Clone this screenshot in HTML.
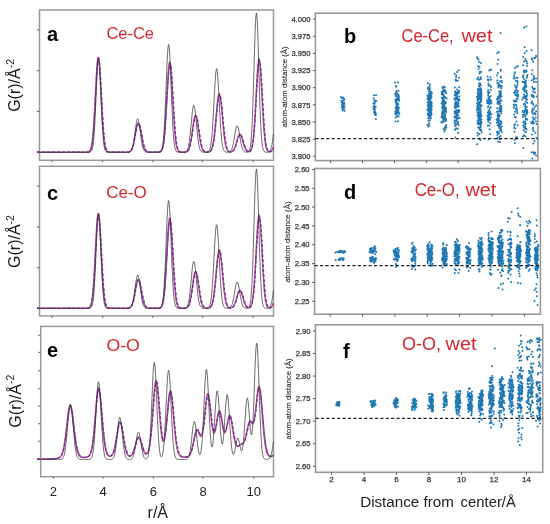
<!DOCTYPE html>
<html><head><meta charset="utf-8"><style>
html,body{margin:0;padding:0;background:#fff;width:550px;height:524px;overflow:hidden}
svg{display:block;filter:blur(0.35px)}
</style></head><body>
<svg width="550" height="524" viewBox="0 0 550 524">
<rect width="550" height="524" fill="#fff"/>
<defs>
<clipPath id="ca"><rect x="37" y="8" width="237" height="152"/></clipPath>
<clipPath id="cc"><rect x="37" y="165" width="237" height="151"/></clipPath>
<clipPath id="ce"><rect x="37" y="324" width="237" height="152"/></clipPath>
</defs>
<rect x="39.5" y="10" width="234.0" height="150.3" fill="none" stroke="#999999" stroke-width="1.5"/>
<line x1="37.0" y1="29.8" x2="39.5" y2="29.8" stroke="#777" stroke-width="1.2"/>
<line x1="37.0" y1="70.6" x2="39.5" y2="70.6" stroke="#777" stroke-width="1.2"/>
<line x1="37.0" y1="111.4" x2="39.5" y2="111.4" stroke="#777" stroke-width="1.2"/>
<line x1="37.0" y1="152.2" x2="39.5" y2="152.2" stroke="#777" stroke-width="1.2"/>
<line x1="52" y1="160.3" x2="52" y2="162.3" stroke="#777" stroke-width="1.2"/>
<line x1="102.6" y1="160.3" x2="102.6" y2="162.3" stroke="#777" stroke-width="1.2"/>
<line x1="152.8" y1="160.3" x2="152.8" y2="162.3" stroke="#777" stroke-width="1.2"/>
<line x1="202.5" y1="160.3" x2="202.5" y2="162.3" stroke="#777" stroke-width="1.2"/>
<line x1="253.2" y1="160.3" x2="253.2" y2="162.3" stroke="#777" stroke-width="1.2"/>
<g clip-path="url(#ca)">
<path d="M37.00,152.20 L37.50,152.20 L38.00,152.20 L38.50,152.20 L39.00,152.20 L39.50,152.20 L40.00,152.20 L40.50,152.20 L41.00,152.20 L41.50,152.20 L42.00,152.20 L42.50,152.20 L43.00,152.20 L43.50,152.20 L44.00,152.20 L44.50,152.20 L45.00,152.20 L45.50,152.20 L46.00,152.20 L46.50,152.20 L47.00,152.20 L47.50,152.20 L48.00,152.20 L48.50,152.20 L49.00,152.20 L49.50,152.20 L50.00,152.20 L50.50,152.20 L51.00,152.20 L51.50,152.20 L52.00,152.20 L52.50,152.20 L53.00,152.20 L53.50,152.20 L54.00,152.20 L54.50,152.20 L55.00,152.20 L55.50,152.20 L56.00,152.20 L56.50,152.20 L57.00,152.20 L57.50,152.20 L58.00,152.20 L58.50,152.20 L59.00,152.20 L59.50,152.20 L60.00,152.20 L60.50,152.20 L61.00,152.20 L61.50,152.20 L62.00,152.20 L62.50,152.20 L63.00,152.20 L63.50,152.20 L64.00,152.20 L64.50,152.20 L65.00,152.20 L65.50,152.20 L66.00,152.20 L66.50,152.20 L67.00,152.20 L67.50,152.20 L68.00,152.20 L68.50,152.20 L69.00,152.20 L69.50,152.20 L70.00,152.20 L70.50,152.20 L71.00,152.20 L71.50,152.20 L72.00,152.20 L72.50,152.20 L73.00,152.20 L73.50,152.20 L74.00,152.20 L74.50,152.20 L75.00,152.20 L75.50,152.20 L76.00,152.20 L76.50,152.20 L77.00,152.20 L77.50,152.20 L78.00,152.20 L78.50,152.20 L79.00,152.20 L79.50,152.20 L80.00,152.20 L80.50,152.20 L81.00,152.20 L81.50,152.20 L82.00,152.20 L82.50,152.20 L83.00,152.20 L83.50,152.20 L84.00,152.20 L84.50,152.20 L85.00,152.20 L85.50,152.20 L86.00,152.19 L86.50,152.18 L87.00,152.16 L87.50,152.13 L88.00,152.06 L88.50,151.94 L89.00,151.73 L89.50,151.37 L90.00,150.80 L90.50,149.90 L91.00,148.54 L91.50,146.56 L92.00,143.76 L92.50,139.96 L93.00,135.00 L93.50,128.76 L94.00,121.23 L94.50,112.53 L95.00,102.93 L95.50,92.88 L96.00,82.95 L96.50,73.82 L97.00,66.20 L97.50,60.70 L98.00,57.83 L98.50,57.83 L99.00,60.70 L99.50,66.20 L100.00,73.82 L100.50,82.95 L101.00,92.88 L101.50,102.93 L102.00,112.53 L102.50,121.23 L103.00,128.76 L103.50,135.00 L104.00,139.96 L104.50,143.76 L105.00,146.56 L105.50,148.54 L106.00,149.90 L106.50,150.80 L107.00,151.37 L107.50,151.73 L108.00,151.94 L108.50,152.06 L109.00,152.13 L109.50,152.16 L110.00,152.18 L110.50,152.19 L111.00,152.20 L111.50,152.20 L112.00,152.20 L112.50,152.20 L113.00,152.20 L113.50,152.20 L114.00,152.20 L114.50,152.20 L115.00,152.20 L115.50,152.20 L116.00,152.20 L116.50,152.20 L117.00,152.20 L117.50,152.20 L118.00,152.20 L118.50,152.20 L119.00,152.20 L119.50,152.20 L120.00,152.20 L120.50,152.20 L121.00,152.20 L121.50,152.20 L122.00,152.20 L122.50,152.20 L123.00,152.20 L123.50,152.20 L124.00,152.20 L124.50,152.20 L125.00,152.20 L125.50,152.20 L126.00,152.19 L126.50,152.18 L127.00,152.17 L127.50,152.14 L128.00,152.10 L128.50,152.03 L129.00,151.92 L129.50,151.74 L130.00,151.47 L130.50,151.08 L131.00,150.52 L131.50,149.74 L132.00,148.71 L132.50,147.37 L133.00,145.69 L133.50,143.66 L134.00,141.30 L134.50,138.67 L135.00,135.84 L135.50,132.96 L136.00,130.17 L136.50,127.64 L137.00,125.57 L137.50,124.08 L138.00,123.31 L138.50,123.31 L139.00,124.08 L139.50,125.57 L140.00,127.64 L140.50,130.17 L141.00,132.96 L141.50,135.84 L142.00,138.67 L142.50,141.30 L143.00,143.66 L143.50,145.69 L144.00,147.37 L144.50,148.71 L145.00,149.74 L145.50,150.52 L146.00,151.08 L146.50,151.47 L147.00,151.74 L147.50,151.92 L148.00,152.03 L148.50,152.10 L149.00,152.14 L149.50,152.17 L150.00,152.18 L150.50,152.19 L151.00,152.20 L151.50,152.20 L152.00,152.20 L152.50,152.20 L153.00,152.20 L153.50,152.20 L154.00,152.20 L154.50,152.20 L155.00,152.20 L155.50,152.20 L156.00,152.20 L156.50,152.20 L157.00,152.19 L157.50,152.18 L158.00,152.17 L158.50,152.14 L159.00,152.09 L159.50,151.99 L160.00,151.83 L160.50,151.56 L161.00,151.12 L161.50,150.44 L162.00,149.41 L162.50,147.89 L163.00,145.74 L163.50,142.78 L164.00,138.88 L164.50,133.89 L165.00,127.75 L165.50,120.48 L166.00,112.22 L166.50,103.24 L167.00,93.96 L167.50,84.90 L168.00,76.65 L168.50,69.80 L169.00,64.89 L169.50,62.33 L170.00,62.33 L170.50,64.89 L171.00,69.80 L171.50,76.65 L172.00,84.90 L172.50,93.96 L173.00,103.24 L173.50,112.22 L174.00,120.48 L174.50,127.75 L175.00,133.89 L175.50,138.88 L176.00,142.78 L176.50,145.74 L177.00,147.89 L177.50,149.41 L178.00,150.44 L178.50,151.12 L179.00,151.56 L179.50,151.83 L180.00,151.99 L180.50,152.09 L181.00,152.14 L181.50,152.17 L182.00,152.18 L182.50,152.19 L183.00,152.19 L183.50,152.18 L184.00,152.17 L184.50,152.15 L185.00,152.11 L185.50,152.05 L186.00,151.94 L186.50,151.77 L187.00,151.50 L187.50,151.10 L188.00,150.52 L188.50,149.71 L189.00,148.60 L189.50,147.14 L190.00,145.27 L190.50,142.97 L191.00,140.22 L191.50,137.08 L192.00,133.63 L192.50,129.99 L193.00,126.35 L193.50,122.92 L194.00,119.92 L194.50,117.57 L195.00,116.03 L195.50,115.44 L196.00,115.84 L196.50,117.19 L197.00,119.39 L197.50,122.28 L198.00,125.64 L198.50,129.26 L199.00,132.91 L199.50,136.41 L200.00,139.62 L200.50,142.45 L201.00,144.84 L201.50,146.80 L202.00,148.34 L202.50,149.51 L203.00,150.38 L203.50,151.00 L204.00,151.43 L204.50,151.72 L205.00,151.91 L205.50,152.02 L206.00,152.09 L206.50,152.13 L207.00,152.14 L207.50,152.13 L208.00,152.10 L208.50,152.03 L209.00,151.92 L209.50,151.73 L210.00,151.45 L210.50,151.01 L211.00,150.37 L211.50,149.45 L212.00,148.17 L212.50,146.44 L213.00,144.19 L213.50,141.33 L214.00,137.82 L214.50,133.66 L215.00,128.90 L215.50,123.64 L216.00,118.08 L216.50,112.46 L217.00,107.07 L217.50,102.24 L218.00,98.28 L218.50,95.47 L219.00,94.01 L219.50,94.01 L220.00,95.47 L220.50,98.28 L221.00,102.24 L221.50,107.07 L222.00,112.46 L222.50,118.08 L223.00,123.64 L223.50,128.90 L224.00,133.66 L224.50,137.82 L225.00,141.33 L225.50,144.19 L226.00,146.44 L226.50,148.17 L227.00,149.44 L227.50,150.36 L228.00,151.00 L228.50,151.43 L229.00,151.70 L229.50,151.87 L230.00,151.94 L230.50,151.95 L231.00,151.89 L231.50,151.76 L232.00,151.55 L232.50,151.23 L233.00,150.78 L233.50,150.17 L234.00,149.38 L234.50,148.39 L235.00,147.17 L235.50,145.75 L236.00,144.15 L236.50,142.41 L237.00,140.62 L237.50,138.87 L238.00,137.26 L238.50,135.91 L239.00,134.91 L239.50,134.34 L240.00,134.24 L240.50,134.63 L241.00,135.46 L241.50,136.69 L242.00,138.20 L242.50,139.91 L243.00,141.70 L243.50,143.46 L244.00,145.13 L244.50,146.63 L245.00,147.93 L245.50,149.01 L246.00,149.88 L246.50,150.55 L247.00,151.05 L247.50,151.40 L248.00,151.63 L248.50,151.74 L249.00,151.74 L249.50,151.61 L250.00,151.32 L250.50,150.80 L251.00,149.99 L251.50,148.74 L252.00,146.94 L252.50,144.41 L253.00,140.99 L253.50,136.52 L254.00,130.90 L254.50,124.08 L255.00,116.14 L255.50,107.28 L256.00,97.83 L256.50,88.27 L257.00,79.17 L257.50,71.16 L258.00,64.83 L258.50,60.69 L259.00,59.09 L259.50,60.16 L260.00,63.81 L260.50,69.74 L261.00,77.46 L261.50,86.40 L262.00,95.91 L262.50,105.42 L263.00,114.44 L263.50,122.58 L264.00,129.63 L264.50,135.49 L265.00,140.19 L265.50,143.81 L266.00,146.50 L266.50,148.44 L267.00,149.78 L267.50,150.68 L268.00,151.26 L268.50,151.61 L269.00,151.79 L269.50,151.84 L270.00,151.78 L270.50,151.62 L271.00,151.33 L271.50,150.88 L272.00,150.24 L272.50,149.35 L273.00,148.17 L273.50,146.66" fill="none" stroke="#c84a8a" stroke-width="1.5"/>
<path d="M37.00,152.20 L37.50,152.20 L38.00,152.20 L38.50,152.20 L39.00,152.20 L39.50,152.20 L40.00,152.20 L40.50,152.20 L41.00,152.20 L41.50,152.20 L42.00,152.20 L42.50,152.20 L43.00,152.20 L43.50,152.20 L44.00,152.20 L44.50,152.20 L45.00,152.20 L45.50,152.20 L46.00,152.20 L46.50,152.20 L47.00,152.20 L47.50,152.20 L48.00,152.20 L48.50,152.20 L49.00,152.20 L49.50,152.20 L50.00,152.20 L50.50,152.20 L51.00,152.20 L51.50,152.20 L52.00,152.20 L52.50,152.20 L53.00,152.20 L53.50,152.20 L54.00,152.20 L54.50,152.20 L55.00,152.20 L55.50,152.20 L56.00,152.20 L56.50,152.20 L57.00,152.20 L57.50,152.20 L58.00,152.20 L58.50,152.20 L59.00,152.20 L59.50,152.20 L60.00,152.20 L60.50,152.20 L61.00,152.20 L61.50,152.20 L62.00,152.20 L62.50,152.20 L63.00,152.20 L63.50,152.20 L64.00,152.20 L64.50,152.20 L65.00,152.20 L65.50,152.20 L66.00,152.20 L66.50,152.20 L67.00,152.20 L67.50,152.20 L68.00,152.20 L68.50,152.20 L69.00,152.20 L69.50,152.20 L70.00,152.20 L70.50,152.20 L71.00,152.20 L71.50,152.20 L72.00,152.20 L72.50,152.20 L73.00,152.20 L73.50,152.20 L74.00,152.20 L74.50,152.20 L75.00,152.20 L75.50,152.20 L76.00,152.20 L76.50,152.20 L77.00,152.20 L77.50,152.20 L78.00,152.20 L78.50,152.20 L79.00,152.20 L79.50,152.20 L80.00,152.20 L80.50,152.20 L81.00,152.20 L81.50,152.20 L82.00,152.20 L82.50,152.20 L83.00,152.20 L83.50,152.20 L84.00,152.20 L84.50,152.20 L85.00,152.20 L85.50,152.20 L86.00,152.19 L86.50,152.18 L87.00,152.16 L87.50,152.13 L88.00,152.07 L88.50,151.95 L89.00,151.76 L89.50,151.44 L90.00,150.92 L90.50,150.11 L91.00,148.89 L91.50,147.11 L92.00,144.59 L92.50,141.17 L93.00,136.67 L93.50,130.98 L94.00,124.06 L94.50,115.97 L95.00,106.92 L95.50,97.27 L96.00,87.51 L96.50,78.25 L97.00,70.14 L97.50,63.81 L98.00,59.78 L98.50,58.40 L99.00,59.78 L99.50,63.81 L100.00,70.14 L100.50,78.25 L101.00,87.51 L101.50,97.27 L102.00,106.92 L102.50,115.97 L103.00,124.06 L103.50,130.98 L104.00,136.67 L104.50,141.17 L105.00,144.59 L105.50,147.11 L106.00,148.89 L106.50,150.11 L107.00,150.92 L107.50,151.44 L108.00,151.76 L108.50,151.95 L109.00,152.07 L109.50,152.13 L110.00,152.16 L110.50,152.18 L111.00,152.19 L111.50,152.20 L112.00,152.20 L112.50,152.20 L113.00,152.20 L113.50,152.20 L114.00,152.20 L114.50,152.20 L115.00,152.20 L115.50,152.20 L116.00,152.20 L116.50,152.20 L117.00,152.20 L117.50,152.20 L118.00,152.20 L118.50,152.20 L119.00,152.20 L119.50,152.20 L120.00,152.20 L120.50,152.20 L121.00,152.20 L121.50,152.20 L122.00,152.20 L122.50,152.20 L123.00,152.20 L123.50,152.20 L124.00,152.20 L124.50,152.20 L125.00,152.20 L125.50,152.20 L126.00,152.19 L126.50,152.18 L127.00,152.17 L127.50,152.15 L128.00,152.11 L128.50,152.04 L129.00,151.94 L129.50,151.78 L130.00,151.53 L130.50,151.17 L131.00,150.66 L131.50,149.96 L132.00,149.01 L132.50,147.79 L133.00,146.25 L133.50,144.38 L134.00,142.19 L134.50,139.72 L135.00,137.03 L135.50,134.23 L136.00,131.47 L136.50,128.89 L137.00,126.67 L137.50,124.96 L138.00,123.87 L138.50,123.50 L139.00,123.87 L139.50,124.96 L140.00,126.67 L140.50,128.89 L141.00,131.47 L141.50,134.23 L142.00,137.03 L142.50,139.72 L143.00,142.19 L143.50,144.38 L144.00,146.25 L144.50,147.79 L145.00,149.01 L145.50,149.96 L146.00,150.66 L146.50,151.17 L147.00,151.53 L147.50,151.78 L148.00,151.94 L148.50,152.04 L149.00,152.11 L149.50,152.15 L150.00,152.17 L150.50,152.18 L151.00,152.19 L151.50,152.20 L152.00,152.20 L152.50,152.20 L153.00,152.20 L153.50,152.20 L154.00,152.20 L154.50,152.20 L155.00,152.20 L155.50,152.20 L156.00,152.20 L156.50,152.20 L157.00,152.19 L157.50,152.18 L158.00,152.17 L158.50,152.14 L159.00,152.09 L159.50,152.00 L160.00,151.85 L160.50,151.61 L161.00,151.21 L161.50,150.59 L162.00,149.65 L162.50,148.28 L163.00,146.33 L163.50,143.66 L164.00,140.11 L164.50,135.57 L165.00,129.93 L165.50,123.21 L166.00,115.49 L166.50,106.98 L167.00,98.04 L167.50,89.10 L168.00,80.69 L168.50,73.39 L169.00,67.73 L169.50,64.13 L170.00,62.90 L170.50,64.13 L171.00,67.73 L171.50,73.39 L172.00,80.69 L172.50,89.10 L173.00,98.04 L173.50,106.98 L174.00,115.49 L174.50,123.21 L175.00,129.93 L175.50,135.57 L176.00,140.11 L176.50,143.66 L177.00,146.33 L177.50,148.28 L178.00,149.65 L178.50,150.59 L179.00,151.21 L179.50,151.61 L180.00,151.85 L180.50,152.00 L181.00,152.09 L181.50,152.14 L182.00,152.17 L182.50,152.18 L183.00,152.19 L183.50,152.18 L184.00,152.17 L184.50,152.15 L185.00,152.12 L185.50,152.05 L186.00,151.95 L186.50,151.80 L187.00,151.55 L187.50,151.19 L188.00,150.66 L188.50,149.93 L189.00,148.92 L189.50,147.58 L190.00,145.88 L190.50,143.76 L191.00,141.22 L191.50,138.29 L192.00,135.03 L192.50,131.54 L193.00,127.99 L193.50,124.56 L194.00,121.45 L194.50,118.86 L195.00,116.99 L195.50,115.97 L196.00,115.88 L196.50,116.72 L197.00,118.43 L197.50,120.88 L198.00,123.90 L198.50,127.29 L199.00,130.83 L199.50,134.34 L200.00,137.66 L200.50,140.67 L201.00,143.29 L201.50,145.49 L202.00,147.27 L202.50,148.68 L203.00,149.75 L203.50,150.53 L204.00,151.10 L204.50,151.49 L205.00,151.75 L205.50,151.92 L206.00,152.03 L206.50,152.09 L207.00,152.12 L207.50,152.12 L208.00,152.09 L208.50,152.03 L209.00,151.93 L209.50,151.76 L210.00,151.49 L210.50,151.09 L211.00,150.50 L211.50,149.66 L212.00,148.49 L212.50,146.92 L213.00,144.86 L213.50,142.23 L214.00,139.00 L214.50,135.15 L215.00,130.70 L215.50,125.74 L216.00,120.42 L216.50,114.95 L217.00,109.60 L217.50,104.66 L218.00,100.41 L218.50,97.15 L219.00,95.10 L219.50,94.40 L220.00,95.10 L220.50,97.15 L221.00,100.41 L221.50,104.66 L222.00,109.60 L222.50,114.95 L223.00,120.42 L223.50,125.74 L224.00,130.70 L224.50,135.15 L225.00,139.00 L225.50,142.23 L226.00,144.85 L226.50,146.92 L227.00,148.49 L227.50,149.66 L228.00,150.49 L228.50,151.08 L229.00,151.47 L229.50,151.71 L230.00,151.85 L230.50,151.90 L231.00,151.87 L231.50,151.77 L232.00,151.59 L232.50,151.30 L233.00,150.90 L233.50,150.35 L234.00,149.63 L234.50,148.72 L235.00,147.60 L235.50,146.28 L236.00,144.78 L236.50,143.13 L237.00,141.40 L237.50,139.68 L238.00,138.05 L238.50,136.62 L239.00,135.49 L239.50,134.73 L240.00,134.41 L240.50,134.55 L241.00,135.13 L241.50,136.13 L242.00,137.45 L242.50,139.01 L243.00,140.71 L243.50,142.45 L244.00,144.13 L244.50,145.70 L245.00,147.10 L245.50,148.29 L246.00,149.29 L246.50,150.08 L247.00,150.68 L247.50,151.13 L248.00,151.43 L248.50,151.61 L249.00,151.66 L249.50,151.58 L250.00,151.34 L250.50,150.89 L251.00,150.16 L251.50,149.04 L252.00,147.41 L252.50,145.13 L253.00,142.03 L253.50,137.97 L254.00,132.84 L254.50,126.56 L255.00,119.19 L255.50,110.86 L256.00,101.85 L256.50,92.56 L257.00,83.48 L257.50,75.19 L258.00,68.26 L258.50,63.22 L259.00,60.46 L259.50,60.20 L260.00,62.48 L260.50,67.09 L261.00,73.68 L261.50,81.74 L262.00,90.70 L262.50,100.00 L263.00,109.11 L263.50,117.60 L264.00,125.18 L264.50,131.67 L265.00,137.03 L265.50,141.30 L266.00,144.58 L266.50,147.02 L267.00,148.77 L267.50,149.98 L268.00,150.79 L268.50,151.30 L269.00,151.60 L269.50,151.74 L270.00,151.74 L270.50,151.63 L271.00,151.38 L271.50,150.99 L272.00,150.41 L272.50,149.61 L273.00,148.54 L273.50,147.17" fill="none" stroke="#7a35a0" stroke-width="1.3" stroke-dasharray="3,2"/>
<path d="M37.00,151.83 L37.50,151.81 L38.00,152.42 L38.50,152.54 L39.00,152.62 L39.50,152.32 L40.00,152.38 L40.50,152.33 L41.00,152.39 L41.50,152.51 L42.00,152.35 L42.50,152.12 L43.00,151.62 L43.50,151.76 L44.00,151.97 L44.50,152.35 L45.00,152.62 L45.50,152.38 L46.00,152.48 L46.50,152.42 L47.00,152.62 L47.50,152.18 L48.00,151.95 L48.50,152.08 L49.00,152.45 L49.50,152.39 L50.00,152.24 L50.50,152.25 L51.00,152.39 L51.50,152.24 L52.00,151.78 L52.50,151.95 L53.00,152.18 L53.50,152.65 L54.00,152.84 L54.50,152.89 L55.00,152.93 L55.50,152.34 L56.00,152.21 L56.50,152.31 L57.00,152.38 L57.50,152.42 L58.00,152.44 L58.50,152.65 L59.00,152.69 L59.50,152.54 L60.00,152.44 L60.50,152.72 L61.00,152.61 L61.50,152.45 L62.00,151.93 L62.50,151.70 L63.00,151.69 L63.50,151.58 L64.00,151.95 L64.50,152.00 L65.00,152.56 L65.50,152.47 L66.00,152.93 L66.50,152.44 L67.00,152.12 L67.50,151.84 L68.00,151.71 L68.50,152.05 L69.00,151.99 L69.50,152.26 L70.00,152.33 L70.50,152.28 L71.00,151.98 L71.50,151.97 L72.00,151.90 L72.50,152.25 L73.00,151.78 L73.50,151.85 L74.00,151.71 L74.50,151.90 L75.00,151.94 L75.50,152.28 L76.00,152.16 L76.50,152.43 L77.00,152.16 L77.50,152.29 L78.00,152.20 L78.50,152.21 L79.00,152.12 L79.50,151.99 L80.00,152.16 L80.50,152.84 L81.00,153.00 L81.50,152.95 L82.00,152.55 L82.50,152.54 L83.00,152.38 L83.50,152.39 L84.00,152.25 L84.50,152.20 L85.00,152.25 L85.50,152.28 L86.00,152.02 L86.50,151.73 L87.00,151.88 L87.50,152.22 L88.00,152.22 L88.50,151.70 L89.00,151.49 L89.50,151.40 L90.00,151.27 L90.50,150.49 L91.00,149.29 L91.50,147.71 L92.00,145.65 L92.50,142.77 L93.00,138.60 L93.50,133.61 L94.00,127.22 L94.50,119.81 L95.00,111.21 L95.50,102.28 L96.00,92.70 L96.50,83.59 L97.00,74.85 L97.50,68.05 L98.00,63.02 L98.50,60.19 L99.00,59.76 L99.50,61.83 L100.00,66.59 L100.50,73.55 L101.00,81.96 L101.50,91.24 L102.00,100.31 L102.50,109.30 L103.00,117.94 L103.50,125.78 L104.00,132.47 L104.50,137.76 L105.00,141.89 L105.50,145.08 L106.00,147.62 L106.50,149.58 L107.00,150.62 L107.50,151.09 L108.00,151.22 L108.50,151.66 L109.00,151.75 L109.50,151.99 L110.00,151.96 L110.50,151.98 L111.00,151.98 L111.50,152.11 L112.00,152.08 L112.50,152.37 L113.00,152.21 L113.50,152.39 L114.00,152.12 L114.50,152.25 L115.00,152.26 L115.50,152.35 L116.00,152.06 L116.50,152.19 L117.00,152.15 L117.50,152.36 L118.00,152.45 L118.50,152.01 L119.00,151.98 L119.50,152.01 L120.00,152.22 L120.50,152.39 L121.00,152.08 L121.50,152.17 L122.00,152.10 L122.50,152.24 L123.00,152.47 L123.50,152.38 L124.00,152.58 L124.50,152.70 L125.00,152.70 L125.50,152.25 L126.00,151.94 L126.50,151.62 L127.00,151.66 L127.50,151.83 L128.00,152.11 L128.50,152.50 L129.00,152.49 L129.50,152.49 L130.00,151.89 L130.50,151.31 L131.00,150.78 L131.50,150.31 L132.00,149.84 L132.50,148.67 L133.00,147.15 L133.50,145.13 L134.00,143.24 L134.50,140.65 L135.00,138.00 L135.50,135.20 L136.00,132.91 L136.50,130.55 L137.00,128.15 L137.50,126.12 L138.00,124.58 L138.50,123.71 L139.00,123.41 L139.50,123.93 L140.00,125.36 L140.50,127.37 L141.00,129.91 L141.50,132.56 L142.00,135.02 L142.50,137.73 L143.00,139.87 L143.50,142.59 L144.00,144.53 L144.50,146.44 L145.00,147.82 L145.50,148.94 L146.00,150.04 L146.50,150.79 L147.00,151.36 L147.50,151.77 L148.00,151.65 L148.50,151.81 L149.00,151.51 L149.50,152.30 L150.00,152.30 L150.50,152.52 L151.00,152.14 L151.50,151.96 L152.00,151.96 L152.50,151.95 L153.00,152.07 L153.50,151.70 L154.00,151.62 L154.50,151.64 L155.00,152.18 L155.50,152.20 L156.00,152.46 L156.50,152.42 L157.00,152.03 L157.50,151.63 L158.00,151.48 L158.50,151.68 L159.00,151.50 L159.50,151.43 L160.00,151.14 L160.50,151.05 L161.00,150.78 L161.50,150.29 L162.00,150.05 L162.50,148.97 L163.00,147.51 L163.50,144.92 L164.00,141.72 L164.50,137.82 L165.00,132.71 L165.50,126.13 L166.00,118.81 L166.50,110.76 L167.00,102.46 L167.50,93.86 L168.00,85.22 L168.50,77.67 L169.00,70.94 L169.50,66.67 L170.00,64.05 L170.50,64.07 L171.00,66.12 L171.50,70.33 L172.00,76.60 L172.50,83.63 L173.00,92.09 L173.50,100.56 L174.00,109.42 L174.50,117.45 L175.00,125.17 L175.50,131.48 L176.00,137.01 L176.50,140.89 L177.00,144.22 L177.50,146.51 L178.00,148.52 L178.50,149.49 L179.00,150.09 L179.50,150.58 L180.00,151.27 L180.50,151.85 L181.00,151.75 L181.50,151.52 L182.00,151.81 L182.50,152.15 L183.00,152.66 L183.50,152.64 L184.00,152.81 L184.50,152.55 L185.00,152.53 L185.50,151.95 L186.00,151.77 L186.50,151.61 L187.00,151.82 L187.50,151.75 L188.00,150.89 L188.50,150.20 L189.00,149.46 L189.50,148.52 L190.00,146.79 L190.50,144.75 L191.00,142.16 L191.50,139.49 L192.00,136.27 L192.50,133.38 L193.00,129.99 L193.50,126.68 L194.00,123.71 L194.50,120.85 L195.00,118.91 L195.50,117.06 L196.00,116.73 L196.50,116.37 L197.00,117.45 L197.50,118.99 L198.00,121.77 L198.50,125.11 L199.00,128.98 L199.50,132.64 L200.00,135.64 L200.50,138.40 L201.00,141.06 L201.50,143.51 L202.00,145.84 L202.50,147.60 L203.00,148.74 L203.50,149.59 L204.00,150.72 L204.50,151.61 L205.00,151.97 L205.50,151.81 L206.00,152.08 L206.50,152.09 L207.00,152.58 L207.50,152.31 L208.00,152.05 L208.50,151.42 L209.00,151.72 L209.50,151.78 L210.00,152.26 L210.50,151.61 L211.00,151.15 L211.50,150.07 L212.00,149.03 L212.50,147.59 L213.00,145.43 L213.50,143.12 L214.00,140.18 L214.50,137.15 L215.00,133.27 L215.50,128.77 L216.00,123.37 L216.50,117.91 L217.00,112.30 L217.50,107.45 L218.00,102.98 L218.50,99.48 L219.00,96.71 L219.50,95.13 L220.00,95.14 L220.50,96.05 L221.00,98.63 L221.50,101.87 L222.00,106.48 L222.50,111.13 L223.00,116.80 L223.50,122.00 L224.00,127.41 L224.50,131.86 L225.00,135.95 L225.50,139.70 L226.00,142.99 L226.50,145.82 L227.00,147.52 L227.50,149.09 L228.00,150.01 L228.50,151.06 L229.00,151.48 L229.50,151.93 L230.00,151.88 L230.50,151.91 L231.00,151.95 L231.50,151.97 L232.00,151.76 L232.50,151.89 L233.00,151.61 L233.50,151.07 L234.00,149.80 L234.50,148.57 L235.00,147.46 L235.50,146.43 L236.00,145.54 L236.50,144.10 L237.00,142.33 L237.50,140.27 L238.00,138.79 L238.50,137.39 L239.00,136.19 L239.50,134.79 L240.00,134.23 L240.50,134.32 L241.00,135.05 L241.50,135.88 L242.00,136.98 L242.50,138.10 L243.00,139.43 L243.50,140.87 L244.00,142.49 L244.50,144.35 L245.00,145.90 L245.50,147.48 L246.00,148.52 L246.50,149.30 L247.00,149.98 L247.50,150.86 L248.00,151.51 L248.50,151.88 L249.00,151.95 L249.50,152.03 L250.00,151.58 L250.50,150.69 L251.00,150.02 L251.50,149.05 L252.00,147.72 L252.50,145.83 L253.00,143.28 L253.50,139.89 L254.00,135.08 L254.50,129.68 L255.00,123.01 L255.50,115.15 L256.00,106.18 L256.50,96.87 L257.00,88.12 L257.50,79.51 L258.00,72.22 L258.50,66.44 L259.00,62.65 L259.50,61.13 L260.00,61.54 L260.50,64.78 L261.00,69.72 L261.50,76.70 L262.00,84.89 L262.50,93.79 L263.00,102.81 L263.50,111.55 L264.00,119.55 L264.50,126.80 L265.00,132.92 L265.50,138.24 L266.00,142.39 L266.50,145.44 L267.00,147.32 L267.50,148.86 L268.00,149.90 L268.50,151.15 L269.00,151.58 L269.50,151.59 L270.00,151.35 L270.50,151.31 L271.00,151.39 L271.50,151.35 L272.00,150.89 L272.50,150.35 L273.00,149.42 L273.50,148.06" fill="none" stroke="#4040b0" stroke-width="1.0" stroke-dasharray="2,3" stroke-dashoffset="0.5" stroke-opacity="0.8"/>
<path d="M37.00,152.20 L37.50,152.20 L38.00,152.20 L38.50,152.20 L39.00,152.20 L39.50,152.20 L40.00,152.20 L40.50,152.20 L41.00,152.20 L41.50,152.20 L42.00,152.20 L42.50,152.20 L43.00,152.20 L43.50,152.20 L44.00,152.20 L44.50,152.20 L45.00,152.20 L45.50,152.20 L46.00,152.20 L46.50,152.20 L47.00,152.20 L47.50,152.20 L48.00,152.20 L48.50,152.20 L49.00,152.20 L49.50,152.20 L50.00,152.20 L50.50,152.20 L51.00,152.20 L51.50,152.20 L52.00,152.20 L52.50,152.20 L53.00,152.20 L53.50,152.20 L54.00,152.20 L54.50,152.20 L55.00,152.20 L55.50,152.20 L56.00,152.20 L56.50,152.20 L57.00,152.20 L57.50,152.20 L58.00,152.20 L58.50,152.20 L59.00,152.20 L59.50,152.20 L60.00,152.20 L60.50,152.20 L61.00,152.20 L61.50,152.20 L62.00,152.20 L62.50,152.20 L63.00,152.20 L63.50,152.20 L64.00,152.20 L64.50,152.20 L65.00,152.20 L65.50,152.20 L66.00,152.20 L66.50,152.20 L67.00,152.20 L67.50,152.20 L68.00,152.20 L68.50,152.20 L69.00,152.20 L69.50,152.20 L70.00,152.20 L70.50,152.20 L71.00,152.20 L71.50,152.20 L72.00,152.20 L72.50,152.20 L73.00,152.20 L73.50,152.20 L74.00,152.20 L74.50,152.20 L75.00,152.20 L75.50,152.20 L76.00,152.20 L76.50,152.20 L77.00,152.20 L77.50,152.20 L78.00,152.20 L78.50,152.20 L79.00,152.20 L79.50,152.20 L80.00,152.20 L80.50,152.20 L81.00,152.20 L81.50,152.20 L82.00,152.20 L82.50,152.20 L83.00,152.20 L83.50,152.20 L84.00,152.20 L84.50,152.20 L85.00,152.20 L85.50,152.20 L86.00,152.20 L86.50,152.20 L87.00,152.20 L87.50,152.20 L88.00,152.19 L88.50,152.18 L89.00,152.16 L89.50,152.12 L90.00,152.02 L90.50,151.83 L91.00,151.48 L91.50,150.85 L92.00,149.78 L92.50,148.04 L93.00,145.35 L93.50,141.39 L94.00,135.87 L94.50,128.59 L95.00,119.50 L95.50,108.84 L96.00,97.15 L96.50,85.28 L97.00,74.30 L97.50,65.37 L98.00,59.53 L98.50,57.50 L99.00,59.53 L99.50,65.37 L100.00,74.30 L100.50,85.28 L101.00,97.15 L101.50,108.84 L102.00,119.50 L102.50,128.59 L103.00,135.87 L103.50,141.39 L104.00,145.35 L104.50,148.04 L105.00,149.78 L105.50,150.85 L106.00,151.48 L106.50,151.83 L107.00,152.02 L107.50,152.12 L108.00,152.16 L108.50,152.18 L109.00,152.19 L109.50,152.20 L110.00,152.20 L110.50,152.20 L111.00,152.20 L111.50,152.20 L112.00,152.20 L112.50,152.20 L113.00,152.20 L113.50,152.20 L114.00,152.20 L114.50,152.20 L115.00,152.20 L115.50,152.20 L116.00,152.20 L116.50,152.20 L117.00,152.20 L117.50,152.20 L118.00,152.20 L118.50,152.20 L119.00,152.20 L119.50,152.20 L120.00,152.20 L120.50,152.20 L121.00,152.20 L121.50,152.20 L122.00,152.20 L122.50,152.20 L123.00,152.20 L123.50,152.20 L124.00,152.20 L124.50,152.20 L125.00,152.20 L125.50,152.20 L126.00,152.20 L126.50,152.20 L127.00,152.19 L127.50,152.18 L128.00,152.17 L128.50,152.14 L129.00,152.08 L129.50,151.97 L130.00,151.79 L130.50,151.48 L131.00,151.00 L131.50,150.26 L132.00,149.19 L132.50,147.69 L133.00,145.70 L133.50,143.17 L134.00,140.10 L134.50,136.59 L135.00,132.78 L135.50,128.92 L136.00,125.31 L136.50,122.26 L137.00,120.09 L137.50,119.00 L138.00,119.12 L138.50,120.44 L139.00,122.81 L139.50,126.00 L140.00,129.68 L140.50,133.55 L141.00,137.32 L141.50,140.76 L142.00,143.72 L142.50,146.14 L143.00,148.03 L143.50,149.43 L144.00,150.43 L144.50,151.11 L145.00,151.55 L145.50,151.83 L146.00,152.00 L146.50,152.09 L147.00,152.14 L147.50,152.17 L148.00,152.19 L148.50,152.19 L149.00,152.20 L149.50,152.20 L150.00,152.20 L150.50,152.20 L151.00,152.20 L151.50,152.20 L152.00,152.20 L152.50,152.20 L153.00,152.20 L153.50,152.20 L154.00,152.20 L154.50,152.20 L155.00,152.20 L155.50,152.20 L156.00,152.20 L156.50,152.20 L157.00,152.20 L157.50,152.19 L158.00,152.19 L158.50,152.17 L159.00,152.13 L159.50,152.06 L160.00,151.91 L160.50,151.63 L161.00,151.14 L161.50,150.29 L162.00,148.89 L162.50,146.70 L163.00,143.42 L163.50,138.73 L164.00,132.35 L164.50,124.08 L165.00,113.94 L165.50,102.18 L166.00,89.37 L166.50,76.38 L167.00,64.28 L167.50,54.26 L168.00,47.36 L168.50,44.39 L169.00,45.67 L169.50,51.07 L170.00,59.96 L170.50,71.37 L171.00,84.14 L171.50,97.14 L172.00,109.41 L172.50,120.24 L173.00,129.27 L173.50,136.39 L174.00,141.73 L174.50,145.54 L175.00,148.13 L175.50,149.81 L176.00,150.85 L176.50,151.47 L177.00,151.82 L177.50,152.01 L178.00,152.11 L178.50,152.16 L179.00,152.18 L179.50,152.19 L180.00,152.20 L180.50,152.20 L181.00,152.20 L181.50,152.20 L182.00,152.20 L182.50,152.20 L183.00,152.19 L183.50,152.18 L184.00,152.16 L184.50,152.12 L185.00,152.05 L185.50,151.91 L186.00,151.68 L186.50,151.29 L187.00,150.67 L187.50,149.71 L188.00,148.30 L188.50,146.33 L189.00,143.67 L189.50,140.25 L190.00,136.08 L190.50,131.24 L191.00,125.94 L191.50,120.49 L192.00,115.29 L192.50,110.81 L193.00,107.47 L193.50,105.61 L194.00,105.44 L194.50,106.97 L195.00,110.04 L195.50,114.33 L196.00,119.41 L196.50,124.85 L197.00,130.21 L197.50,135.16 L198.00,139.48 L198.50,143.05 L199.00,145.85 L199.50,147.96 L200.00,149.47 L200.50,150.50 L201.00,151.19 L201.50,151.62 L202.00,151.88 L202.50,152.03 L203.00,152.11 L203.50,152.16 L204.00,152.18 L204.50,152.19 L205.00,152.19 L205.50,152.19 L206.00,152.18 L206.50,152.16 L207.00,152.11 L207.50,152.02 L208.00,151.85 L208.50,151.55 L209.00,151.03 L209.50,150.19 L210.00,148.87 L210.50,146.87 L211.00,143.98 L211.50,139.99 L212.00,134.72 L212.50,128.09 L213.00,120.14 L213.50,111.13 L214.00,101.49 L214.50,91.87 L215.00,83.02 L215.50,75.76 L216.00,70.80 L216.50,68.66 L217.00,69.58 L217.50,73.46 L218.00,79.88 L218.50,88.19 L219.00,97.60 L219.50,107.32 L220.00,116.65 L220.50,125.06 L221.00,132.23 L221.50,138.04 L222.00,142.53 L222.50,145.83 L223.00,148.16 L223.50,149.73 L224.00,150.74 L224.50,151.37 L225.00,151.75 L225.50,151.96 L226.00,152.08 L226.50,152.14 L227.00,152.16 L227.50,152.16 L228.00,152.14 L228.50,152.10 L229.00,152.02 L229.50,151.87 L230.00,151.63 L230.50,151.25 L231.00,150.66 L231.50,149.81 L232.00,148.63 L232.50,147.05 L233.00,145.04 L233.50,142.61 L234.00,139.82 L234.50,136.80 L235.00,133.74 L235.50,130.88 L236.00,128.47 L236.50,126.74 L237.00,125.88 L237.50,125.98 L238.00,127.02 L238.50,128.90 L239.00,131.43 L239.50,134.35 L240.00,137.42 L240.50,140.40 L241.00,143.13 L241.50,145.48 L242.00,147.40 L242.50,148.89 L243.00,150.01 L243.50,150.80 L244.00,151.34 L244.50,151.69 L245.00,151.90 L245.50,152.03 L246.00,152.10 L246.50,152.13 L247.00,152.11 L247.50,152.05 L248.00,151.89 L248.50,151.58 L249.00,151.00 L249.50,149.97 L250.00,148.22 L250.50,145.41 L251.00,141.12 L251.50,134.87 L252.00,126.25 L252.50,115.00 L253.00,101.13 L253.50,85.07 L254.00,67.71 L254.50,50.37 L255.00,34.69 L255.50,22.36 L256.00,14.82 L256.50,13.02 L257.00,17.19 L257.50,26.79 L258.00,40.66 L258.50,57.21 L259.00,74.74 L259.50,91.71 L260.00,106.98 L260.50,119.82 L261.00,130.01 L261.50,137.63 L262.00,143.04 L262.50,146.69 L263.00,149.02 L263.50,150.45 L264.00,151.27 L264.50,151.73 L265.00,151.97 L265.50,152.09 L266.00,152.14 L266.50,152.16 L267.00,152.15 L267.50,152.11 L268.00,152.03 L268.50,151.89 L269.00,151.65 L269.50,151.27 L270.00,150.66 L270.50,149.76 L271.00,148.46 L271.50,146.69 L272.00,144.37 L272.50,141.48 L273.00,138.06 L273.50,134.21" fill="none" stroke="#333" stroke-opacity="0.72" stroke-width="1.0"/>
</g>
<g transform="translate(0,156.3)">
<rect x="39.5" y="10" width="234.0" height="149.6" fill="none" stroke="#999999" stroke-width="1.5"/>
<line x1="37.0" y1="29.8" x2="39.5" y2="29.8" stroke="#777" stroke-width="1.2"/>
<line x1="37.0" y1="70.6" x2="39.5" y2="70.6" stroke="#777" stroke-width="1.2"/>
<line x1="37.0" y1="111.4" x2="39.5" y2="111.4" stroke="#777" stroke-width="1.2"/>
<line x1="37.0" y1="152.2" x2="39.5" y2="152.2" stroke="#777" stroke-width="1.2"/>
<line x1="52" y1="159.6" x2="52" y2="161.6" stroke="#777" stroke-width="1.2"/>
<line x1="102.6" y1="159.6" x2="102.6" y2="161.6" stroke="#777" stroke-width="1.2"/>
<line x1="152.8" y1="159.6" x2="152.8" y2="161.6" stroke="#777" stroke-width="1.2"/>
<line x1="202.5" y1="159.6" x2="202.5" y2="161.6" stroke="#777" stroke-width="1.2"/>
<line x1="253.2" y1="159.6" x2="253.2" y2="161.6" stroke="#777" stroke-width="1.2"/>
<g clip-path="url(#ca)">
<path d="M37.00,152.00 L37.50,152.00 L38.00,152.00 L38.50,152.00 L39.00,152.00 L39.50,152.00 L40.00,152.00 L40.50,152.00 L41.00,152.00 L41.50,152.00 L42.00,152.00 L42.50,152.00 L43.00,152.00 L43.50,152.00 L44.00,152.00 L44.50,152.00 L45.00,152.00 L45.50,152.00 L46.00,152.00 L46.50,152.00 L47.00,152.00 L47.50,152.00 L48.00,152.00 L48.50,152.00 L49.00,152.00 L49.50,152.00 L50.00,152.00 L50.50,152.00 L51.00,152.00 L51.50,152.00 L52.00,152.00 L52.50,152.00 L53.00,152.00 L53.50,152.00 L54.00,152.00 L54.50,152.00 L55.00,152.00 L55.50,152.00 L56.00,152.00 L56.50,152.00 L57.00,152.00 L57.50,152.00 L58.00,152.00 L58.50,152.00 L59.00,152.00 L59.50,152.00 L60.00,152.00 L60.50,152.00 L61.00,152.00 L61.50,152.00 L62.00,152.00 L62.50,152.00 L63.00,152.00 L63.50,152.00 L64.00,152.00 L64.50,152.00 L65.00,152.00 L65.50,152.00 L66.00,152.00 L66.50,152.00 L67.00,152.00 L67.50,152.00 L68.00,152.00 L68.50,152.00 L69.00,152.00 L69.50,152.00 L70.00,152.00 L70.50,152.00 L71.00,152.00 L71.50,152.00 L72.00,152.00 L72.50,152.00 L73.00,152.00 L73.50,152.00 L74.00,152.00 L74.50,152.00 L75.00,152.00 L75.50,152.00 L76.00,152.00 L76.50,152.00 L77.00,152.00 L77.50,152.00 L78.00,152.00 L78.50,152.00 L79.00,152.00 L79.50,152.00 L80.00,152.00 L80.50,152.00 L81.00,152.00 L81.50,152.00 L82.00,152.00 L82.50,152.00 L83.00,152.00 L83.50,152.00 L84.00,152.00 L84.50,152.00 L85.00,152.00 L85.50,152.00 L86.00,151.99 L86.50,151.98 L87.00,151.96 L87.50,151.93 L88.00,151.86 L88.50,151.74 L89.00,151.53 L89.50,151.17 L90.00,150.60 L90.50,149.70 L91.00,148.34 L91.50,146.36 L92.00,143.56 L92.50,139.76 L93.00,134.80 L93.50,128.56 L94.00,121.03 L94.50,112.33 L95.00,102.73 L95.50,92.68 L96.00,82.75 L96.50,73.62 L97.00,66.00 L97.50,60.50 L98.00,57.63 L98.50,57.63 L99.00,60.50 L99.50,66.00 L100.00,73.62 L100.50,82.75 L101.00,92.68 L101.50,102.73 L102.00,112.33 L102.50,121.03 L103.00,128.56 L103.50,134.80 L104.00,139.76 L104.50,143.56 L105.00,146.36 L105.50,148.34 L106.00,149.70 L106.50,150.60 L107.00,151.17 L107.50,151.53 L108.00,151.74 L108.50,151.86 L109.00,151.93 L109.50,151.96 L110.00,151.98 L110.50,151.99 L111.00,152.00 L111.50,152.00 L112.00,152.00 L112.50,152.00 L113.00,152.00 L113.50,152.00 L114.00,152.00 L114.50,152.00 L115.00,152.00 L115.50,152.00 L116.00,152.00 L116.50,152.00 L117.00,152.00 L117.50,152.00 L118.00,152.00 L118.50,152.00 L119.00,152.00 L119.50,152.00 L120.00,152.00 L120.50,152.00 L121.00,152.00 L121.50,152.00 L122.00,152.00 L122.50,152.00 L123.00,152.00 L123.50,152.00 L124.00,152.00 L124.50,152.00 L125.00,152.00 L125.50,152.00 L126.00,151.99 L126.50,151.98 L127.00,151.97 L127.50,151.94 L128.00,151.90 L128.50,151.83 L129.00,151.72 L129.50,151.54 L130.00,151.27 L130.50,150.88 L131.00,150.32 L131.50,149.54 L132.00,148.51 L132.50,147.17 L133.00,145.49 L133.50,143.46 L134.00,141.10 L134.50,138.47 L135.00,135.64 L135.50,132.76 L136.00,129.97 L136.50,127.44 L137.00,125.37 L137.50,123.88 L138.00,123.11 L138.50,123.11 L139.00,123.88 L139.50,125.37 L140.00,127.44 L140.50,129.97 L141.00,132.76 L141.50,135.64 L142.00,138.47 L142.50,141.10 L143.00,143.46 L143.50,145.49 L144.00,147.17 L144.50,148.51 L145.00,149.54 L145.50,150.32 L146.00,150.88 L146.50,151.27 L147.00,151.54 L147.50,151.72 L148.00,151.83 L148.50,151.90 L149.00,151.94 L149.50,151.97 L150.00,151.98 L150.50,151.99 L151.00,152.00 L151.50,152.00 L152.00,152.00 L152.50,152.00 L153.00,152.00 L153.50,152.00 L154.00,152.00 L154.50,152.00 L155.00,152.00 L155.50,152.00 L156.00,152.00 L156.50,152.00 L157.00,151.99 L157.50,151.98 L158.00,151.97 L158.50,151.94 L159.00,151.89 L159.50,151.79 L160.00,151.63 L160.50,151.36 L161.00,150.92 L161.50,150.24 L162.00,149.21 L162.50,147.69 L163.00,145.54 L163.50,142.58 L164.00,138.68 L164.50,133.69 L165.00,127.55 L165.50,120.28 L166.00,112.02 L166.50,103.04 L167.00,93.76 L167.50,84.70 L168.00,76.45 L168.50,69.60 L169.00,64.69 L169.50,62.13 L170.00,62.13 L170.50,64.69 L171.00,69.60 L171.50,76.45 L172.00,84.70 L172.50,93.76 L173.00,103.04 L173.50,112.02 L174.00,120.28 L174.50,127.55 L175.00,133.69 L175.50,138.68 L176.00,142.58 L176.50,145.54 L177.00,147.69 L177.50,149.21 L178.00,150.24 L178.50,150.92 L179.00,151.36 L179.50,151.63 L180.00,151.79 L180.50,151.89 L181.00,151.94 L181.50,151.97 L182.00,151.98 L182.50,151.99 L183.00,151.99 L183.50,151.98 L184.00,151.97 L184.50,151.95 L185.00,151.91 L185.50,151.85 L186.00,151.74 L186.50,151.57 L187.00,151.30 L187.50,150.90 L188.00,150.32 L188.50,149.51 L189.00,148.40 L189.50,146.94 L190.00,145.07 L190.50,142.77 L191.00,140.02 L191.50,136.88 L192.00,133.43 L192.50,129.79 L193.00,126.15 L193.50,122.72 L194.00,119.72 L194.50,117.37 L195.00,115.83 L195.50,115.24 L196.00,115.64 L196.50,116.99 L197.00,119.19 L197.50,122.08 L198.00,125.44 L198.50,129.06 L199.00,132.71 L199.50,136.21 L200.00,139.42 L200.50,142.25 L201.00,144.64 L201.50,146.60 L202.00,148.14 L202.50,149.31 L203.00,150.18 L203.50,150.80 L204.00,151.23 L204.50,151.52 L205.00,151.71 L205.50,151.82 L206.00,151.89 L206.50,151.93 L207.00,151.94 L207.50,151.93 L208.00,151.90 L208.50,151.83 L209.00,151.72 L209.50,151.53 L210.00,151.25 L210.50,150.81 L211.00,150.17 L211.50,149.25 L212.00,147.97 L212.50,146.24 L213.00,143.99 L213.50,141.13 L214.00,137.62 L214.50,133.46 L215.00,128.70 L215.50,123.44 L216.00,117.88 L216.50,112.26 L217.00,106.87 L217.50,102.04 L218.00,98.08 L218.50,95.27 L219.00,93.81 L219.50,93.81 L220.00,95.27 L220.50,98.08 L221.00,102.04 L221.50,106.87 L222.00,112.26 L222.50,117.88 L223.00,123.44 L223.50,128.70 L224.00,133.46 L224.50,137.62 L225.00,141.13 L225.50,143.99 L226.00,146.24 L226.50,147.97 L227.00,149.24 L227.50,150.16 L228.00,150.80 L228.50,151.23 L229.00,151.50 L229.50,151.67 L230.00,151.74 L230.50,151.75 L231.00,151.69 L231.50,151.56 L232.00,151.35 L232.50,151.03 L233.00,150.58 L233.50,149.97 L234.00,149.18 L234.50,148.19 L235.00,146.97 L235.50,145.55 L236.00,143.95 L236.50,142.21 L237.00,140.42 L237.50,138.67 L238.00,137.06 L238.50,135.71 L239.00,134.71 L239.50,134.14 L240.00,134.04 L240.50,134.43 L241.00,135.26 L241.50,136.49 L242.00,138.00 L242.50,139.71 L243.00,141.50 L243.50,143.26 L244.00,144.93 L244.50,146.43 L245.00,147.73 L245.50,148.81 L246.00,149.68 L246.50,150.35 L247.00,150.85 L247.50,151.20 L248.00,151.43 L248.50,151.54 L249.00,151.54 L249.50,151.41 L250.00,151.12 L250.50,150.60 L251.00,149.79 L251.50,148.54 L252.00,146.74 L252.50,144.21 L253.00,140.79 L253.50,136.32 L254.00,130.70 L254.50,123.88 L255.00,115.94 L255.50,107.08 L256.00,97.63 L256.50,88.07 L257.00,78.97 L257.50,70.96 L258.00,64.63 L258.50,60.49 L259.00,58.89 L259.50,59.96 L260.00,63.61 L260.50,69.54 L261.00,77.26 L261.50,86.20 L262.00,95.71 L262.50,105.22 L263.00,114.24 L263.50,122.38 L264.00,129.43 L264.50,135.29 L265.00,139.99 L265.50,143.61 L266.00,146.30 L266.50,148.24 L267.00,149.58 L267.50,150.48 L268.00,151.06 L268.50,151.41 L269.00,151.59 L269.50,151.64 L270.00,151.58 L270.50,151.42 L271.00,151.13 L271.50,150.68 L272.00,150.04 L272.50,149.15 L273.00,147.97 L273.50,146.46" fill="none" stroke="#c84a8a" stroke-width="1.5"/>
<path d="M37.00,152.00 L37.50,152.00 L38.00,152.00 L38.50,152.00 L39.00,152.00 L39.50,152.00 L40.00,152.00 L40.50,152.00 L41.00,152.00 L41.50,152.00 L42.00,152.00 L42.50,152.00 L43.00,152.00 L43.50,152.00 L44.00,152.00 L44.50,152.00 L45.00,152.00 L45.50,152.00 L46.00,152.00 L46.50,152.00 L47.00,152.00 L47.50,152.00 L48.00,152.00 L48.50,152.00 L49.00,152.00 L49.50,152.00 L50.00,152.00 L50.50,152.00 L51.00,152.00 L51.50,152.00 L52.00,152.00 L52.50,152.00 L53.00,152.00 L53.50,152.00 L54.00,152.00 L54.50,152.00 L55.00,152.00 L55.50,152.00 L56.00,152.00 L56.50,152.00 L57.00,152.00 L57.50,152.00 L58.00,152.00 L58.50,152.00 L59.00,152.00 L59.50,152.00 L60.00,152.00 L60.50,152.00 L61.00,152.00 L61.50,152.00 L62.00,152.00 L62.50,152.00 L63.00,152.00 L63.50,152.00 L64.00,152.00 L64.50,152.00 L65.00,152.00 L65.50,152.00 L66.00,152.00 L66.50,152.00 L67.00,152.00 L67.50,152.00 L68.00,152.00 L68.50,152.00 L69.00,152.00 L69.50,152.00 L70.00,152.00 L70.50,152.00 L71.00,152.00 L71.50,152.00 L72.00,152.00 L72.50,152.00 L73.00,152.00 L73.50,152.00 L74.00,152.00 L74.50,152.00 L75.00,152.00 L75.50,152.00 L76.00,152.00 L76.50,152.00 L77.00,152.00 L77.50,152.00 L78.00,152.00 L78.50,152.00 L79.00,152.00 L79.50,152.00 L80.00,152.00 L80.50,152.00 L81.00,152.00 L81.50,152.00 L82.00,152.00 L82.50,152.00 L83.00,152.00 L83.50,152.00 L84.00,152.00 L84.50,152.00 L85.00,152.00 L85.50,152.00 L86.00,151.99 L86.50,151.98 L87.00,151.96 L87.50,151.93 L88.00,151.87 L88.50,151.75 L89.00,151.56 L89.50,151.24 L90.00,150.72 L90.50,149.91 L91.00,148.69 L91.50,146.91 L92.00,144.39 L92.50,140.97 L93.00,136.47 L93.50,130.78 L94.00,123.86 L94.50,115.77 L95.00,106.72 L95.50,97.07 L96.00,87.31 L96.50,78.05 L97.00,69.94 L97.50,63.61 L98.00,59.58 L98.50,58.20 L99.00,59.58 L99.50,63.61 L100.00,69.94 L100.50,78.05 L101.00,87.31 L101.50,97.07 L102.00,106.72 L102.50,115.77 L103.00,123.86 L103.50,130.78 L104.00,136.47 L104.50,140.97 L105.00,144.39 L105.50,146.91 L106.00,148.69 L106.50,149.91 L107.00,150.72 L107.50,151.24 L108.00,151.56 L108.50,151.75 L109.00,151.87 L109.50,151.93 L110.00,151.96 L110.50,151.98 L111.00,151.99 L111.50,152.00 L112.00,152.00 L112.50,152.00 L113.00,152.00 L113.50,152.00 L114.00,152.00 L114.50,152.00 L115.00,152.00 L115.50,152.00 L116.00,152.00 L116.50,152.00 L117.00,152.00 L117.50,152.00 L118.00,152.00 L118.50,152.00 L119.00,152.00 L119.50,152.00 L120.00,152.00 L120.50,152.00 L121.00,152.00 L121.50,152.00 L122.00,152.00 L122.50,152.00 L123.00,152.00 L123.50,152.00 L124.00,152.00 L124.50,152.00 L125.00,152.00 L125.50,152.00 L126.00,151.99 L126.50,151.98 L127.00,151.97 L127.50,151.95 L128.00,151.91 L128.50,151.84 L129.00,151.74 L129.50,151.58 L130.00,151.33 L130.50,150.97 L131.00,150.46 L131.50,149.76 L132.00,148.81 L132.50,147.59 L133.00,146.05 L133.50,144.18 L134.00,141.99 L134.50,139.52 L135.00,136.83 L135.50,134.03 L136.00,131.27 L136.50,128.69 L137.00,126.47 L137.50,124.76 L138.00,123.67 L138.50,123.30 L139.00,123.67 L139.50,124.76 L140.00,126.47 L140.50,128.69 L141.00,131.27 L141.50,134.03 L142.00,136.83 L142.50,139.52 L143.00,141.99 L143.50,144.18 L144.00,146.05 L144.50,147.59 L145.00,148.81 L145.50,149.76 L146.00,150.46 L146.50,150.97 L147.00,151.33 L147.50,151.58 L148.00,151.74 L148.50,151.84 L149.00,151.91 L149.50,151.95 L150.00,151.97 L150.50,151.98 L151.00,151.99 L151.50,152.00 L152.00,152.00 L152.50,152.00 L153.00,152.00 L153.50,152.00 L154.00,152.00 L154.50,152.00 L155.00,152.00 L155.50,152.00 L156.00,152.00 L156.50,152.00 L157.00,151.99 L157.50,151.98 L158.00,151.97 L158.50,151.94 L159.00,151.89 L159.50,151.80 L160.00,151.65 L160.50,151.41 L161.00,151.01 L161.50,150.39 L162.00,149.45 L162.50,148.08 L163.00,146.13 L163.50,143.46 L164.00,139.91 L164.50,135.37 L165.00,129.73 L165.50,123.01 L166.00,115.29 L166.50,106.78 L167.00,97.84 L167.50,88.90 L168.00,80.49 L168.50,73.19 L169.00,67.53 L169.50,63.93 L170.00,62.70 L170.50,63.93 L171.00,67.53 L171.50,73.19 L172.00,80.49 L172.50,88.90 L173.00,97.84 L173.50,106.78 L174.00,115.29 L174.50,123.01 L175.00,129.73 L175.50,135.37 L176.00,139.91 L176.50,143.46 L177.00,146.13 L177.50,148.08 L178.00,149.45 L178.50,150.39 L179.00,151.01 L179.50,151.41 L180.00,151.65 L180.50,151.80 L181.00,151.89 L181.50,151.94 L182.00,151.97 L182.50,151.98 L183.00,151.99 L183.50,151.98 L184.00,151.97 L184.50,151.95 L185.00,151.92 L185.50,151.85 L186.00,151.75 L186.50,151.60 L187.00,151.35 L187.50,150.99 L188.00,150.46 L188.50,149.73 L189.00,148.72 L189.50,147.38 L190.00,145.68 L190.50,143.56 L191.00,141.02 L191.50,138.09 L192.00,134.83 L192.50,131.34 L193.00,127.79 L193.50,124.36 L194.00,121.25 L194.50,118.66 L195.00,116.79 L195.50,115.77 L196.00,115.68 L196.50,116.52 L197.00,118.23 L197.50,120.68 L198.00,123.70 L198.50,127.09 L199.00,130.63 L199.50,134.14 L200.00,137.46 L200.50,140.47 L201.00,143.09 L201.50,145.29 L202.00,147.07 L202.50,148.48 L203.00,149.55 L203.50,150.33 L204.00,150.90 L204.50,151.29 L205.00,151.55 L205.50,151.72 L206.00,151.83 L206.50,151.89 L207.00,151.92 L207.50,151.92 L208.00,151.89 L208.50,151.83 L209.00,151.73 L209.50,151.56 L210.00,151.29 L210.50,150.89 L211.00,150.30 L211.50,149.46 L212.00,148.29 L212.50,146.72 L213.00,144.66 L213.50,142.03 L214.00,138.80 L214.50,134.95 L215.00,130.50 L215.50,125.54 L216.00,120.22 L216.50,114.75 L217.00,109.40 L217.50,104.46 L218.00,100.21 L218.50,96.95 L219.00,94.90 L219.50,94.20 L220.00,94.90 L220.50,96.95 L221.00,100.21 L221.50,104.46 L222.00,109.40 L222.50,114.75 L223.00,120.22 L223.50,125.54 L224.00,130.50 L224.50,134.95 L225.00,138.80 L225.50,142.03 L226.00,144.65 L226.50,146.72 L227.00,148.29 L227.50,149.46 L228.00,150.29 L228.50,150.88 L229.00,151.27 L229.50,151.51 L230.00,151.65 L230.50,151.70 L231.00,151.67 L231.50,151.57 L232.00,151.39 L232.50,151.10 L233.00,150.70 L233.50,150.15 L234.00,149.43 L234.50,148.52 L235.00,147.40 L235.50,146.08 L236.00,144.58 L236.50,142.93 L237.00,141.20 L237.50,139.48 L238.00,137.85 L238.50,136.42 L239.00,135.29 L239.50,134.53 L240.00,134.21 L240.50,134.35 L241.00,134.93 L241.50,135.93 L242.00,137.25 L242.50,138.81 L243.00,140.51 L243.50,142.25 L244.00,143.93 L244.50,145.50 L245.00,146.90 L245.50,148.09 L246.00,149.09 L246.50,149.88 L247.00,150.48 L247.50,150.93 L248.00,151.23 L248.50,151.41 L249.00,151.46 L249.50,151.38 L250.00,151.14 L250.50,150.69 L251.00,149.96 L251.50,148.84 L252.00,147.21 L252.50,144.93 L253.00,141.83 L253.50,137.77 L254.00,132.64 L254.50,126.36 L255.00,118.99 L255.50,110.66 L256.00,101.65 L256.50,92.36 L257.00,83.28 L257.50,74.99 L258.00,68.06 L258.50,63.02 L259.00,60.26 L259.50,60.00 L260.00,62.28 L260.50,66.89 L261.00,73.48 L261.50,81.54 L262.00,90.50 L262.50,99.80 L263.00,108.91 L263.50,117.40 L264.00,124.98 L264.50,131.47 L265.00,136.83 L265.50,141.10 L266.00,144.38 L266.50,146.82 L267.00,148.57 L267.50,149.78 L268.00,150.59 L268.50,151.10 L269.00,151.40 L269.50,151.54 L270.00,151.54 L270.50,151.43 L271.00,151.18 L271.50,150.79 L272.00,150.21 L272.50,149.41 L273.00,148.34 L273.50,146.97" fill="none" stroke="#7a35a0" stroke-width="1.3" stroke-dasharray="3,2"/>
<path d="M37.00,151.63 L37.50,151.61 L38.00,152.22 L38.50,152.34 L39.00,152.42 L39.50,152.12 L40.00,152.18 L40.50,152.13 L41.00,152.19 L41.50,152.31 L42.00,152.15 L42.50,151.92 L43.00,151.42 L43.50,151.56 L44.00,151.77 L44.50,152.15 L45.00,152.42 L45.50,152.18 L46.00,152.28 L46.50,152.22 L47.00,152.42 L47.50,151.98 L48.00,151.75 L48.50,151.88 L49.00,152.25 L49.50,152.19 L50.00,152.04 L50.50,152.05 L51.00,152.19 L51.50,152.04 L52.00,151.58 L52.50,151.75 L53.00,151.98 L53.50,152.45 L54.00,152.64 L54.50,152.69 L55.00,152.73 L55.50,152.14 L56.00,152.01 L56.50,152.11 L57.00,152.18 L57.50,152.22 L58.00,152.24 L58.50,152.45 L59.00,152.49 L59.50,152.34 L60.00,152.24 L60.50,152.52 L61.00,152.41 L61.50,152.25 L62.00,151.73 L62.50,151.50 L63.00,151.49 L63.50,151.38 L64.00,151.75 L64.50,151.80 L65.00,152.36 L65.50,152.27 L66.00,152.73 L66.50,152.24 L67.00,151.92 L67.50,151.64 L68.00,151.51 L68.50,151.85 L69.00,151.79 L69.50,152.06 L70.00,152.13 L70.50,152.08 L71.00,151.78 L71.50,151.77 L72.00,151.70 L72.50,152.05 L73.00,151.58 L73.50,151.65 L74.00,151.51 L74.50,151.70 L75.00,151.74 L75.50,152.08 L76.00,151.96 L76.50,152.23 L77.00,151.96 L77.50,152.09 L78.00,152.00 L78.50,152.01 L79.00,151.92 L79.50,151.79 L80.00,151.96 L80.50,152.64 L81.00,152.80 L81.50,152.75 L82.00,152.35 L82.50,152.34 L83.00,152.18 L83.50,152.19 L84.00,152.05 L84.50,152.00 L85.00,152.05 L85.50,152.08 L86.00,151.82 L86.50,151.53 L87.00,151.68 L87.50,152.02 L88.00,152.02 L88.50,151.50 L89.00,151.29 L89.50,151.20 L90.00,151.07 L90.50,150.29 L91.00,149.09 L91.50,147.51 L92.00,145.45 L92.50,142.57 L93.00,138.40 L93.50,133.41 L94.00,127.02 L94.50,119.61 L95.00,111.01 L95.50,102.08 L96.00,92.50 L96.50,83.39 L97.00,74.65 L97.50,67.85 L98.00,62.82 L98.50,59.99 L99.00,59.56 L99.50,61.63 L100.00,66.39 L100.50,73.35 L101.00,81.76 L101.50,91.04 L102.00,100.11 L102.50,109.10 L103.00,117.74 L103.50,125.58 L104.00,132.27 L104.50,137.56 L105.00,141.69 L105.50,144.88 L106.00,147.42 L106.50,149.38 L107.00,150.42 L107.50,150.89 L108.00,151.02 L108.50,151.46 L109.00,151.55 L109.50,151.79 L110.00,151.76 L110.50,151.78 L111.00,151.78 L111.50,151.91 L112.00,151.88 L112.50,152.17 L113.00,152.01 L113.50,152.19 L114.00,151.92 L114.50,152.05 L115.00,152.06 L115.50,152.15 L116.00,151.86 L116.50,151.99 L117.00,151.95 L117.50,152.16 L118.00,152.25 L118.50,151.81 L119.00,151.78 L119.50,151.81 L120.00,152.02 L120.50,152.19 L121.00,151.88 L121.50,151.97 L122.00,151.90 L122.50,152.04 L123.00,152.27 L123.50,152.18 L124.00,152.38 L124.50,152.50 L125.00,152.50 L125.50,152.05 L126.00,151.74 L126.50,151.42 L127.00,151.46 L127.50,151.63 L128.00,151.91 L128.50,152.30 L129.00,152.29 L129.50,152.29 L130.00,151.69 L130.50,151.11 L131.00,150.58 L131.50,150.11 L132.00,149.64 L132.50,148.47 L133.00,146.95 L133.50,144.93 L134.00,143.04 L134.50,140.45 L135.00,137.80 L135.50,135.00 L136.00,132.71 L136.50,130.35 L137.00,127.95 L137.50,125.92 L138.00,124.38 L138.50,123.51 L139.00,123.21 L139.50,123.73 L140.00,125.16 L140.50,127.17 L141.00,129.71 L141.50,132.36 L142.00,134.82 L142.50,137.53 L143.00,139.67 L143.50,142.39 L144.00,144.33 L144.50,146.24 L145.00,147.62 L145.50,148.74 L146.00,149.84 L146.50,150.59 L147.00,151.16 L147.50,151.57 L148.00,151.45 L148.50,151.61 L149.00,151.31 L149.50,152.10 L150.00,152.10 L150.50,152.32 L151.00,151.94 L151.50,151.76 L152.00,151.76 L152.50,151.75 L153.00,151.87 L153.50,151.50 L154.00,151.42 L154.50,151.44 L155.00,151.98 L155.50,152.00 L156.00,152.26 L156.50,152.22 L157.00,151.83 L157.50,151.43 L158.00,151.28 L158.50,151.48 L159.00,151.30 L159.50,151.23 L160.00,150.94 L160.50,150.85 L161.00,150.58 L161.50,150.09 L162.00,149.85 L162.50,148.77 L163.00,147.31 L163.50,144.72 L164.00,141.52 L164.50,137.62 L165.00,132.51 L165.50,125.93 L166.00,118.61 L166.50,110.56 L167.00,102.26 L167.50,93.66 L168.00,85.02 L168.50,77.47 L169.00,70.74 L169.50,66.47 L170.00,63.85 L170.50,63.87 L171.00,65.92 L171.50,70.13 L172.00,76.40 L172.50,83.43 L173.00,91.89 L173.50,100.36 L174.00,109.22 L174.50,117.25 L175.00,124.97 L175.50,131.28 L176.00,136.81 L176.50,140.69 L177.00,144.02 L177.50,146.31 L178.00,148.32 L178.50,149.29 L179.00,149.89 L179.50,150.38 L180.00,151.07 L180.50,151.65 L181.00,151.55 L181.50,151.32 L182.00,151.61 L182.50,151.95 L183.00,152.46 L183.50,152.44 L184.00,152.61 L184.50,152.35 L185.00,152.33 L185.50,151.75 L186.00,151.57 L186.50,151.41 L187.00,151.62 L187.50,151.55 L188.00,150.69 L188.50,150.00 L189.00,149.26 L189.50,148.32 L190.00,146.59 L190.50,144.55 L191.00,141.96 L191.50,139.29 L192.00,136.07 L192.50,133.18 L193.00,129.79 L193.50,126.48 L194.00,123.51 L194.50,120.65 L195.00,118.71 L195.50,116.86 L196.00,116.53 L196.50,116.17 L197.00,117.25 L197.50,118.79 L198.00,121.57 L198.50,124.91 L199.00,128.78 L199.50,132.44 L200.00,135.44 L200.50,138.20 L201.00,140.86 L201.50,143.31 L202.00,145.64 L202.50,147.40 L203.00,148.54 L203.50,149.39 L204.00,150.52 L204.50,151.41 L205.00,151.77 L205.50,151.61 L206.00,151.88 L206.50,151.89 L207.00,152.38 L207.50,152.11 L208.00,151.85 L208.50,151.22 L209.00,151.52 L209.50,151.58 L210.00,152.06 L210.50,151.41 L211.00,150.95 L211.50,149.87 L212.00,148.83 L212.50,147.39 L213.00,145.23 L213.50,142.92 L214.00,139.98 L214.50,136.95 L215.00,133.07 L215.50,128.57 L216.00,123.17 L216.50,117.71 L217.00,112.10 L217.50,107.25 L218.00,102.78 L218.50,99.28 L219.00,96.51 L219.50,94.93 L220.00,94.94 L220.50,95.85 L221.00,98.43 L221.50,101.67 L222.00,106.28 L222.50,110.93 L223.00,116.60 L223.50,121.80 L224.00,127.21 L224.50,131.66 L225.00,135.75 L225.50,139.50 L226.00,142.79 L226.50,145.62 L227.00,147.32 L227.50,148.89 L228.00,149.81 L228.50,150.86 L229.00,151.28 L229.50,151.73 L230.00,151.68 L230.50,151.71 L231.00,151.75 L231.50,151.77 L232.00,151.56 L232.50,151.69 L233.00,151.41 L233.50,150.87 L234.00,149.60 L234.50,148.37 L235.00,147.26 L235.50,146.23 L236.00,145.34 L236.50,143.90 L237.00,142.13 L237.50,140.07 L238.00,138.59 L238.50,137.19 L239.00,135.99 L239.50,134.59 L240.00,134.03 L240.50,134.12 L241.00,134.85 L241.50,135.68 L242.00,136.78 L242.50,137.90 L243.00,139.23 L243.50,140.67 L244.00,142.29 L244.50,144.15 L245.00,145.70 L245.50,147.28 L246.00,148.32 L246.50,149.10 L247.00,149.78 L247.50,150.66 L248.00,151.31 L248.50,151.68 L249.00,151.75 L249.50,151.83 L250.00,151.38 L250.50,150.49 L251.00,149.82 L251.50,148.85 L252.00,147.52 L252.50,145.63 L253.00,143.08 L253.50,139.69 L254.00,134.88 L254.50,129.48 L255.00,122.81 L255.50,114.95 L256.00,105.98 L256.50,96.67 L257.00,87.92 L257.50,79.31 L258.00,72.02 L258.50,66.24 L259.00,62.45 L259.50,60.93 L260.00,61.34 L260.50,64.58 L261.00,69.52 L261.50,76.50 L262.00,84.69 L262.50,93.59 L263.00,102.61 L263.50,111.35 L264.00,119.35 L264.50,126.60 L265.00,132.72 L265.50,138.04 L266.00,142.19 L266.50,145.24 L267.00,147.12 L267.50,148.66 L268.00,149.70 L268.50,150.95 L269.00,151.38 L269.50,151.39 L270.00,151.15 L270.50,151.11 L271.00,151.19 L271.50,151.15 L272.00,150.69 L272.50,150.15 L273.00,149.22 L273.50,147.86" fill="none" stroke="#4040b0" stroke-width="1.0" stroke-dasharray="2,3" stroke-dashoffset="0.5" stroke-opacity="0.8"/>
<path d="M37.00,152.00 L37.50,152.00 L38.00,152.00 L38.50,152.00 L39.00,152.00 L39.50,152.00 L40.00,152.00 L40.50,152.00 L41.00,152.00 L41.50,152.00 L42.00,152.00 L42.50,152.00 L43.00,152.00 L43.50,152.00 L44.00,152.00 L44.50,152.00 L45.00,152.00 L45.50,152.00 L46.00,152.00 L46.50,152.00 L47.00,152.00 L47.50,152.00 L48.00,152.00 L48.50,152.00 L49.00,152.00 L49.50,152.00 L50.00,152.00 L50.50,152.00 L51.00,152.00 L51.50,152.00 L52.00,152.00 L52.50,152.00 L53.00,152.00 L53.50,152.00 L54.00,152.00 L54.50,152.00 L55.00,152.00 L55.50,152.00 L56.00,152.00 L56.50,152.00 L57.00,152.00 L57.50,152.00 L58.00,152.00 L58.50,152.00 L59.00,152.00 L59.50,152.00 L60.00,152.00 L60.50,152.00 L61.00,152.00 L61.50,152.00 L62.00,152.00 L62.50,152.00 L63.00,152.00 L63.50,152.00 L64.00,152.00 L64.50,152.00 L65.00,152.00 L65.50,152.00 L66.00,152.00 L66.50,152.00 L67.00,152.00 L67.50,152.00 L68.00,152.00 L68.50,152.00 L69.00,152.00 L69.50,152.00 L70.00,152.00 L70.50,152.00 L71.00,152.00 L71.50,152.00 L72.00,152.00 L72.50,152.00 L73.00,152.00 L73.50,152.00 L74.00,152.00 L74.50,152.00 L75.00,152.00 L75.50,152.00 L76.00,152.00 L76.50,152.00 L77.00,152.00 L77.50,152.00 L78.00,152.00 L78.50,152.00 L79.00,152.00 L79.50,152.00 L80.00,152.00 L80.50,152.00 L81.00,152.00 L81.50,152.00 L82.00,152.00 L82.50,152.00 L83.00,152.00 L83.50,152.00 L84.00,152.00 L84.50,152.00 L85.00,152.00 L85.50,152.00 L86.00,152.00 L86.50,152.00 L87.00,152.00 L87.50,152.00 L88.00,151.99 L88.50,151.98 L89.00,151.96 L89.50,151.92 L90.00,151.82 L90.50,151.63 L91.00,151.28 L91.50,150.65 L92.00,149.58 L92.50,147.84 L93.00,145.15 L93.50,141.19 L94.00,135.67 L94.50,128.39 L95.00,119.30 L95.50,108.64 L96.00,96.95 L96.50,85.08 L97.00,74.10 L97.50,65.17 L98.00,59.33 L98.50,57.30 L99.00,59.33 L99.50,65.17 L100.00,74.10 L100.50,85.08 L101.00,96.95 L101.50,108.64 L102.00,119.30 L102.50,128.39 L103.00,135.67 L103.50,141.19 L104.00,145.15 L104.50,147.84 L105.00,149.58 L105.50,150.65 L106.00,151.28 L106.50,151.63 L107.00,151.82 L107.50,151.92 L108.00,151.96 L108.50,151.98 L109.00,151.99 L109.50,152.00 L110.00,152.00 L110.50,152.00 L111.00,152.00 L111.50,152.00 L112.00,152.00 L112.50,152.00 L113.00,152.00 L113.50,152.00 L114.00,152.00 L114.50,152.00 L115.00,152.00 L115.50,152.00 L116.00,152.00 L116.50,152.00 L117.00,152.00 L117.50,152.00 L118.00,152.00 L118.50,152.00 L119.00,152.00 L119.50,152.00 L120.00,152.00 L120.50,152.00 L121.00,152.00 L121.50,152.00 L122.00,152.00 L122.50,152.00 L123.00,152.00 L123.50,152.00 L124.00,152.00 L124.50,152.00 L125.00,152.00 L125.50,152.00 L126.00,152.00 L126.50,152.00 L127.00,151.99 L127.50,151.98 L128.00,151.97 L128.50,151.94 L129.00,151.88 L129.50,151.77 L130.00,151.59 L130.50,151.28 L131.00,150.80 L131.50,150.06 L132.00,148.99 L132.50,147.49 L133.00,145.50 L133.50,142.97 L134.00,139.90 L134.50,136.39 L135.00,132.58 L135.50,128.72 L136.00,125.11 L136.50,122.06 L137.00,119.89 L137.50,118.80 L138.00,118.92 L138.50,120.24 L139.00,122.61 L139.50,125.80 L140.00,129.48 L140.50,133.35 L141.00,137.12 L141.50,140.56 L142.00,143.52 L142.50,145.94 L143.00,147.83 L143.50,149.23 L144.00,150.23 L144.50,150.91 L145.00,151.35 L145.50,151.63 L146.00,151.80 L146.50,151.89 L147.00,151.94 L147.50,151.97 L148.00,151.99 L148.50,151.99 L149.00,152.00 L149.50,152.00 L150.00,152.00 L150.50,152.00 L151.00,152.00 L151.50,152.00 L152.00,152.00 L152.50,152.00 L153.00,152.00 L153.50,152.00 L154.00,152.00 L154.50,152.00 L155.00,152.00 L155.50,152.00 L156.00,152.00 L156.50,152.00 L157.00,152.00 L157.50,151.99 L158.00,151.99 L158.50,151.97 L159.00,151.93 L159.50,151.86 L160.00,151.71 L160.50,151.43 L161.00,150.94 L161.50,150.09 L162.00,148.69 L162.50,146.50 L163.00,143.22 L163.50,138.53 L164.00,132.15 L164.50,123.88 L165.00,113.74 L165.50,101.98 L166.00,89.17 L166.50,76.18 L167.00,64.08 L167.50,54.06 L168.00,47.16 L168.50,44.19 L169.00,45.47 L169.50,50.87 L170.00,59.76 L170.50,71.17 L171.00,83.94 L171.50,96.94 L172.00,109.21 L172.50,120.04 L173.00,129.07 L173.50,136.19 L174.00,141.53 L174.50,145.34 L175.00,147.93 L175.50,149.61 L176.00,150.65 L176.50,151.27 L177.00,151.62 L177.50,151.81 L178.00,151.91 L178.50,151.96 L179.00,151.98 L179.50,151.99 L180.00,152.00 L180.50,152.00 L181.00,152.00 L181.50,152.00 L182.00,152.00 L182.50,152.00 L183.00,151.99 L183.50,151.98 L184.00,151.96 L184.50,151.92 L185.00,151.85 L185.50,151.71 L186.00,151.48 L186.50,151.09 L187.00,150.47 L187.50,149.51 L188.00,148.10 L188.50,146.13 L189.00,143.47 L189.50,140.05 L190.00,135.88 L190.50,131.04 L191.00,125.74 L191.50,120.29 L192.00,115.09 L192.50,110.61 L193.00,107.27 L193.50,105.41 L194.00,105.24 L194.50,106.77 L195.00,109.84 L195.50,114.13 L196.00,119.21 L196.50,124.65 L197.00,130.01 L197.50,134.96 L198.00,139.28 L198.50,142.85 L199.00,145.65 L199.50,147.76 L200.00,149.27 L200.50,150.30 L201.00,150.99 L201.50,151.42 L202.00,151.68 L202.50,151.83 L203.00,151.91 L203.50,151.96 L204.00,151.98 L204.50,151.99 L205.00,151.99 L205.50,151.99 L206.00,151.98 L206.50,151.96 L207.00,151.91 L207.50,151.82 L208.00,151.65 L208.50,151.35 L209.00,150.83 L209.50,149.99 L210.00,148.67 L210.50,146.67 L211.00,143.78 L211.50,139.79 L212.00,134.52 L212.50,127.89 L213.00,119.94 L213.50,110.93 L214.00,101.29 L214.50,91.67 L215.00,82.82 L215.50,75.56 L216.00,70.60 L216.50,68.46 L217.00,69.38 L217.50,73.26 L218.00,79.68 L218.50,87.99 L219.00,97.40 L219.50,107.12 L220.00,116.45 L220.50,124.86 L221.00,132.03 L221.50,137.84 L222.00,142.33 L222.50,145.63 L223.00,147.96 L223.50,149.53 L224.00,150.54 L224.50,151.17 L225.00,151.55 L225.50,151.76 L226.00,151.88 L226.50,151.94 L227.00,151.96 L227.50,151.96 L228.00,151.94 L228.50,151.90 L229.00,151.82 L229.50,151.67 L230.00,151.43 L230.50,151.05 L231.00,150.46 L231.50,149.61 L232.00,148.43 L232.50,146.85 L233.00,144.84 L233.50,142.41 L234.00,139.62 L234.50,136.60 L235.00,133.54 L235.50,130.68 L236.00,128.27 L236.50,126.54 L237.00,125.68 L237.50,125.78 L238.00,126.82 L238.50,128.70 L239.00,131.23 L239.50,134.15 L240.00,137.22 L240.50,140.20 L241.00,142.93 L241.50,145.28 L242.00,147.20 L242.50,148.69 L243.00,149.81 L243.50,150.60 L244.00,151.14 L244.50,151.49 L245.00,151.70 L245.50,151.83 L246.00,151.90 L246.50,151.93 L247.00,151.91 L247.50,151.85 L248.00,151.69 L248.50,151.38 L249.00,150.80 L249.50,149.77 L250.00,148.02 L250.50,145.21 L251.00,140.92 L251.50,134.67 L252.00,126.05 L252.50,114.80 L253.00,100.93 L253.50,84.87 L254.00,67.51 L254.50,50.17 L255.00,34.49 L255.50,22.16 L256.00,14.62 L256.50,12.82 L257.00,16.99 L257.50,26.59 L258.00,40.46 L258.50,57.01 L259.00,74.54 L259.50,91.51 L260.00,106.78 L260.50,119.62 L261.00,129.81 L261.50,137.43 L262.00,142.84 L262.50,146.49 L263.00,148.82 L263.50,150.25 L264.00,151.07 L264.50,151.53 L265.00,151.77 L265.50,151.89 L266.00,151.94 L266.50,151.96 L267.00,151.95 L267.50,151.91 L268.00,151.83 L268.50,151.69 L269.00,151.45 L269.50,151.07 L270.00,150.46 L270.50,149.56 L271.00,148.26 L271.50,146.49 L272.00,144.17 L272.50,141.28 L273.00,137.86 L273.50,134.01" fill="none" stroke="#333" stroke-opacity="0.72" stroke-width="1.0"/>
</g>
</g>
<rect x="40.7" y="326.4" width="232.8" height="150.3" fill="none" stroke="#999999" stroke-width="1.5"/>
<line x1="38.2" y1="335.3" x2="40.7" y2="335.3" stroke="#777" stroke-width="1.2"/>
<line x1="38.2" y1="352.4" x2="40.7" y2="352.4" stroke="#777" stroke-width="1.2"/>
<line x1="38.2" y1="370.7" x2="40.7" y2="370.7" stroke="#777" stroke-width="1.2"/>
<line x1="38.2" y1="388.7" x2="40.7" y2="388.7" stroke="#777" stroke-width="1.2"/>
<line x1="38.2" y1="406.1" x2="40.7" y2="406.1" stroke="#777" stroke-width="1.2"/>
<line x1="38.2" y1="423.7" x2="40.7" y2="423.7" stroke="#777" stroke-width="1.2"/>
<line x1="38.2" y1="441.2" x2="40.7" y2="441.2" stroke="#777" stroke-width="1.2"/>
<line x1="38.2" y1="458.8" x2="40.7" y2="458.8" stroke="#777" stroke-width="1.2"/>
<line x1="53.4" y1="476.7" x2="53.4" y2="478.7" stroke="#777" stroke-width="1.2"/>
<line x1="103" y1="476.7" x2="103" y2="478.7" stroke="#777" stroke-width="1.2"/>
<line x1="153.4" y1="476.7" x2="153.4" y2="478.7" stroke="#777" stroke-width="1.2"/>
<line x1="203" y1="476.7" x2="203" y2="478.7" stroke="#777" stroke-width="1.2"/>
<line x1="253.8" y1="476.7" x2="253.8" y2="478.7" stroke="#777" stroke-width="1.2"/>
<g clip-path="url(#ce)">
<path d="M37.00,459.20 L37.50,459.20 L38.00,459.19 L38.50,459.18 L39.00,459.18 L39.50,459.17 L40.00,459.16 L40.50,459.15 L41.00,459.14 L41.50,459.13 L42.00,459.13 L42.50,459.12 L43.00,459.10 L43.50,459.09 L44.00,459.08 L44.50,459.07 L45.00,459.06 L45.50,459.04 L46.00,459.03 L46.50,459.01 L47.00,459.00 L47.50,458.98 L48.00,458.96 L48.50,458.95 L49.00,458.93 L49.50,458.90 L50.00,458.88 L50.50,458.86 L51.00,458.83 L51.50,458.80 L52.00,458.77 L52.50,458.74 L53.00,458.71 L53.50,458.67 L54.00,458.63 L54.50,458.59 L55.00,458.54 L55.50,458.48 L56.00,458.42 L56.50,458.35 L57.00,458.26 L57.50,458.16 L58.00,458.04 L58.50,457.88 L59.00,457.68 L59.50,457.41 L60.00,457.06 L60.50,456.59 L61.00,455.97 L61.50,455.16 L62.00,454.12 L62.50,452.79 L63.00,451.12 L63.50,449.07 L64.00,446.60 L64.50,443.68 L65.00,440.34 L65.50,436.58 L66.00,432.48 L66.50,428.13 L67.00,423.67 L67.50,419.27 L68.00,415.12 L68.50,411.45 L69.00,408.50 L69.50,406.47 L70.00,405.52 L70.50,405.75 L71.00,407.12 L71.50,409.52 L72.00,412.77 L72.50,416.63 L73.00,420.88 L73.50,425.31 L74.00,429.72 L74.50,433.96 L75.00,437.91 L75.50,441.48 L76.00,444.63 L76.50,447.34 L77.00,449.61 L77.50,451.47 L78.00,452.97 L78.50,454.15 L79.00,455.06 L79.50,455.75 L80.00,456.26 L80.50,456.64 L81.00,456.92 L81.50,457.11 L82.00,457.25 L82.50,457.34 L83.00,457.39 L83.50,457.43 L84.00,457.44 L84.50,457.43 L85.00,457.41 L85.50,457.36 L86.00,457.30 L86.50,457.21 L87.00,457.08 L87.50,456.91 L88.00,456.67 L88.50,456.34 L89.00,455.88 L89.50,455.26 L90.00,454.40 L90.50,453.26 L91.00,451.74 L91.50,449.78 L92.00,447.29 L92.50,444.20 L93.00,440.47 L93.50,436.07 L94.00,431.03 L94.50,425.43 L95.00,419.39 L95.50,413.13 L96.00,406.90 L96.50,401.01 L97.00,395.81 L97.50,391.68 L98.00,388.96 L98.50,387.90 L99.00,388.60 L99.50,391.00 L100.00,394.85 L100.50,399.85 L101.00,405.62 L101.50,411.80 L102.00,418.07 L102.50,424.15 L103.00,429.84 L103.50,434.98 L104.00,439.50 L104.50,443.34 L105.00,446.54 L105.50,449.12 L106.00,451.16 L106.50,452.72 L107.00,453.91 L107.50,454.77 L108.00,455.39 L108.50,455.81 L109.00,456.07 L109.50,456.21 L110.00,456.22 L110.50,456.12 L111.00,455.90 L111.50,455.53 L112.00,454.98 L112.50,454.23 L113.00,453.23 L113.50,451.95 L114.00,450.35 L114.50,448.41 L115.00,446.12 L115.50,443.51 L116.00,440.62 L116.50,437.52 L117.00,434.33 L117.50,431.17 L118.00,428.23 L118.50,425.68 L119.00,423.71 L119.50,422.49 L120.00,422.14 L120.50,422.68 L121.00,424.07 L121.50,426.19 L122.00,428.84 L122.50,431.85 L123.00,435.04 L123.50,438.23 L124.00,441.31 L124.50,444.17 L125.00,446.73 L125.50,448.96 L126.00,450.85 L126.50,452.39 L127.00,453.63 L127.50,454.57 L128.00,455.27 L128.50,455.76 L129.00,456.06 L129.50,456.19 L130.00,456.17 L130.50,456.00 L131.00,455.67 L131.50,455.18 L132.00,454.51 L132.50,453.65 L133.00,452.58 L133.50,451.31 L134.00,449.85 L134.50,448.21 L135.00,446.44 L135.50,444.59 L136.00,442.75 L136.50,441.01 L137.00,439.47 L137.50,438.24 L138.00,437.42 L138.50,437.08 L139.00,437.26 L139.50,437.93 L140.00,439.03 L140.50,440.46 L141.00,442.11 L141.50,443.88 L142.00,445.66 L142.50,447.37 L143.00,448.96 L143.50,450.37 L144.00,451.57 L144.50,452.53 L145.00,453.26 L145.50,453.74 L146.00,453.95 L146.50,453.90 L147.00,453.55 L147.50,452.86 L148.00,451.79 L148.50,450.26 L149.00,448.21 L149.50,445.55 L150.00,442.23 L150.50,438.18 L151.00,433.40 L151.50,427.91 L152.00,421.80 L152.50,415.22 L153.00,408.39 L153.50,401.58 L154.00,395.14 L154.50,389.46 L155.00,384.93 L155.50,381.93 L156.00,380.73 L156.50,381.45 L157.00,384.00 L157.50,388.13 L158.00,393.49 L158.50,399.66 L159.00,406.25 L159.50,412.88 L160.00,419.25 L160.50,425.09 L161.00,430.21 L161.50,434.47 L162.00,437.76 L162.50,440.05 L163.00,441.29 L163.50,441.49 L164.00,440.67 L164.50,438.84 L165.00,436.05 L165.50,432.39 L166.00,427.94 L166.50,422.87 L167.00,417.36 L167.50,411.64 L168.00,406.02 L168.50,400.81 L169.00,396.38 L169.50,393.07 L170.00,391.18 L170.50,390.91 L171.00,392.30 L171.50,395.21 L172.00,399.38 L172.50,404.49 L173.00,410.18 L173.50,416.13 L174.00,422.06 L174.50,427.72 L175.00,432.94 L175.50,437.61 L176.00,441.66 L176.50,445.08 L177.00,447.90 L177.50,450.16 L178.00,451.94 L178.50,453.30 L179.00,454.34 L179.50,455.11 L180.00,455.67 L180.50,456.09 L181.00,456.39 L181.50,456.61 L182.00,456.77 L182.50,456.88 L183.00,456.97 L183.50,457.03 L184.00,457.06 L184.50,457.09 L185.00,457.09 L185.50,457.07 L186.00,457.02 L186.50,456.95 L187.00,456.83 L187.50,456.65 L188.00,456.40 L188.50,456.06 L189.00,455.59 L189.50,454.98 L190.00,454.18 L190.50,453.17 L191.00,451.92 L191.50,450.42 L192.00,448.66 L192.50,446.65 L193.00,444.43 L193.50,442.05 L194.00,439.59 L194.50,437.16 L195.00,434.87 L195.50,432.85 L196.00,431.25 L196.50,430.17 L197.00,429.68 L197.50,429.80 L198.00,430.46 L198.50,431.52 L199.00,432.81 L199.50,434.12 L200.00,435.27 L200.50,436.06 L201.00,436.31 L201.50,435.90 L202.00,434.70 L202.50,432.67 L203.00,429.79 L203.50,426.13 L204.00,421.80 L204.50,416.98 L205.00,411.92 L205.50,406.90 L206.00,402.25 L206.50,398.33 L207.00,395.47 L207.50,393.95 L208.00,393.93 L208.50,395.40 L209.00,398.21 L209.50,402.07 L210.00,406.66 L210.50,411.60 L211.00,416.55 L211.50,421.22 L212.00,425.33 L212.50,428.69 L213.00,431.15 L213.50,432.62 L214.00,433.07 L214.50,432.54 L215.00,431.12 L215.50,428.93 L216.00,426.17 L216.50,423.06 L217.00,419.83 L217.50,416.76 L218.00,414.13 L218.50,412.20 L219.00,411.16 L219.50,411.14 L220.00,412.13 L220.50,414.01 L221.00,416.57 L221.50,419.54 L222.00,422.67 L222.50,425.68 L223.00,428.34 L223.50,430.47 L224.00,431.91 L224.50,432.58 L225.00,432.45 L225.50,431.54 L226.00,429.94 L226.50,427.79 L227.00,425.27 L227.50,422.61 L228.00,420.04 L228.50,417.83 L229.00,416.23 L229.50,415.42 L230.00,415.54 L230.50,416.60 L231.00,418.51 L231.50,421.09 L232.00,424.15 L232.50,427.45 L233.00,430.82 L233.50,434.05 L234.00,437.02 L234.50,439.62 L235.00,441.79 L235.50,443.50 L236.00,444.75 L236.50,445.58 L237.00,446.03 L237.50,446.18 L238.00,446.09 L238.50,445.84 L239.00,445.50 L239.50,445.13 L240.00,444.78 L240.50,444.48 L241.00,444.24 L241.50,444.04 L242.00,443.85 L242.50,443.60 L243.00,443.23 L243.50,442.67 L244.00,441.86 L244.50,440.74 L245.00,439.30 L245.50,437.53 L246.00,435.46 L246.50,433.17 L247.00,430.73 L247.50,428.29 L248.00,425.98 L248.50,423.97 L249.00,422.41 L249.50,421.40 L250.00,420.99 L250.50,421.13 L251.00,421.69 L251.50,422.46 L252.00,423.18 L252.50,423.63 L253.00,423.56 L253.50,422.80 L254.00,421.21 L254.50,418.75 L255.00,415.44 L255.50,411.39 L256.00,406.80 L256.50,401.93 L257.00,397.14 L257.50,392.81 L258.00,389.35 L258.50,387.14 L259.00,386.45 L259.50,387.44 L260.00,390.05 L260.50,394.07 L261.00,399.19 L261.50,405.05 L262.00,411.31 L262.50,417.64 L263.00,423.78 L263.50,429.52 L264.00,434.71 L264.50,439.27 L265.00,443.16 L265.50,446.39 L266.00,449.01 L266.50,451.09 L267.00,452.70 L267.50,453.92 L268.00,454.82 L268.50,455.48 L269.00,455.94 L269.50,456.25 L270.00,456.43 L270.50,456.50 L271.00,456.47 L271.50,456.34 L272.00,456.08 L272.50,455.70 L273.00,455.17 L273.50,454.47" fill="none" stroke="#c84a8a" stroke-width="1.5"/>
<path d="M37.00,459.20 L37.50,459.19 L38.00,459.19 L38.50,459.18 L39.00,459.17 L39.50,459.16 L40.00,459.15 L40.50,459.15 L41.00,459.14 L41.50,459.13 L42.00,459.12 L42.50,459.11 L43.00,459.10 L43.50,459.09 L44.00,459.08 L44.50,459.06 L45.00,459.05 L45.50,459.04 L46.00,459.02 L46.50,459.01 L47.00,458.99 L47.50,458.98 L48.00,458.96 L48.50,458.94 L49.00,458.92 L49.50,458.90 L50.00,458.88 L50.50,458.85 L51.00,458.83 L51.50,458.80 L52.00,458.77 L52.50,458.74 L53.00,458.70 L53.50,458.67 L54.00,458.63 L54.50,458.58 L55.00,458.53 L55.50,458.48 L56.00,458.42 L56.50,458.35 L57.00,458.27 L57.50,458.17 L58.00,458.05 L58.50,457.89 L59.00,457.70 L59.50,457.44 L60.00,457.11 L60.50,456.66 L61.00,456.08 L61.50,455.33 L62.00,454.35 L62.50,453.11 L63.00,451.56 L63.50,449.65 L64.00,447.35 L64.50,444.64 L65.00,441.50 L65.50,437.97 L66.00,434.09 L66.50,429.94 L67.00,425.63 L67.50,421.32 L68.00,417.17 L68.50,413.40 L69.00,410.20 L69.50,407.80 L70.00,406.37 L70.50,406.02 L71.00,406.79 L71.50,408.60 L72.00,411.32 L72.50,414.75 L73.00,418.68 L73.50,422.89 L74.00,427.20 L74.50,431.44 L75.00,435.47 L75.50,439.19 L76.00,442.54 L76.50,445.48 L77.00,448.00 L77.50,450.11 L78.00,451.84 L78.50,453.23 L79.00,454.32 L79.50,455.17 L80.00,455.81 L80.50,456.29 L81.00,456.65 L81.50,456.90 L82.00,457.08 L82.50,457.21 L83.00,457.29 L83.50,457.34 L84.00,457.37 L84.50,457.37 L85.00,457.36 L85.50,457.32 L86.00,457.27 L86.50,457.18 L87.00,457.06 L87.50,456.90 L88.00,456.68 L88.50,456.37 L89.00,455.94 L89.50,455.36 L90.00,454.56 L90.50,453.50 L91.00,452.10 L91.50,450.29 L92.00,448.00 L92.50,445.15 L93.00,441.69 L93.50,437.61 L94.00,432.90 L94.50,427.62 L95.00,421.89 L95.50,415.87 L96.00,409.78 L96.50,403.90 L97.00,398.53 L97.50,394.03 L98.00,390.73 L98.50,388.91 L99.00,388.73 L99.50,390.22 L100.00,393.24 L100.50,397.51 L101.00,402.72 L101.50,408.51 L102.00,414.57 L102.50,420.61 L103.00,426.40 L103.50,431.76 L104.00,436.57 L104.50,440.77 L105.00,444.33 L105.50,447.27 L106.00,449.65 L106.50,451.52 L107.00,452.96 L107.50,454.05 L108.00,454.84 L108.50,455.40 L109.00,455.77 L109.50,455.98 L110.00,456.06 L110.50,456.02 L111.00,455.85 L111.50,455.53 L112.00,455.05 L112.50,454.37 L113.00,453.46 L113.50,452.28 L114.00,450.81 L114.50,449.02 L115.00,446.91 L115.50,444.47 L116.00,441.75 L116.50,438.81 L117.00,435.73 L117.50,432.65 L118.00,429.69 L118.50,427.04 L119.00,424.86 L119.50,423.32 L120.00,422.57 L120.50,422.66 L121.00,423.59 L121.50,425.28 L122.00,427.58 L122.50,430.32 L123.00,433.33 L123.50,436.43 L124.00,439.50 L124.50,442.42 L125.00,445.10 L125.50,447.49 L126.00,449.56 L126.50,451.29 L127.00,452.71 L127.50,453.83 L128.00,454.69 L128.50,455.30 L129.00,455.72 L129.50,455.95 L130.00,456.01 L130.50,455.91 L131.00,455.66 L131.50,455.24 L132.00,454.65 L132.50,453.87 L133.00,452.90 L133.50,451.73 L134.00,450.37 L134.50,448.84 L135.00,447.16 L135.50,445.40 L136.00,443.61 L136.50,441.87 L137.00,440.29 L137.50,438.95 L138.00,437.96 L138.50,437.41 L139.00,437.33 L139.50,437.73 L140.00,438.58 L140.50,439.80 L141.00,441.28 L141.50,442.93 L142.00,444.65 L142.50,446.35 L143.00,447.96 L143.50,449.43 L144.00,450.72 L144.50,451.79 L145.00,452.63 L145.50,453.23 L146.00,453.57 L146.50,453.63 L147.00,453.40 L147.50,452.85 L148.00,451.91 L148.50,450.55 L149.00,448.69 L149.50,446.27 L150.00,443.22 L150.50,439.49 L151.00,435.05 L151.50,429.94 L152.00,424.19 L152.50,417.95 L153.00,411.38 L153.50,404.74 L154.00,398.31 L154.50,392.44 L155.00,387.52 L155.50,383.89 L156.00,381.86 L156.50,381.62 L157.00,383.19 L157.50,386.40 L158.00,390.97 L158.50,396.54 L159.00,402.71 L159.50,409.12 L160.00,415.46 L160.50,421.42 L161.00,426.81 L161.50,431.43 L162.00,435.17 L162.50,437.94 L163.00,439.70 L163.50,440.43 L164.00,440.14 L164.50,438.83 L165.00,436.56 L165.50,433.39 L166.00,429.41 L166.50,424.75 L167.00,419.59 L167.50,414.13 L168.00,408.64 L168.50,403.41 L169.00,398.77 L169.50,395.04 L170.00,392.55 L170.50,391.52 L171.00,392.06 L171.50,394.13 L172.00,397.55 L172.50,402.03 L173.00,407.26 L173.50,412.91 L174.00,418.70 L174.50,424.38 L175.00,429.74 L175.50,434.65 L176.00,439.00 L176.50,442.76 L177.00,445.93 L177.50,448.52 L178.00,450.61 L178.50,452.25 L179.00,453.51 L179.50,454.47 L180.00,455.18 L180.50,455.71 L181.00,456.10 L181.50,456.38 L182.00,456.59 L182.50,456.74 L183.00,456.85 L183.50,456.92 L184.00,456.98 L184.50,457.01 L185.00,457.02 L185.50,457.01 L186.00,456.97 L186.50,456.90 L187.00,456.80 L187.50,456.64 L188.00,456.41 L188.50,456.09 L189.00,455.67 L189.50,455.10 L190.00,454.37 L190.50,453.45 L191.00,452.30 L191.50,450.92 L192.00,449.29 L192.50,447.42 L193.00,445.33 L193.50,443.08 L194.00,440.72 L194.50,438.35 L195.00,436.06 L195.50,433.98 L196.00,432.23 L196.50,430.92 L197.00,430.15 L197.50,429.95 L198.00,430.28 L198.50,431.05 L199.00,432.11 L199.50,433.28 L200.00,434.38 L200.50,435.21 L201.00,435.61 L201.50,435.43 L202.00,434.55 L202.50,432.90 L203.00,430.45 L203.50,427.23 L204.00,423.32 L204.50,418.88 L205.00,414.10 L205.50,409.24 L206.00,404.59 L206.50,400.48 L207.00,397.24 L207.50,395.14 L208.00,394.40 L208.50,395.09 L209.00,397.14 L209.50,400.33 L210.00,404.37 L210.50,408.94 L211.00,413.69 L211.50,418.32 L212.00,422.57 L212.50,426.19 L213.00,429.03 L213.50,430.96 L214.00,431.93 L214.50,431.94 L215.00,431.05 L215.50,429.37 L216.00,427.04 L216.50,424.26 L217.00,421.26 L217.50,418.28 L218.00,415.58 L218.50,413.42 L219.00,412.00 L219.50,411.50 L220.00,411.96 L220.50,413.31 L221.00,415.41 L221.50,418.03 L222.00,420.92 L222.50,423.83 L223.00,426.53 L223.50,428.80 L224.00,430.51 L224.50,431.52 L225.00,431.79 L225.50,431.31 L226.00,430.13 L226.50,428.37 L227.00,426.18 L227.50,423.74 L228.00,421.27 L228.50,419.03 L229.00,417.23 L229.50,416.11 L230.00,415.80 L230.50,416.38 L231.00,417.81 L231.50,419.96 L232.00,422.68 L232.50,425.74 L233.00,428.97 L233.50,432.17 L234.00,435.20 L234.50,437.94 L235.00,440.30 L235.50,442.25 L236.00,443.76 L236.50,444.85 L237.00,445.56 L237.50,445.93 L238.00,446.04 L238.50,445.94 L239.00,445.71 L239.50,445.40 L240.00,445.08 L240.50,444.77 L241.00,444.50 L241.50,444.26 L242.00,444.03 L242.50,443.76 L243.00,443.40 L243.50,442.88 L244.00,442.14 L244.50,441.14 L245.00,439.84 L245.50,438.24 L246.00,436.35 L246.50,434.22 L247.00,431.93 L247.50,429.57 L248.00,427.29 L248.50,425.22 L249.00,423.49 L249.50,422.23 L250.00,421.50 L250.50,421.30 L251.00,421.55 L251.50,422.06 L252.00,422.64 L252.50,423.06 L253.00,423.08 L253.50,422.53 L254.00,421.27 L254.50,419.21 L255.00,416.34 L255.50,412.74 L256.00,408.55 L256.50,404.00 L257.00,399.37 L257.50,395.02 L258.00,391.32 L258.50,388.64 L259.00,387.28 L259.50,387.46 L260.00,389.22 L260.50,392.42 L261.00,396.84 L261.50,402.16 L262.00,408.04 L262.50,414.17 L263.00,420.26 L263.50,426.10 L264.00,431.50 L264.50,436.35 L265.00,440.58 L265.50,444.18 L266.00,447.16 L266.50,449.58 L267.00,451.49 L267.50,452.97 L268.00,454.09 L268.50,454.92 L269.00,455.52 L269.50,455.94 L270.00,456.20 L270.50,456.34 L271.00,456.36 L271.50,456.27 L272.00,456.07 L272.50,455.73 L273.00,455.26 L273.50,454.63" fill="none" stroke="#7a35a0" stroke-width="1.3" stroke-dasharray="3,2"/>
<path d="M37.00,458.82 L37.50,458.80 L38.00,459.40 L38.50,459.51 L39.00,459.58 L39.50,459.28 L40.00,459.33 L40.50,459.27 L41.00,459.32 L41.50,459.43 L42.00,459.27 L42.50,459.03 L43.00,458.51 L43.50,458.64 L44.00,458.85 L44.50,459.21 L45.00,459.46 L45.50,459.22 L46.00,459.30 L46.50,459.22 L47.00,459.40 L47.50,458.96 L48.00,458.70 L48.50,458.82 L49.00,459.17 L49.50,459.08 L50.00,458.91 L50.50,458.90 L51.00,459.02 L51.50,458.84 L52.00,458.35 L52.50,458.49 L53.00,458.69 L53.50,459.11 L54.00,459.27 L54.50,459.28 L55.00,459.26 L55.50,458.62 L56.00,458.43 L56.50,458.46 L57.00,458.46 L57.50,458.41 L58.00,458.31 L58.50,458.37 L59.00,458.23 L59.50,457.84 L60.00,457.43 L60.50,457.30 L61.00,456.66 L61.50,455.81 L62.00,454.40 L62.50,453.04 L63.00,451.61 L63.50,449.77 L64.00,448.03 L64.50,445.58 L65.00,443.25 L65.50,439.88 L66.00,436.70 L66.50,432.29 L67.00,427.84 L67.50,423.35 L68.00,419.10 L68.50,415.57 L69.00,412.09 L69.50,409.59 L70.00,407.71 L70.50,406.70 L71.00,406.50 L71.50,407.64 L72.00,409.65 L72.50,412.90 L73.00,415.94 L73.50,419.92 L74.00,423.91 L74.50,428.27 L75.00,432.38 L75.50,436.58 L76.00,440.00 L76.50,443.45 L77.00,445.96 L77.50,448.47 L78.00,450.38 L78.50,452.04 L79.00,453.27 L79.50,454.17 L80.00,455.16 L80.50,456.45 L81.00,457.07 L81.50,457.37 L82.00,457.21 L82.50,457.39 L83.00,457.35 L83.50,457.43 L84.00,457.34 L84.50,457.31 L85.00,457.35 L85.50,457.36 L86.00,457.07 L86.50,456.71 L87.00,456.77 L87.50,456.99 L88.00,456.84 L88.50,456.14 L89.00,455.71 L89.50,455.36 L90.00,454.98 L90.50,453.94 L91.00,452.54 L91.50,450.87 L92.00,448.94 L92.50,446.48 L93.00,443.13 L93.50,439.48 L94.00,434.99 L94.50,430.07 L95.00,424.49 L95.50,418.97 L96.00,412.98 L96.50,407.33 L97.00,401.62 L97.50,397.12 L98.00,393.42 L98.50,390.84 L99.00,389.55 L99.50,389.74 L100.00,391.76 L100.50,395.31 L101.00,399.90 L101.50,405.24 L102.00,410.55 L102.50,416.19 L103.00,422.06 L103.50,427.82 L104.00,433.12 L104.50,437.66 L105.00,441.57 L105.50,444.94 L106.00,447.91 L106.50,450.45 L107.00,452.11 L107.50,453.17 L108.00,453.84 L108.50,454.72 L109.00,455.13 L109.50,455.60 L110.00,455.68 L110.50,455.70 L111.00,455.59 L111.50,455.46 L112.00,455.02 L112.50,454.71 L113.00,453.76 L113.50,452.89 L114.00,451.30 L114.50,449.81 L115.00,447.89 L115.50,445.74 L116.00,442.93 L116.50,440.29 L117.00,437.32 L117.50,434.53 L118.00,431.67 L118.50,428.49 L119.00,426.08 L119.50,424.26 L120.00,423.30 L120.50,423.06 L121.00,423.17 L121.50,424.45 L122.00,426.24 L122.50,428.76 L123.00,431.75 L123.50,434.62 L124.00,437.83 L124.50,440.90 L125.00,443.68 L125.50,445.78 L126.00,447.72 L126.50,449.35 L127.00,451.03 L127.50,452.55 L128.00,453.90 L128.50,455.14 L129.00,455.78 L129.50,456.28 L130.00,456.08 L130.50,455.81 L131.00,455.57 L131.50,455.39 L132.00,455.26 L132.50,454.51 L133.00,453.51 L133.50,452.12 L134.00,450.99 L134.50,449.29 L135.00,447.60 L135.50,445.81 L136.00,444.50 L136.50,443.04 L137.00,441.38 L137.50,439.86 L138.00,438.57 L138.50,437.68 L139.00,437.10 L139.50,437.10 L140.00,437.81 L140.50,438.92 L141.00,440.45 L141.50,442.02 L142.00,443.39 L142.50,445.06 L143.00,446.25 L143.50,448.15 L144.00,449.40 L144.50,450.74 L145.00,451.64 L145.50,452.35 L146.00,453.05 L146.50,453.35 L147.00,453.37 L147.50,453.04 L148.00,451.94 L148.50,450.78 L149.00,448.76 L149.50,447.34 L150.00,444.57 L150.50,441.39 L151.00,436.96 L151.50,432.07 L152.00,426.73 L152.50,420.87 L153.00,414.72 L153.50,407.92 L154.00,401.45 L154.50,395.47 L155.00,390.70 L155.50,386.47 L156.00,383.85 L156.50,382.55 L157.00,382.63 L157.50,384.37 L158.00,387.84 L158.50,392.85 L159.00,398.32 L159.50,404.40 L160.00,410.43 L160.50,416.59 L161.00,422.27 L161.50,427.31 L162.00,432.09 L162.50,435.52 L163.00,438.12 L163.50,439.22 L164.00,439.48 L164.50,438.95 L165.00,437.25 L165.50,434.19 L166.00,430.56 L166.50,426.30 L167.00,421.80 L167.50,416.81 L168.00,411.35 L168.50,406.30 L169.00,401.17 L169.50,397.44 L170.00,394.27 L170.50,392.69 L171.00,392.27 L171.50,393.34 L172.00,396.02 L172.50,399.26 L173.00,403.98 L173.50,408.95 L174.00,414.75 L174.50,420.30 L175.00,426.17 L175.50,431.28 L176.00,436.18 L176.50,439.94 L177.00,443.51 L177.50,446.28 L178.00,448.92 L178.50,450.58 L179.00,451.85 L179.50,452.94 L180.00,454.16 L180.50,455.19 L181.00,455.45 L181.50,455.50 L182.00,456.03 L182.50,456.54 L183.00,457.18 L183.50,457.26 L184.00,457.51 L184.50,457.32 L185.00,457.35 L185.50,456.83 L186.00,456.71 L186.50,456.63 L187.00,456.97 L187.50,457.08 L188.00,456.48 L188.50,456.17 L189.00,455.93 L189.50,455.67 L190.00,454.81 L190.50,453.84 L191.00,452.53 L191.50,451.30 L192.00,449.63 L192.50,448.33 L193.00,446.45 L193.50,444.44 L194.00,442.43 L194.50,440.08 L195.00,438.08 L195.50,435.58 L196.00,433.98 L196.50,431.83 L197.00,430.70 L197.50,429.76 L198.00,429.92 L198.50,430.63 L199.00,431.94 L199.50,433.14 L200.00,433.78 L200.50,434.25 L201.00,434.59 L201.50,434.65 L202.00,434.36 L202.50,433.20 L203.00,431.04 L203.50,428.15 L204.00,425.11 L204.50,421.46 L205.00,417.01 L205.50,411.96 L206.00,407.48 L206.50,403.14 L207.00,399.97 L207.50,397.01 L208.00,395.27 L208.50,394.53 L209.00,396.10 L209.50,398.70 L210.00,402.79 L210.50,406.56 L211.00,411.07 L211.50,415.26 L212.00,419.56 L212.50,423.38 L213.00,426.27 L213.50,428.72 L214.00,430.23 L214.50,431.33 L215.00,431.26 L215.50,430.27 L216.00,428.08 L216.50,425.54 L217.00,422.50 L217.50,419.87 L218.00,417.20 L218.50,415.06 L219.00,413.19 L219.50,412.07 L220.00,412.09 L220.50,412.59 L221.00,414.28 L221.50,416.18 L222.00,419.00 L222.50,421.44 L223.00,424.54 L223.50,426.84 L224.00,429.11 L224.50,430.19 L225.00,430.77 L225.50,430.87 L226.00,430.43 L226.50,429.47 L227.00,427.43 L227.50,425.37 L228.00,422.88 L228.50,420.91 L229.00,418.85 L229.50,417.50 L230.00,416.49 L230.50,416.47 L231.00,417.38 L231.50,419.11 L232.00,421.34 L232.50,424.44 L233.00,427.53 L233.50,430.58 L234.00,432.99 L234.50,435.43 L235.00,437.88 L235.50,440.24 L236.00,442.53 L236.50,444.01 L237.00,444.88 L237.50,445.15 L238.00,445.65 L238.50,445.83 L239.00,445.82 L239.50,445.16 L240.00,444.89 L240.50,444.83 L241.00,444.97 L241.50,444.81 L242.00,444.57 L242.50,444.03 L243.00,443.44 L243.50,442.73 L244.00,442.01 L244.50,441.38 L245.00,440.29 L245.50,439.13 L246.00,437.35 L246.50,435.26 L247.00,433.07 L247.50,431.15 L248.00,429.15 L248.50,427.15 L249.00,425.22 L249.50,423.81 L250.00,422.49 L250.50,421.41 L251.00,421.26 L251.50,421.48 L252.00,421.96 L252.50,422.42 L253.00,422.69 L253.50,422.55 L254.00,421.38 L254.50,419.99 L255.00,417.64 L255.50,414.38 L256.00,410.16 L256.50,405.62 L257.00,401.45 L257.50,397.04 L258.00,393.34 L258.50,390.38 L259.00,388.54 L259.50,388.04 L260.00,388.54 L260.50,390.95 L261.00,394.27 L261.50,398.93 L262.00,404.33 L262.50,410.17 L263.00,416.13 L263.50,422.01 L264.00,427.53 L264.50,432.77 L265.00,437.39 L265.50,441.68 L266.00,445.25 L266.50,448.04 L267.00,449.92 L267.50,451.63 L268.00,452.93 L268.50,454.49 L269.00,455.22 L269.50,455.53 L270.00,455.58 L270.50,455.81 L271.00,456.16 L271.50,456.43 L272.00,456.31 L272.50,456.20 L273.00,455.81 L273.50,455.13" fill="none" stroke="#4040b0" stroke-width="1.0" stroke-dasharray="2,3" stroke-dashoffset="0.5" stroke-opacity="0.8"/>
<path d="M37.00,459.50 L37.50,459.50 L38.00,459.50 L38.50,459.50 L39.00,459.50 L39.50,459.50 L40.00,459.50 L40.50,459.50 L41.00,459.50 L41.50,459.50 L42.00,459.50 L42.50,459.50 L43.00,459.50 L43.50,459.50 L44.00,459.50 L44.50,459.50 L45.00,459.50 L45.50,459.50 L46.00,459.50 L46.50,459.50 L47.00,459.50 L47.50,459.50 L48.00,459.50 L48.50,459.50 L49.00,459.50 L49.50,459.50 L50.00,459.50 L50.50,459.50 L51.00,459.50 L51.50,459.50 L52.00,459.50 L52.50,459.50 L53.00,459.50 L53.50,459.50 L54.00,459.50 L54.50,459.50 L55.00,459.50 L55.50,459.50 L56.00,459.50 L56.50,459.50 L57.00,459.50 L57.50,459.50 L58.00,459.50 L58.50,459.49 L59.00,459.49 L59.50,459.47 L60.00,459.44 L60.50,459.39 L61.00,459.30 L61.50,459.15 L62.00,458.89 L62.50,458.47 L63.00,457.82 L63.50,456.85 L64.00,455.44 L64.50,453.49 L65.00,450.89 L65.50,447.54 L66.00,443.41 L66.50,438.54 L67.00,433.04 L67.50,427.16 L68.00,421.20 L68.50,415.57 L69.00,410.70 L69.50,406.98 L70.00,404.76 L70.50,404.24 L71.00,405.46 L71.50,408.31 L72.00,412.53 L72.50,417.76 L73.00,423.57 L73.50,429.54 L74.00,435.30 L74.50,440.57 L75.00,445.16 L75.50,448.97 L76.00,452.02 L76.50,454.35 L77.00,456.06 L77.50,457.28 L78.00,458.11 L78.50,458.66 L79.00,459.01 L79.50,459.22 L80.00,459.35 L80.50,459.42 L81.00,459.46 L81.50,459.48 L82.00,459.49 L82.50,459.50 L83.00,459.50 L83.50,459.50 L84.00,459.50 L84.50,459.50 L85.00,459.50 L85.50,459.50 L86.00,459.50 L86.50,459.50 L87.00,459.50 L87.50,459.50 L88.00,459.49 L88.50,459.47 L89.00,459.44 L89.50,459.38 L90.00,459.26 L90.50,459.04 L91.00,458.64 L91.50,457.96 L92.00,456.85 L92.50,455.14 L93.00,452.59 L93.50,448.98 L94.00,444.12 L94.50,437.90 L95.00,430.34 L95.50,421.68 L96.00,412.37 L96.50,403.08 L97.00,394.60 L97.50,387.77 L98.00,383.34 L98.50,381.80 L99.00,383.34 L99.50,387.77 L100.00,394.60 L100.50,403.08 L101.00,412.37 L101.50,421.68 L102.00,430.34 L102.50,437.90 L103.00,444.12 L103.50,448.98 L104.00,452.59 L104.50,455.14 L105.00,456.85 L105.50,457.96 L106.00,458.64 L106.50,459.04 L107.00,459.26 L107.50,459.38 L108.00,459.44 L108.50,459.47 L109.00,459.48 L109.50,459.49 L110.00,459.48 L110.50,459.46 L111.00,459.41 L111.50,459.33 L112.00,459.17 L112.50,458.90 L113.00,458.45 L113.50,457.73 L114.00,456.63 L114.50,455.03 L115.00,452.80 L115.50,449.86 L116.00,446.18 L116.50,441.80 L117.00,436.91 L117.50,431.80 L118.00,426.86 L118.50,422.55 L119.00,419.31 L119.50,417.50 L120.00,417.34 L120.50,418.83 L121.00,421.80 L121.50,425.93 L122.00,430.78 L122.50,435.89 L123.00,440.85 L123.50,445.35 L124.00,449.19 L124.50,452.27 L125.00,454.64 L125.50,456.36 L126.00,457.55 L126.50,458.33 L127.00,458.83 L127.50,459.13 L128.00,459.30 L128.50,459.39 L129.00,459.43 L129.50,459.43 L130.00,459.39 L130.50,459.31 L131.00,459.15 L131.50,458.89 L132.00,458.46 L132.50,457.80 L133.00,456.83 L133.50,455.47 L134.00,453.66 L134.50,451.36 L135.00,448.59 L135.50,445.47 L136.00,442.15 L136.50,438.90 L137.00,435.99 L137.50,433.73 L138.00,432.35 L138.50,432.02 L139.00,432.78 L139.50,434.54 L140.00,437.09 L140.50,440.18 L141.00,443.49 L141.50,446.75 L142.00,449.75 L142.50,452.33 L143.00,454.44 L143.50,456.06 L144.00,457.25 L144.50,458.08 L145.00,458.60 L145.50,458.90 L146.00,458.98 L146.50,458.86 L147.00,458.47 L147.50,457.70 L148.00,456.37 L148.50,454.23 L149.00,450.98 L149.50,446.30 L150.00,439.91 L150.50,431.66 L151.00,421.62 L151.50,410.13 L152.00,397.90 L152.50,385.90 L153.00,375.30 L153.50,367.27 L154.00,362.76 L154.50,362.34 L155.00,366.06 L155.50,373.46 L156.00,383.63 L156.50,395.45 L157.00,407.72 L157.50,419.41 L158.00,429.78 L158.50,438.39 L159.00,445.11 L159.50,450.06 L160.00,453.45 L160.50,455.56 L161.00,456.64 L161.50,456.83 L162.00,456.19 L162.50,454.65 L163.00,452.08 L163.50,448.26 L164.00,443.00 L164.50,436.17 L165.00,427.76 L165.50,418.01 L166.00,407.39 L166.50,396.61 L167.00,386.57 L167.50,378.26 L168.00,372.54 L168.50,370.07 L169.00,371.14 L169.50,375.62 L170.00,382.99 L170.50,392.45 L171.00,403.05 L171.50,413.83 L172.00,424.00 L172.50,432.99 L173.00,440.48 L173.50,446.39 L174.00,450.82 L174.50,453.97 L175.00,456.12 L175.50,457.52 L176.00,458.38 L176.50,458.89 L177.00,459.18 L177.50,459.34 L178.00,459.42 L178.50,459.46 L179.00,459.48 L179.50,459.49 L180.00,459.50 L180.50,459.50 L181.00,459.50 L181.50,459.50 L182.00,459.50 L182.50,459.50 L183.00,459.50 L183.50,459.50 L184.00,459.50 L184.50,459.49 L185.00,459.48 L185.50,459.45 L186.00,459.40 L186.50,459.31 L187.00,459.13 L187.50,458.81 L188.00,458.29 L188.50,457.45 L189.00,456.18 L189.50,454.36 L190.00,451.87 L190.50,448.65 L191.00,444.73 L191.50,440.26 L192.00,435.49 L192.50,430.82 L193.00,426.69 L193.50,423.55 L194.00,421.80 L194.50,421.63 L195.00,423.08 L195.50,425.96 L196.00,429.92 L196.50,434.52 L197.00,439.28 L197.50,443.78 L198.00,447.72 L198.50,450.88 L199.00,453.14 L199.50,454.42 L200.00,454.66 L200.50,453.75 L201.00,451.54 L201.50,447.84 L202.00,442.46 L202.50,435.28 L203.00,426.34 L203.50,415.96 L204.00,404.72 L204.50,393.49 L205.00,383.33 L205.50,375.33 L206.00,370.45 L206.50,369.28 L207.00,371.97 L207.50,378.19 L208.00,387.15 L208.50,397.83 L209.00,409.08 L209.50,419.89 L210.00,429.42 L210.50,437.11 L211.00,442.66 L211.50,445.95 L212.00,446.98 L212.50,445.80 L213.00,442.54 L213.50,437.37 L214.00,430.58 L214.50,422.61 L215.00,414.10 L215.50,405.83 L216.00,398.68 L216.50,393.47 L217.00,390.84 L217.50,391.13 L218.00,394.29 L218.50,399.92 L219.00,407.31 L219.50,415.60 L220.00,423.90 L220.50,431.41 L221.00,437.52 L221.50,441.78 L222.00,443.95 L222.50,443.92 L223.00,441.71 L223.50,437.47 L224.00,431.50 L224.50,424.26 L225.00,416.39 L225.50,408.68 L226.00,401.98 L226.50,397.08 L227.00,394.62 L227.50,394.91 L228.00,397.93 L228.50,403.29 L229.00,410.36 L229.50,418.36 L230.00,426.50 L230.50,434.12 L231.00,440.74 L231.50,446.07 L232.00,450.03 L232.50,452.64 L233.00,454.00 L233.50,454.24 L234.00,453.49 L234.50,451.89 L235.00,449.62 L235.50,446.90 L236.00,444.06 L236.50,441.43 L237.00,439.38 L237.50,438.21 L238.00,438.08 L238.50,439.01 L239.00,440.84 L239.50,443.26 L240.00,445.87 L240.50,448.28 L241.00,450.09 L241.50,450.97 L242.00,450.66 L242.50,448.99 L243.00,445.84 L243.50,441.21 L244.00,435.22 L244.50,428.18 L245.00,420.58 L245.50,413.07 L246.00,406.41 L246.50,401.35 L247.00,398.50 L247.50,398.19 L248.00,400.45 L248.50,404.94 L249.00,411.01 L249.50,417.84 L250.00,424.50 L250.50,430.10 L251.00,433.83 L251.50,435.06 L252.00,433.34 L252.50,428.41 L253.00,420.32 L253.50,409.39 L254.00,396.34 L254.50,382.24 L255.00,368.44 L255.50,356.45 L256.00,347.70 L256.50,343.29 L257.00,343.82 L257.50,349.22 L258.00,358.83 L258.50,371.51 L259.00,385.85 L259.50,400.48 L260.00,414.21 L260.50,426.22 L261.00,436.08 L261.50,443.72 L262.00,449.32 L262.50,453.21 L263.00,455.78 L263.50,457.39 L264.00,458.36 L264.50,458.91 L265.00,459.20 L265.50,459.36 L266.00,459.43 L266.50,459.45 L267.00,459.44 L267.50,459.40 L268.00,459.32 L268.50,459.17 L269.00,458.90 L269.50,458.48 L270.00,457.82 L270.50,456.83 L271.00,455.44 L271.50,453.56 L272.00,451.16 L272.50,448.24 L273.00,444.90 L273.50,441.30" fill="none" stroke="#333" stroke-opacity="0.72" stroke-width="1.0"/>
</g>
<text x="53.4" y="495.5" text-anchor="middle" font-family='"Liberation Sans", sans-serif' font-size="13" fill="#222">2</text>
<text x="103" y="495.5" text-anchor="middle" font-family='"Liberation Sans", sans-serif' font-size="13" fill="#222">4</text>
<text x="153.4" y="495.5" text-anchor="middle" font-family='"Liberation Sans", sans-serif' font-size="13" fill="#222">6</text>
<text x="203" y="495.5" text-anchor="middle" font-family='"Liberation Sans", sans-serif' font-size="13" fill="#222">8</text>
<text x="253.8" y="495.5" text-anchor="middle" font-family='"Liberation Sans", sans-serif' font-size="13" fill="#222">10</text>
<text x="157.8" y="518.2" text-anchor="middle" font-family='"Liberation Sans", sans-serif' font-size="16" fill="#222">r/Å</text>
<text transform="translate(20,85.4) rotate(-90)" text-anchor="middle" font-family='"Liberation Sans", sans-serif' font-size="16" fill="#1a1a1a">G(r)/Å<tspan font-size="10.5" dy="-6.5">-2</tspan></text>
<text transform="translate(20,241.5) rotate(-90)" text-anchor="middle" font-family='"Liberation Sans", sans-serif' font-size="16" fill="#1a1a1a">G(r)/Å<tspan font-size="10.5" dy="-6.5">-2</tspan></text>
<text transform="translate(20.5,401.2) rotate(-90)" text-anchor="middle" font-family='"Liberation Sans", sans-serif' font-size="16" fill="#1a1a1a">G(r)/Å<tspan font-size="10.5" dy="-6.5">-2</tspan></text>
<text x="47" y="41.2" font-family='"Liberation Sans", sans-serif' font-weight="bold" font-size="20" fill="#000">a</text>
<text x="106.4" y="38.5" font-family='"Liberation Sans", sans-serif' font-size="16" fill="#d8262e" textLength="47.5" lengthAdjust="spacingAndGlyphs">Ce-Ce</text>
<text x="47" y="199.5" font-family='"Liberation Sans", sans-serif' font-weight="bold" font-size="20" fill="#000">c</text>
<text x="106.2" y="198.4" font-family='"Liberation Sans", sans-serif' font-size="16" fill="#d8262e" textLength="40.6" lengthAdjust="spacingAndGlyphs">Ce-O</text>
<text x="47" y="357.3" font-family='"Liberation Sans", sans-serif' font-weight="bold" font-size="20" fill="#000">e</text>
<text x="106.4" y="351.2" font-family='"Liberation Sans", sans-serif' font-size="16.5" fill="#d8262e" textLength="33.4" lengthAdjust="spacingAndGlyphs">O-O</text>
<rect x="315.4" y="13.2" width="222.5" height="147.4" fill="none" stroke="#999999" stroke-width="1.6"/>
<line x1="312.9" y1="19.10" x2="315.4" y2="19.10" stroke="#555" stroke-width="1"/>
<text x="310.4" y="21.80" text-anchor="end" font-family='"Liberation Sans", sans-serif' font-size="7.6" fill="#333" stroke="#333" stroke-width="0.25">4.000</text>
<line x1="312.9" y1="36.25" x2="315.4" y2="36.25" stroke="#555" stroke-width="1"/>
<text x="310.4" y="38.95" text-anchor="end" font-family='"Liberation Sans", sans-serif' font-size="7.6" fill="#333" stroke="#333" stroke-width="0.25">3.975</text>
<line x1="312.9" y1="53.40" x2="315.4" y2="53.40" stroke="#555" stroke-width="1"/>
<text x="310.4" y="56.10" text-anchor="end" font-family='"Liberation Sans", sans-serif' font-size="7.6" fill="#333" stroke="#333" stroke-width="0.25">3.950</text>
<line x1="312.9" y1="70.55" x2="315.4" y2="70.55" stroke="#555" stroke-width="1"/>
<text x="310.4" y="73.25" text-anchor="end" font-family='"Liberation Sans", sans-serif' font-size="7.6" fill="#333" stroke="#333" stroke-width="0.25">3.925</text>
<line x1="312.9" y1="87.70" x2="315.4" y2="87.70" stroke="#555" stroke-width="1"/>
<text x="310.4" y="90.40" text-anchor="end" font-family='"Liberation Sans", sans-serif' font-size="7.6" fill="#333" stroke="#333" stroke-width="0.25">3.900</text>
<line x1="312.9" y1="104.85" x2="315.4" y2="104.85" stroke="#555" stroke-width="1"/>
<text x="310.4" y="107.55" text-anchor="end" font-family='"Liberation Sans", sans-serif' font-size="7.6" fill="#333" stroke="#333" stroke-width="0.25">3.875</text>
<line x1="312.9" y1="122.00" x2="315.4" y2="122.00" stroke="#555" stroke-width="1"/>
<text x="310.4" y="124.70" text-anchor="end" font-family='"Liberation Sans", sans-serif' font-size="7.6" fill="#333" stroke="#333" stroke-width="0.25">3.850</text>
<line x1="312.9" y1="139.15" x2="315.4" y2="139.15" stroke="#555" stroke-width="1"/>
<text x="310.4" y="141.85" text-anchor="end" font-family='"Liberation Sans", sans-serif' font-size="7.6" fill="#333" stroke="#333" stroke-width="0.25">3.825</text>
<line x1="312.9" y1="156.30" x2="315.4" y2="156.30" stroke="#555" stroke-width="1"/>
<text x="310.4" y="159.00" text-anchor="end" font-family='"Liberation Sans", sans-serif' font-size="7.6" fill="#333" stroke="#333" stroke-width="0.25">3.800</text>
<line x1="330.70" y1="160.6" x2="330.70" y2="163.1" stroke="#555" stroke-width="1"/>
<line x1="362.57" y1="160.6" x2="362.57" y2="163.1" stroke="#555" stroke-width="1"/>
<line x1="394.44" y1="160.6" x2="394.44" y2="163.1" stroke="#555" stroke-width="1"/>
<line x1="426.31" y1="160.6" x2="426.31" y2="163.1" stroke="#555" stroke-width="1"/>
<line x1="458.18" y1="160.6" x2="458.18" y2="163.1" stroke="#555" stroke-width="1"/>
<line x1="490.05" y1="160.6" x2="490.05" y2="163.1" stroke="#555" stroke-width="1"/>
<line x1="521.92" y1="160.6" x2="521.92" y2="163.1" stroke="#555" stroke-width="1"/>
<text transform="translate(286.5,86.9) rotate(-90)" text-anchor="middle" font-family='"Liberation Sans", sans-serif' font-size="7.8" fill="#333" stroke="#333" stroke-width="0.15">atom-atom distance (Å)</text>
<rect x="314.6" y="168.5" width="225.79999999999995" height="145.7" fill="none" stroke="#999999" stroke-width="1.6"/>
<line x1="312.1" y1="169.40" x2="314.6" y2="169.40" stroke="#555" stroke-width="1"/>
<text x="309.6" y="172.10" text-anchor="end" font-family='"Liberation Sans", sans-serif' font-size="7.6" fill="#333" stroke="#333" stroke-width="0.25">2.60</text>
<line x1="312.1" y1="188.24" x2="314.6" y2="188.24" stroke="#555" stroke-width="1"/>
<text x="309.6" y="190.94" text-anchor="end" font-family='"Liberation Sans", sans-serif' font-size="7.6" fill="#333" stroke="#333" stroke-width="0.25">2.55</text>
<line x1="312.1" y1="207.08" x2="314.6" y2="207.08" stroke="#555" stroke-width="1"/>
<text x="309.6" y="209.78" text-anchor="end" font-family='"Liberation Sans", sans-serif' font-size="7.6" fill="#333" stroke="#333" stroke-width="0.25">2.50</text>
<line x1="312.1" y1="225.92" x2="314.6" y2="225.92" stroke="#555" stroke-width="1"/>
<text x="309.6" y="228.62" text-anchor="end" font-family='"Liberation Sans", sans-serif' font-size="7.6" fill="#333" stroke="#333" stroke-width="0.25">2.45</text>
<line x1="312.1" y1="244.76" x2="314.6" y2="244.76" stroke="#555" stroke-width="1"/>
<text x="309.6" y="247.46" text-anchor="end" font-family='"Liberation Sans", sans-serif' font-size="7.6" fill="#333" stroke="#333" stroke-width="0.25">2.40</text>
<line x1="312.1" y1="263.60" x2="314.6" y2="263.60" stroke="#555" stroke-width="1"/>
<text x="309.6" y="266.30" text-anchor="end" font-family='"Liberation Sans", sans-serif' font-size="7.6" fill="#333" stroke="#333" stroke-width="0.25">2.35</text>
<line x1="312.1" y1="282.44" x2="314.6" y2="282.44" stroke="#555" stroke-width="1"/>
<text x="309.6" y="285.14" text-anchor="end" font-family='"Liberation Sans", sans-serif' font-size="7.6" fill="#333" stroke="#333" stroke-width="0.25">2.30</text>
<line x1="312.1" y1="301.28" x2="314.6" y2="301.28" stroke="#555" stroke-width="1"/>
<text x="309.6" y="303.98" text-anchor="end" font-family='"Liberation Sans", sans-serif' font-size="7.6" fill="#333" stroke="#333" stroke-width="0.25">2.25</text>
<line x1="330.10" y1="314.2" x2="330.10" y2="316.7" stroke="#555" stroke-width="1"/>
<line x1="362.47" y1="314.2" x2="362.47" y2="316.7" stroke="#555" stroke-width="1"/>
<line x1="394.84" y1="314.2" x2="394.84" y2="316.7" stroke="#555" stroke-width="1"/>
<line x1="427.21" y1="314.2" x2="427.21" y2="316.7" stroke="#555" stroke-width="1"/>
<line x1="459.58" y1="314.2" x2="459.58" y2="316.7" stroke="#555" stroke-width="1"/>
<line x1="491.95" y1="314.2" x2="491.95" y2="316.7" stroke="#555" stroke-width="1"/>
<line x1="524.32" y1="314.2" x2="524.32" y2="316.7" stroke="#555" stroke-width="1"/>
<text transform="translate(289.5,242.0) rotate(-90)" text-anchor="middle" font-family='"Liberation Sans", sans-serif' font-size="7.8" fill="#333" stroke="#333" stroke-width="0.15">atom-atom distance (Å)</text>
<rect x="315.5" y="324.8" width="227.20000000000005" height="147.5" fill="none" stroke="#999999" stroke-width="1.6"/>
<line x1="313.0" y1="331.00" x2="315.5" y2="331.00" stroke="#555" stroke-width="1"/>
<text x="310.5" y="333.70" text-anchor="end" font-family='"Liberation Sans", sans-serif' font-size="7.6" fill="#333" stroke="#333" stroke-width="0.25">2.90</text>
<line x1="313.0" y1="353.53" x2="315.5" y2="353.53" stroke="#555" stroke-width="1"/>
<text x="310.5" y="356.23" text-anchor="end" font-family='"Liberation Sans", sans-serif' font-size="7.6" fill="#333" stroke="#333" stroke-width="0.25">2.85</text>
<line x1="313.0" y1="376.06" x2="315.5" y2="376.06" stroke="#555" stroke-width="1"/>
<text x="310.5" y="378.76" text-anchor="end" font-family='"Liberation Sans", sans-serif' font-size="7.6" fill="#333" stroke="#333" stroke-width="0.25">2.80</text>
<line x1="313.0" y1="398.59" x2="315.5" y2="398.59" stroke="#555" stroke-width="1"/>
<text x="310.5" y="401.29" text-anchor="end" font-family='"Liberation Sans", sans-serif' font-size="7.6" fill="#333" stroke="#333" stroke-width="0.25">2.75</text>
<line x1="313.0" y1="421.12" x2="315.5" y2="421.12" stroke="#555" stroke-width="1"/>
<text x="310.5" y="423.82" text-anchor="end" font-family='"Liberation Sans", sans-serif' font-size="7.6" fill="#333" stroke="#333" stroke-width="0.25">2.70</text>
<line x1="313.0" y1="443.65" x2="315.5" y2="443.65" stroke="#555" stroke-width="1"/>
<text x="310.5" y="446.35" text-anchor="end" font-family='"Liberation Sans", sans-serif' font-size="7.6" fill="#333" stroke="#333" stroke-width="0.25">2.65</text>
<line x1="313.0" y1="466.18" x2="315.5" y2="466.18" stroke="#555" stroke-width="1"/>
<text x="310.5" y="468.88" text-anchor="end" font-family='"Liberation Sans", sans-serif' font-size="7.6" fill="#333" stroke="#333" stroke-width="0.25">2.60</text>
<line x1="331.50" y1="472.3" x2="331.50" y2="474.8" stroke="#555" stroke-width="1"/>
<line x1="364.00" y1="472.3" x2="364.00" y2="474.8" stroke="#555" stroke-width="1"/>
<line x1="396.50" y1="472.3" x2="396.50" y2="474.8" stroke="#555" stroke-width="1"/>
<line x1="429.00" y1="472.3" x2="429.00" y2="474.8" stroke="#555" stroke-width="1"/>
<line x1="461.50" y1="472.3" x2="461.50" y2="474.8" stroke="#555" stroke-width="1"/>
<line x1="494.00" y1="472.3" x2="494.00" y2="474.8" stroke="#555" stroke-width="1"/>
<line x1="526.50" y1="472.3" x2="526.50" y2="474.8" stroke="#555" stroke-width="1"/>
<text transform="translate(291.0,398.9) rotate(-90)" text-anchor="middle" font-family='"Liberation Sans", sans-serif' font-size="7.8" fill="#333" stroke="#333" stroke-width="0.15">atom-atom distance (Å)</text>
<text x="331.50" y="481.9" text-anchor="middle" font-family='"Liberation Sans", sans-serif' font-size="8" fill="#333" stroke="#333" stroke-width="0.25">2</text>
<text x="364.00" y="481.9" text-anchor="middle" font-family='"Liberation Sans", sans-serif' font-size="8" fill="#333" stroke="#333" stroke-width="0.25">4</text>
<text x="396.50" y="481.9" text-anchor="middle" font-family='"Liberation Sans", sans-serif' font-size="8" fill="#333" stroke="#333" stroke-width="0.25">6</text>
<text x="429.00" y="481.9" text-anchor="middle" font-family='"Liberation Sans", sans-serif' font-size="8" fill="#333" stroke="#333" stroke-width="0.25">8</text>
<text x="461.50" y="481.9" text-anchor="middle" font-family='"Liberation Sans", sans-serif' font-size="8" fill="#333" stroke="#333" stroke-width="0.25">10</text>
<text x="494.00" y="481.9" text-anchor="middle" font-family='"Liberation Sans", sans-serif' font-size="8" fill="#333" stroke="#333" stroke-width="0.25">12</text>
<text x="526.50" y="481.9" text-anchor="middle" font-family='"Liberation Sans", sans-serif' font-size="8" fill="#333" stroke="#333" stroke-width="0.25">14</text>
<text x="360.2" y="507.2" font-family='"Liberation Sans", sans-serif' font-size="15.2" fill="#222">Distance from</text>
<text x="460.6" y="507.2" font-family='"Liberation Sans", sans-serif' font-size="15.2" fill="#222" textLength="55.3" lengthAdjust="spacingAndGlyphs">center/Å</text>
<text x="344" y="42.7" font-family='"Liberation Sans", sans-serif' font-weight="bold" font-size="20" fill="#000">b</text>
<text x="401.6" y="41.8" font-family='"Liberation Sans", sans-serif' font-size="18" fill="#d8262e" textLength="52" lengthAdjust="spacingAndGlyphs">Ce-Ce,</text>
<text x="461.4" y="41.8" font-family='"Liberation Sans", sans-serif' font-size="18" fill="#d8262e" textLength="31.2" lengthAdjust="spacingAndGlyphs">wet</text>
<text x="344" y="199.3" font-family='"Liberation Sans", sans-serif' font-weight="bold" font-size="20" fill="#000">d</text>
<text x="414.7" y="195.7" font-family='"Liberation Sans", sans-serif' font-size="18" fill="#d8262e" textLength="45" lengthAdjust="spacingAndGlyphs">Ce-O,</text>
<text x="465.5" y="195.7" font-family='"Liberation Sans", sans-serif' font-size="18" fill="#d8262e" textLength="30.8" lengthAdjust="spacingAndGlyphs">wet</text>
<text x="343" y="357.5" font-family='"Liberation Sans", sans-serif' font-weight="bold" font-size="20" fill="#000">f</text>
<text x="401.9" y="350" font-family='"Liberation Sans", sans-serif' font-size="18" fill="#d8262e" textLength="39" lengthAdjust="spacingAndGlyphs">O-O,</text>
<text x="445.6" y="350" font-family='"Liberation Sans", sans-serif' font-size="18" fill="#d8262e" textLength="30.8" lengthAdjust="spacingAndGlyphs">wet</text>
<defs><clipPath id="cb"><rect x="316" y="14" width="221" height="146"/></clipPath>
<clipPath id="cd"><rect x="315.5" y="169.5" width="224" height="144"/></clipPath>
<clipPath id="cf"><rect x="316.3" y="325.6" width="225.6" height="146"/></clipPath></defs>
<path d="M344.2 98.9h.01M342.6 110.4h.01M344.0 104.8h.01M344.2 102.8h.01M341.5 102.2h.01M341.9 107.0h.01M343.2 106.0h.01M342.9 97.5h.01M342.6 103.6h.01M342.0 104.8h.01M343.0 105.4h.01M343.2 102.7h.01M341.6 102.3h.01M344.2 99.9h.01M342.4 109.4h.01M341.8 107.4h.01M342.9 104.7h.01M342.0 98.2h.01M343.2 98.5h.01M344.3 104.0h.01M344.6 110.7h.01M343.1 98.4h.01M343.6 107.0h.01M342.6 101.0h.01M344.0 106.9h.01M340.9 96.9h.01M344.5 106.7h.01M341.5 101.1h.01M344.0 99.4h.01M343.8 108.8h.01M375.9 113.3h.01M375.2 113.2h.01M375.5 113.8h.01M373.6 109.0h.01M374.0 95.2h.01M374.9 101.4h.01M375.7 101.2h.01M375.9 119.1h.01M373.7 105.9h.01M374.6 113.4h.01M375.0 106.4h.01M374.5 109.6h.01M374.7 100.6h.01M374.7 103.7h.01M374.0 112.4h.01M374.6 111.0h.01M374.4 111.6h.01M375.4 114.9h.01M374.4 100.3h.01M373.5 103.6h.01M373.5 108.0h.01M374.6 110.7h.01M375.1 112.1h.01M374.4 107.5h.01M375.9 114.9h.01M376.0 95.0h.01M373.8 109.1h.01M375.7 106.7h.01M374.8 107.7h.01M375.0 113.5h.01M375.3 115.0h.01M374.2 102.5h.01M376.4 101.0h.01M374.8 109.8h.01M373.7 98.2h.01M399.1 97.3h.01M398.0 96.3h.01M398.9 107.7h.01M395.5 114.2h.01M397.3 103.5h.01M398.6 95.1h.01M395.8 94.7h.01M397.0 116.6h.01M396.5 91.1h.01M398.0 121.2h.01M395.7 95.9h.01M398.1 110.1h.01M396.8 112.0h.01M398.0 99.0h.01M395.3 112.8h.01M396.5 100.6h.01M396.0 99.2h.01M396.5 107.4h.01M397.9 103.6h.01M398.6 112.4h.01M399.1 99.8h.01M398.2 104.4h.01M396.4 105.3h.01M396.5 114.5h.01M396.8 106.0h.01M398.5 109.0h.01M396.4 113.5h.01M396.5 103.9h.01M396.3 100.4h.01M397.4 93.7h.01M397.2 113.5h.01M395.4 99.6h.01M398.3 110.7h.01M397.1 98.5h.01M395.6 117.4h.01M396.5 102.5h.01M397.6 96.7h.01M396.0 108.7h.01M397.2 109.6h.01M397.2 103.9h.01M398.8 112.6h.01M396.3 103.1h.01M398.1 107.0h.01M396.2 92.6h.01M398.5 90.7h.01M398.6 116.2h.01M396.0 102.4h.01M397.9 99.7h.01M395.6 121.5h.01M395.1 94.0h.01M398.8 99.0h.01M395.3 111.4h.01M396.3 96.1h.01M396.0 111.1h.01M396.9 92.9h.01M397.6 96.3h.01M395.4 102.0h.01M396.0 100.6h.01M397.8 111.8h.01M396.3 111.2h.01M398.8 99.5h.01M397.4 108.7h.01M398.7 100.7h.01M395.8 100.5h.01M395.6 107.6h.01M396.2 86.8h.01M397.3 109.2h.01M399.4 114.0h.01M395.8 108.2h.01M397.8 109.6h.01M395.9 86.0h.01M397.9 82.3h.01M395.0 82.6h.01M429.2 113.1h.01M429.7 107.8h.01M431.1 109.0h.01M428.0 98.0h.01M428.3 111.1h.01M430.0 88.6h.01M428.6 109.4h.01M428.7 107.0h.01M430.2 96.6h.01M430.7 99.1h.01M430.7 109.8h.01M428.8 116.5h.01M429.4 100.4h.01M429.1 108.8h.01M427.3 95.5h.01M431.3 110.6h.01M428.5 96.1h.01M430.2 110.2h.01M429.5 98.4h.01M428.2 98.6h.01M430.8 111.0h.01M431.6 114.6h.01M429.0 99.8h.01M428.2 97.7h.01M429.9 105.9h.01M431.1 111.9h.01M431.6 105.7h.01M428.7 102.6h.01M429.7 100.5h.01M429.1 109.1h.01M430.1 103.7h.01M431.8 106.6h.01M430.9 105.1h.01M430.2 94.8h.01M428.7 114.9h.01M431.1 95.4h.01M430.8 93.0h.01M429.4 90.2h.01M428.3 95.9h.01M431.0 106.6h.01M429.0 102.8h.01M429.8 96.4h.01M431.1 118.4h.01M429.8 102.0h.01M429.3 112.9h.01M429.6 101.3h.01M430.0 109.5h.01M429.6 113.6h.01M428.7 95.8h.01M431.5 103.7h.01M430.0 102.9h.01M430.2 111.1h.01M429.1 93.7h.01M428.5 109.1h.01M428.2 108.1h.01M431.5 106.4h.01M430.3 103.0h.01M431.2 95.9h.01M428.7 103.0h.01M431.7 102.4h.01M430.6 108.0h.01M429.6 97.0h.01M430.7 101.7h.01M428.9 101.4h.01M428.1 104.8h.01M428.8 95.6h.01M428.6 98.1h.01M429.3 107.9h.01M429.0 102.3h.01M428.1 108.7h.01M428.3 98.6h.01M431.5 97.1h.01M430.8 97.6h.01M428.7 101.6h.01M429.9 100.6h.01M429.3 86.6h.01M430.6 116.8h.01M428.9 91.8h.01M427.5 109.8h.01M431.6 102.4h.01M431.3 105.3h.01M429.6 93.9h.01M427.9 114.2h.01M430.3 101.6h.01M431.0 114.9h.01M430.9 94.9h.01M430.7 95.2h.01M428.1 113.2h.01M427.7 104.9h.01M428.8 97.7h.01M427.6 98.3h.01M428.7 105.2h.01M428.9 109.1h.01M427.9 114.8h.01M429.9 115.2h.01M431.2 108.1h.01M429.3 98.3h.01M431.6 109.9h.01M431.5 108.7h.01M429.4 97.2h.01M432.0 93.2h.01M429.9 91.6h.01M427.8 89.0h.01M430.8 91.5h.01M430.8 102.5h.01M430.7 101.9h.01M427.5 102.6h.01M428.2 106.6h.01M427.9 96.1h.01M429.6 104.9h.01M429.2 102.1h.01M429.0 95.5h.01M430.3 109.6h.01M429.6 107.9h.01M427.9 87.9h.01M429.9 114.5h.01M429.6 109.5h.01M431.2 95.3h.01M431.3 113.3h.01M429.0 118.3h.01M430.4 96.1h.01M430.8 112.6h.01M429.6 112.3h.01M430.9 103.8h.01M430.0 99.6h.01M430.8 112.3h.01M430.3 115.7h.01M430.7 115.4h.01M431.4 109.8h.01M430.7 110.8h.01M428.5 110.2h.01M429.8 95.2h.01M430.1 112.7h.01M429.6 109.2h.01M430.2 106.1h.01M428.9 104.4h.01M428.2 118.2h.01M429.6 99.8h.01M428.8 115.6h.01M427.7 99.2h.01M428.2 114.4h.01M429.4 103.9h.01M429.2 109.9h.01M431.4 102.0h.01M431.3 104.5h.01M428.7 114.3h.01M428.4 120.5h.01M427.3 109.8h.01M431.0 92.9h.01M429.2 89.7h.01M428.5 125.8h.01M428.1 126.5h.01M427.6 124.8h.01M427.8 83.3h.01M429.9 84.3h.01M429.0 123.1h.01M428.4 120.6h.01M429.4 125.2h.01M429.7 86.5h.01M429.8 120.6h.01M443.1 97.4h.01M443.5 99.4h.01M445.4 91.8h.01M445.5 107.9h.01M443.1 117.8h.01M442.3 101.1h.01M441.3 122.2h.01M443.2 116.3h.01M443.6 119.6h.01M445.9 119.6h.01M445.0 115.2h.01M441.9 114.1h.01M441.5 116.6h.01M443.2 98.9h.01M444.8 96.9h.01M444.6 105.2h.01M445.2 101.7h.01M445.9 118.7h.01M442.9 99.3h.01M442.7 118.1h.01M446.2 111.9h.01M446.0 120.8h.01M443.6 94.3h.01M441.6 103.3h.01M443.8 89.4h.01M445.5 119.0h.01M441.9 117.4h.01M443.4 122.1h.01M442.6 104.7h.01M443.7 116.7h.01M444.3 111.5h.01M443.2 101.6h.01M445.5 110.4h.01M442.0 113.0h.01M442.2 94.0h.01M444.0 119.2h.01M444.0 108.3h.01M441.9 94.3h.01M442.7 110.2h.01M445.6 91.4h.01M442.4 111.0h.01M445.4 103.3h.01M442.7 111.2h.01M445.3 121.0h.01M443.1 118.3h.01M443.0 116.5h.01M442.3 115.0h.01M442.8 103.3h.01M442.8 115.7h.01M443.8 96.6h.01M443.3 117.2h.01M442.9 112.9h.01M446.6 98.4h.01M443.1 107.0h.01M444.0 108.1h.01M445.5 102.3h.01M443.0 119.1h.01M444.9 115.2h.01M443.7 113.1h.01M443.1 99.3h.01M444.1 107.8h.01M443.7 103.5h.01M443.0 106.3h.01M444.1 119.4h.01M444.9 116.8h.01M441.6 122.6h.01M445.8 110.5h.01M444.7 108.5h.01M441.8 97.7h.01M443.1 91.3h.01M443.1 108.4h.01M446.1 108.9h.01M443.7 101.7h.01M443.7 113.1h.01M444.3 91.5h.01M445.0 116.4h.01M444.9 110.1h.01M443.8 98.8h.01M443.0 95.1h.01M445.8 97.8h.01M441.9 103.4h.01M445.3 90.6h.01M444.3 100.8h.01M441.9 92.1h.01M441.9 107.6h.01M443.1 90.4h.01M442.3 103.3h.01M444.6 117.3h.01M444.3 117.4h.01M446.2 93.2h.01M441.7 93.1h.01M445.2 114.0h.01M445.2 111.5h.01M443.3 110.3h.01M443.1 120.9h.01M443.8 113.5h.01M442.4 92.9h.01M444.9 118.6h.01M444.1 104.5h.01M444.0 103.8h.01M442.4 101.1h.01M445.0 119.3h.01M443.6 111.3h.01M444.4 106.9h.01M445.9 102.9h.01M442.7 102.7h.01M444.5 96.5h.01M445.1 117.0h.01M443.8 111.4h.01M445.7 107.6h.01M442.3 87.5h.01M443.6 128.9h.01M445.7 126.6h.01M444.2 131.4h.01M446.2 127.8h.01M445.2 129.7h.01M444.7 127.5h.01M446.1 125.1h.01M444.8 87.6h.01M442.4 87.9h.01M444.3 86.5h.01M443.1 87.0h.01M455.8 105.1h.01M457.5 91.7h.01M457.5 114.8h.01M454.6 120.2h.01M455.8 117.1h.01M456.1 98.4h.01M458.9 92.5h.01M454.7 123.0h.01M455.5 108.3h.01M455.4 117.6h.01M454.8 95.3h.01M456.8 110.9h.01M455.7 95.4h.01M454.4 116.8h.01M456.9 94.0h.01M458.6 100.9h.01M457.3 117.9h.01M458.1 115.7h.01M458.6 118.6h.01M456.1 113.6h.01M459.3 110.2h.01M454.9 99.7h.01M458.2 93.8h.01M456.9 124.1h.01M457.1 98.4h.01M458.2 99.8h.01M457.1 106.7h.01M455.3 116.6h.01M455.1 91.3h.01M457.1 94.1h.01M456.9 118.8h.01M454.9 103.9h.01M459.2 96.4h.01M459.2 110.7h.01M456.4 111.2h.01M454.6 106.5h.01M456.8 102.2h.01M457.2 112.7h.01M456.4 97.4h.01M456.2 118.3h.01M455.6 99.5h.01M455.5 113.5h.01M457.3 105.7h.01M458.0 98.9h.01M458.7 125.2h.01M456.1 97.2h.01M455.1 116.2h.01M455.2 126.1h.01M457.5 111.2h.01M455.5 102.9h.01M458.9 91.8h.01M458.3 104.0h.01M456.5 114.0h.01M455.0 123.4h.01M456.8 115.9h.01M457.2 114.8h.01M459.0 90.8h.01M457.1 89.5h.01M457.0 95.9h.01M455.1 95.0h.01M458.5 110.0h.01M456.8 120.1h.01M457.1 113.1h.01M454.9 113.8h.01M458.9 111.9h.01M454.4 98.4h.01M458.8 99.3h.01M459.3 99.9h.01M455.4 93.5h.01M456.8 92.4h.01M454.8 112.0h.01M455.0 111.8h.01M456.4 95.9h.01M455.4 112.0h.01M457.6 91.9h.01M455.9 108.0h.01M456.5 110.3h.01M458.6 92.7h.01M458.5 102.9h.01M454.8 120.9h.01M457.7 128.8h.01M455.8 107.4h.01M459.1 87.3h.01M457.4 98.1h.01M455.8 102.0h.01M456.1 124.8h.01M455.9 107.3h.01M455.3 125.5h.01M455.3 99.0h.01M456.4 121.5h.01M459.5 118.1h.01M454.7 117.2h.01M454.9 87.4h.01M454.8 111.2h.01M457.6 104.8h.01M457.8 113.9h.01M456.2 94.9h.01M456.5 103.2h.01M458.1 103.3h.01M458.2 122.1h.01M455.4 125.6h.01M455.1 107.5h.01M457.5 99.8h.01M455.2 92.5h.01M457.9 104.9h.01M458.9 106.6h.01M457.9 123.2h.01M457.9 106.6h.01M456.0 117.7h.01M456.0 93.8h.01M457.7 80.7h.01M459.0 77.8h.01M458.5 70.3h.01M455.5 80.1h.01M457.0 72.0h.01M458.1 132.9h.01M456.3 75.5h.01M454.6 73.7h.01M455.8 79.6h.01M455.7 128.8h.01M454.9 129.7h.01M456.1 77.0h.01M456.2 128.3h.01M455.3 137.5h.01M456.1 80.7h.01M480.9 97.7h.01M477.2 103.6h.01M479.6 105.6h.01M480.7 88.3h.01M479.6 104.9h.01M480.8 115.4h.01M479.9 118.9h.01M478.2 127.4h.01M478.1 102.6h.01M480.2 91.1h.01M481.1 90.6h.01M477.5 109.8h.01M480.6 99.3h.01M481.1 115.6h.01M481.2 92.0h.01M481.3 100.9h.01M480.1 91.3h.01M476.8 110.3h.01M478.7 110.1h.01M479.7 101.9h.01M479.5 108.5h.01M479.2 93.8h.01M481.0 96.0h.01M481.4 105.7h.01M478.2 115.3h.01M478.6 90.7h.01M478.3 121.9h.01M479.7 93.0h.01M477.6 92.6h.01M477.5 123.2h.01M481.0 123.6h.01M477.4 115.2h.01M477.1 108.3h.01M481.5 98.5h.01M480.2 105.2h.01M477.6 122.9h.01M480.1 89.7h.01M480.0 112.7h.01M480.5 97.1h.01M478.6 117.6h.01M479.7 113.0h.01M478.1 93.3h.01M480.9 100.8h.01M481.6 105.4h.01M480.1 119.6h.01M480.6 127.1h.01M481.4 93.5h.01M479.9 123.9h.01M477.7 106.8h.01M478.9 86.2h.01M480.4 93.4h.01M477.6 120.5h.01M479.7 114.3h.01M478.0 95.2h.01M479.4 124.1h.01M477.9 97.3h.01M479.6 124.4h.01M480.6 121.0h.01M478.6 93.7h.01M479.3 103.4h.01M480.9 114.0h.01M480.5 94.9h.01M479.3 128.1h.01M479.6 129.7h.01M480.8 99.5h.01M480.4 107.4h.01M479.1 98.1h.01M478.8 123.8h.01M478.4 97.9h.01M478.3 97.6h.01M479.5 104.0h.01M478.1 98.6h.01M477.8 98.7h.01M478.8 89.4h.01M480.1 84.0h.01M481.0 123.9h.01M480.2 120.1h.01M480.4 115.3h.01M479.1 83.5h.01M477.4 108.6h.01M477.5 99.8h.01M479.9 120.0h.01M480.0 113.6h.01M480.2 115.3h.01M480.7 100.6h.01M478.4 117.9h.01M481.4 115.9h.01M481.0 130.5h.01M477.3 97.1h.01M478.6 95.8h.01M478.0 89.0h.01M479.7 104.3h.01M480.0 83.3h.01M480.2 108.6h.01M480.8 117.8h.01M480.6 95.6h.01M480.4 89.9h.01M477.5 108.9h.01M479.9 90.6h.01M478.2 109.5h.01M478.0 96.6h.01M480.0 127.2h.01M479.2 104.6h.01M478.6 114.1h.01M480.8 123.4h.01M481.5 94.7h.01M479.5 97.1h.01M479.1 115.9h.01M478.8 109.6h.01M480.1 118.3h.01M477.3 106.1h.01M481.3 98.2h.01M478.4 120.0h.01M481.1 122.9h.01M480.5 91.8h.01M478.9 99.3h.01M480.3 105.7h.01M479.7 112.8h.01M481.1 101.2h.01M480.6 101.9h.01M479.1 96.6h.01M480.0 88.1h.01M480.7 110.1h.01M479.6 116.2h.01M481.4 96.2h.01M479.9 105.6h.01M477.6 120.6h.01M478.8 117.1h.01M476.9 97.0h.01M480.1 115.2h.01M480.6 119.0h.01M477.5 112.5h.01M477.5 106.3h.01M478.8 120.2h.01M477.9 123.3h.01M480.0 117.5h.01M481.2 121.7h.01M479.3 108.4h.01M478.5 94.6h.01M480.7 116.2h.01M480.2 122.2h.01M477.9 124.0h.01M480.9 85.5h.01M480.3 106.2h.01M480.8 92.4h.01M478.3 107.7h.01M479.2 116.7h.01M478.4 103.9h.01M477.9 106.6h.01M479.3 117.7h.01M479.7 94.6h.01M481.2 99.0h.01M478.2 107.6h.01M477.7 101.1h.01M477.9 89.5h.01M481.1 96.5h.01M478.8 104.1h.01M480.8 125.5h.01M478.4 116.2h.01M481.6 122.7h.01M479.2 85.5h.01M478.2 127.3h.01M480.5 127.3h.01M479.4 112.9h.01M478.8 122.8h.01M478.3 111.9h.01M480.0 102.6h.01M481.4 89.8h.01M480.8 117.6h.01M479.1 116.7h.01M481.1 129.5h.01M479.6 111.9h.01M481.7 132.2h.01M481.5 119.4h.01M478.3 116.6h.01M478.9 104.8h.01M480.5 89.4h.01M478.0 104.9h.01M481.5 105.4h.01M480.6 111.7h.01M480.1 94.3h.01M478.1 94.3h.01M479.6 115.8h.01M478.1 90.3h.01M479.6 96.1h.01M479.5 109.0h.01M477.8 107.8h.01M480.5 113.3h.01M478.2 89.9h.01M478.3 117.9h.01M479.4 138.5h.01M477.1 57.3h.01M480.6 78.8h.01M479.6 72.0h.01M478.5 59.6h.01M477.8 58.6h.01M478.2 77.5h.01M478.1 66.2h.01M479.5 66.7h.01M477.5 132.9h.01M477.1 144.3h.01M481.2 71.7h.01M478.6 69.0h.01M479.3 138.9h.01M480.4 139.9h.01M479.3 79.7h.01M477.4 78.9h.01M480.6 77.3h.01M477.8 135.4h.01M480.9 63.0h.01M479.0 61.9h.01M479.5 134.0h.01M481.1 78.8h.01M479.7 73.4h.01M479.9 72.5h.01M489.2 110.4h.01M488.2 101.6h.01M490.1 103.3h.01M489.1 98.1h.01M488.3 90.2h.01M487.9 118.3h.01M487.7 119.6h.01M490.0 100.9h.01M488.7 101.4h.01M489.2 115.4h.01M488.7 120.0h.01M488.2 106.2h.01M489.6 113.3h.01M489.0 110.3h.01M488.3 121.4h.01M490.6 96.2h.01M488.5 112.8h.01M489.4 100.3h.01M488.3 106.3h.01M489.3 102.7h.01M489.3 115.1h.01M488.2 98.4h.01M488.6 98.5h.01M490.0 100.4h.01M488.1 101.8h.01M487.4 115.9h.01M489.3 113.8h.01M490.5 114.0h.01M488.9 114.7h.01M488.2 115.0h.01M490.4 114.5h.01M488.7 97.5h.01M488.6 99.4h.01M488.4 118.0h.01M489.6 92.2h.01M489.4 97.1h.01M488.6 102.7h.01M490.9 117.3h.01M490.2 122.9h.01M490.0 117.9h.01M487.5 102.7h.01M488.9 117.8h.01M489.8 99.6h.01M488.7 118.3h.01M489.5 114.9h.01M486.9 100.4h.01M491.1 100.8h.01M488.5 97.5h.01M490.3 119.7h.01M490.6 107.0h.01M488.2 95.2h.01M489.8 104.1h.01M490.6 102.2h.01M490.2 112.1h.01M489.3 98.8h.01M489.9 108.6h.01M488.5 110.8h.01M489.0 115.9h.01M489.8 119.4h.01M488.0 107.1h.01M488.5 103.4h.01M487.8 91.9h.01M489.0 116.3h.01M491.5 103.2h.01M489.3 112.9h.01M488.4 93.4h.01M491.4 114.3h.01M488.5 100.6h.01M487.8 112.5h.01M487.2 103.1h.01M488.7 139.3h.01M488.5 85.8h.01M490.2 85.6h.01M490.1 134.2h.01M488.3 80.5h.01M489.4 125.4h.01M489.6 129.3h.01M491.2 69.5h.01M488.8 79.6h.01M489.3 70.4h.01M490.9 89.7h.01M491.0 79.8h.01M487.8 125.6h.01M487.5 76.4h.01M491.1 87.1h.01M490.4 77.3h.01M490.1 70.0h.01M488.6 85.5h.01M487.7 79.8h.01M488.4 83.6h.01M497.1 131.7h.01M500.7 70.7h.01M499.9 101.2h.01M501.4 100.6h.01M497.7 116.2h.01M497.8 72.9h.01M497.0 75.6h.01M498.6 115.4h.01M500.2 110.4h.01M500.4 94.3h.01M500.4 106.1h.01M497.2 108.3h.01M496.8 99.2h.01M499.9 139.2h.01M499.6 96.9h.01M499.5 108.4h.01M500.1 98.5h.01M501.5 96.4h.01M499.0 118.8h.01M500.2 101.2h.01M497.8 118.5h.01M501.4 111.4h.01M500.4 95.9h.01M497.4 83.0h.01M501.9 131.9h.01M498.9 123.9h.01M500.8 128.1h.01M501.1 111.1h.01M500.9 77.8h.01M500.9 87.8h.01M499.5 137.0h.01M497.5 137.8h.01M500.7 91.8h.01M498.2 116.3h.01M498.4 85.8h.01M498.1 96.8h.01M498.2 114.0h.01M499.8 95.4h.01M500.4 91.3h.01M497.2 80.4h.01M498.0 103.1h.01M498.8 126.3h.01M499.7 85.0h.01M497.4 120.5h.01M499.2 95.3h.01M499.6 104.0h.01M497.0 111.8h.01M500.3 129.8h.01M498.7 119.4h.01M497.6 125.3h.01M500.7 95.0h.01M499.4 127.0h.01M497.8 98.3h.01M500.5 135.9h.01M497.8 122.3h.01M501.9 82.2h.01M498.4 100.1h.01M497.5 103.7h.01M498.2 116.9h.01M500.6 85.7h.01M498.0 111.4h.01M499.2 91.5h.01M497.3 112.1h.01M498.4 83.1h.01M499.2 97.3h.01M500.3 103.6h.01M500.7 96.0h.01M497.7 115.4h.01M501.7 126.4h.01M499.6 93.0h.01M499.3 96.6h.01M497.5 138.7h.01M497.2 132.6h.01M501.1 129.6h.01M499.2 131.5h.01M501.4 88.3h.01M500.7 121.2h.01M501.5 81.1h.01M497.9 114.0h.01M501.0 91.5h.01M501.3 109.1h.01M500.1 107.0h.01M501.1 122.6h.01M498.0 101.7h.01M500.1 123.9h.01M498.3 115.8h.01M499.5 109.7h.01M499.1 128.1h.01M497.5 102.3h.01M500.9 130.3h.01M499.5 111.6h.01M501.6 122.4h.01M500.7 69.8h.01M499.5 120.7h.01M499.6 125.5h.01M500.9 76.7h.01M501.3 107.5h.01M501.8 85.9h.01M498.4 83.8h.01M500.1 106.6h.01M496.9 122.8h.01M497.5 133.1h.01M497.4 135.1h.01M498.2 103.8h.01M501.2 113.2h.01M501.3 110.7h.01M499.4 101.8h.01M498.6 122.2h.01M499.1 86.0h.01M496.5 119.5h.01M498.4 87.4h.01M498.9 133.6h.01M501.0 94.0h.01M499.4 115.0h.01M501.1 106.0h.01M499.8 116.0h.01M500.9 123.9h.01M500.0 81.3h.01M500.6 92.9h.01M500.0 125.1h.01M497.5 64.0h.01M498.2 59.8h.01M497.3 53.2h.01M499.9 142.0h.01M500.5 33.0h.01M498.9 51.9h.01M498.2 141.8h.01M514.5 73.9h.01M517.9 97.0h.01M516.8 98.9h.01M515.1 111.8h.01M514.9 91.2h.01M516.3 105.6h.01M518.3 94.8h.01M516.1 109.2h.01M515.9 87.5h.01M516.5 98.7h.01M514.2 114.6h.01M514.1 92.8h.01M514.8 117.0h.01M513.8 104.5h.01M516.9 86.4h.01M515.9 104.7h.01M514.1 76.3h.01M514.9 85.8h.01M517.0 95.8h.01M514.6 101.8h.01M514.6 78.4h.01M515.9 80.8h.01M517.5 92.0h.01M517.8 90.8h.01M517.3 113.1h.01M516.5 77.7h.01M516.5 121.5h.01M517.8 96.0h.01M514.3 106.0h.01M517.1 113.2h.01M517.4 80.9h.01M515.0 101.0h.01M515.9 100.9h.01M515.7 95.1h.01M515.8 117.3h.01M513.8 100.5h.01M516.3 88.0h.01M517.1 92.7h.01M516.7 109.8h.01M515.0 124.2h.01M517.5 84.4h.01M514.9 92.1h.01M516.4 101.4h.01M516.2 89.7h.01M513.9 107.7h.01M517.4 99.3h.01M514.8 85.4h.01M515.7 95.3h.01M516.7 107.7h.01M514.4 93.0h.01M516.3 108.4h.01M517.1 111.0h.01M517.6 82.3h.01M515.1 72.3h.01M514.8 100.9h.01M517.2 94.7h.01M515.4 95.0h.01M517.5 77.7h.01M513.8 78.2h.01M515.3 92.6h.01M514.2 125.4h.01M517.7 125.2h.01M514.3 127.7h.01M516.0 138.4h.01M514.4 131.7h.01M514.9 143.1h.01M514.6 139.7h.01M515.0 68.0h.01M515.2 128.5h.01M515.0 68.1h.01M516.0 137.2h.01M516.5 138.3h.01M517.9 66.6h.01M516.7 66.4h.01M517.0 137.5h.01M526.5 129.4h.01M525.2 126.4h.01M523.2 87.9h.01M525.3 98.1h.01M523.8 71.8h.01M526.3 92.6h.01M522.9 75.9h.01M525.5 83.8h.01M525.8 82.2h.01M522.8 112.0h.01M524.2 96.1h.01M524.7 96.3h.01M524.8 72.0h.01M524.8 89.6h.01M526.2 96.0h.01M523.9 98.1h.01M523.4 97.6h.01M524.6 72.5h.01M525.8 118.6h.01M526.5 71.4h.01M524.9 104.8h.01M526.8 113.6h.01M525.3 116.3h.01M524.0 135.2h.01M524.0 88.5h.01M523.2 125.5h.01M522.2 99.4h.01M526.4 111.7h.01M526.9 93.4h.01M524.3 121.3h.01M525.0 71.4h.01M523.2 97.6h.01M526.1 109.5h.01M527.0 113.9h.01M524.1 94.3h.01M525.2 108.5h.01M524.7 81.8h.01M524.0 126.9h.01M524.8 124.4h.01M522.8 114.8h.01M525.9 80.6h.01M525.1 122.0h.01M527.3 112.7h.01M527.2 76.3h.01M525.5 136.5h.01M525.3 127.7h.01M522.7 111.1h.01M526.4 96.8h.01M523.5 75.5h.01M525.1 106.6h.01M526.5 90.8h.01M526.4 98.6h.01M523.2 122.5h.01M525.4 87.5h.01M524.5 114.4h.01M523.0 117.0h.01M527.2 119.5h.01M526.7 77.7h.01M525.7 111.2h.01M526.3 99.2h.01M526.8 99.4h.01M524.6 71.4h.01M524.5 88.7h.01M526.2 85.5h.01M527.5 111.9h.01M523.9 70.4h.01M526.3 70.3h.01M523.1 89.3h.01M522.7 81.9h.01M527.1 110.0h.01M523.2 65.3h.01M524.7 104.1h.01M527.5 74.9h.01M524.6 104.6h.01M525.6 106.0h.01M526.8 106.9h.01M526.2 86.4h.01M525.2 132.2h.01M524.5 112.5h.01M525.9 119.3h.01M525.2 114.9h.01M524.9 85.4h.01M524.1 79.0h.01M524.2 91.1h.01M525.9 123.8h.01M525.2 82.0h.01M526.9 99.8h.01M525.2 87.1h.01M525.7 119.5h.01M525.7 131.7h.01M527.1 102.9h.01M525.9 101.6h.01M527.0 66.1h.01M524.6 128.3h.01M524.7 91.2h.01M523.7 130.2h.01M523.8 122.5h.01M527.3 95.5h.01M526.4 119.2h.01M523.4 147.9h.01M525.9 128.8h.01M523.0 77.3h.01M524.8 83.4h.01M524.6 115.8h.01M523.7 104.3h.01M526.6 96.0h.01M523.4 81.9h.01M524.6 103.6h.01M524.7 110.8h.01M524.3 87.0h.01M523.2 57.1h.01M525.9 60.6h.01M526.7 61.7h.01M524.0 61.5h.01M524.8 53.0h.01M526.6 51.1h.01M527.3 63.6h.01M524.2 27.4h.01M526.5 26.6h.01M522.9 136.6h.01M524.6 47.2h.01M525.3 59.0h.01M532.0 110.8h.01M532.8 121.4h.01M536.1 78.4h.01M536.2 111.2h.01M533.4 104.8h.01M533.1 104.0h.01M535.0 92.6h.01M534.0 82.1h.01M533.2 61.7h.01M534.9 113.2h.01M532.4 59.6h.01M533.2 127.7h.01M531.8 80.2h.01M533.7 76.1h.01M536.7 96.4h.01M536.2 105.4h.01M532.9 117.3h.01M534.0 89.8h.01M535.5 114.3h.01M533.8 109.6h.01M534.9 88.6h.01M534.5 119.6h.01M532.6 108.5h.01M531.4 123.0h.01M531.7 121.7h.01M532.4 70.3h.01M534.1 78.5h.01M533.3 95.6h.01M533.8 97.2h.01M536.0 121.4h.01M533.7 96.8h.01M533.9 123.2h.01M532.2 111.5h.01M531.6 95.4h.01M531.8 134.4h.01M532.8 103.8h.01M531.4 102.7h.01M533.8 77.6h.01M532.1 101.6h.01M531.8 95.8h.01M533.0 121.4h.01M534.3 141.0h.01M531.9 74.0h.01M536.4 137.8h.01M533.0 91.7h.01M532.7 123.6h.01M532.4 112.3h.01M531.9 96.6h.01M535.4 132.7h.01M532.3 122.9h.01M534.7 107.1h.01M533.6 131.0h.01M536.6 124.0h.01M535.7 117.5h.01M533.6 79.5h.01M533.4 118.7h.01M532.8 128.9h.01M532.9 88.4h.01M532.2 87.1h.01M534.3 119.5h.01M533.2 143.4h.01M533.2 114.0h.01M531.8 94.8h.01M536.1 82.0h.01M534.7 113.0h.01M534.7 152.4h.01M535.2 153.1h.01M532.3 158.5h.01M531.7 58.5h.01M531.6 152.2h.01M534.1 58.1h.01M531.5 50.0h.01M536.0 55.9h.01M536.0 155.5h.01M534.1 153.9h.01M536.2 56.2h.01M532.0 59.4h.01M535.3 57.7h.01M533.5 152.4h.01" fill="none" stroke="#1f77b4" stroke-width="2.0" stroke-linecap="round" clip-path="url(#cb)"/>
<path d="M338.2 251.7h.01M339.5 250.9h.01M341.3 252.3h.01M345.2 251.9h.01M341.5 250.8h.01M343.5 252.9h.01M339.4 252.3h.01M340.5 251.4h.01M339.1 252.3h.01M337.2 252.0h.01M335.5 252.6h.01M344.4 251.0h.01M342.2 251.4h.01M345.1 251.8h.01M340.8 251.9h.01M343.3 251.8h.01M338.8 259.7h.01M340.6 258.5h.01M339.9 260.3h.01M340.5 258.4h.01M340.5 258.9h.01M343.7 258.2h.01M340.2 258.8h.01M341.8 258.3h.01M342.7 259.0h.01M342.2 258.8h.01M335.7 259.9h.01M343.0 258.8h.01M339.9 258.5h.01M343.7 259.0h.01M342.8 260.3h.01M338.5 259.6h.01M373.7 251.6h.01M373.7 250.4h.01M371.6 250.6h.01M374.1 249.5h.01M371.3 248.4h.01M369.9 249.7h.01M370.6 252.4h.01M371.2 251.7h.01M371.3 250.1h.01M371.0 249.8h.01M375.5 248.8h.01M374.8 251.1h.01M370.2 248.4h.01M375.1 254.2h.01M372.9 252.8h.01M376.3 252.1h.01M373.0 253.1h.01M374.7 246.6h.01M369.5 252.0h.01M375.0 246.4h.01M371.0 252.8h.01M371.5 252.2h.01M371.6 249.6h.01M371.9 248.1h.01M371.8 251.8h.01M375.3 251.2h.01M373.4 250.6h.01M373.9 247.8h.01M375.0 248.6h.01M371.2 250.4h.01M372.8 256.7h.01M374.8 260.4h.01M372.1 256.8h.01M375.7 259.7h.01M371.5 258.7h.01M370.3 258.9h.01M370.1 257.8h.01M373.3 260.7h.01M371.4 257.7h.01M375.3 258.7h.01M375.1 259.7h.01M373.8 259.7h.01M376.1 258.3h.01M374.2 259.1h.01M373.1 259.2h.01M370.7 258.3h.01M375.5 261.6h.01M370.6 260.2h.01M371.7 257.5h.01M371.5 260.8h.01M373.1 258.8h.01M372.1 257.9h.01M370.5 261.4h.01M372.5 261.4h.01M371.2 260.5h.01M374.1 262.9h.01M370.2 260.7h.01M374.8 258.2h.01M373.0 261.2h.01M373.6 260.3h.01M396.0 252.7h.01M396.5 257.5h.01M395.4 249.0h.01M398.0 253.8h.01M394.7 258.4h.01M393.5 250.5h.01M396.9 256.8h.01M398.0 255.6h.01M398.3 254.2h.01M398.8 257.6h.01M397.2 257.4h.01M394.0 252.5h.01M396.2 248.6h.01M398.8 250.5h.01M399.1 250.3h.01M394.9 250.8h.01M396.9 254.1h.01M394.9 254.4h.01M398.5 252.4h.01M396.0 259.2h.01M398.9 256.4h.01M396.5 255.2h.01M398.5 252.0h.01M396.6 252.8h.01M394.0 251.5h.01M395.7 249.1h.01M395.6 256.3h.01M394.4 259.7h.01M396.8 254.0h.01M397.1 252.9h.01M395.3 252.3h.01M397.0 253.3h.01M397.9 259.7h.01M394.4 250.8h.01M396.5 251.7h.01M398.0 257.0h.01M394.6 254.6h.01M394.7 251.1h.01M398.3 254.7h.01M398.1 252.3h.01M393.7 251.9h.01M397.9 248.1h.01M396.7 256.7h.01M394.7 253.4h.01M395.5 252.5h.01M396.4 251.1h.01M398.9 257.2h.01M399.2 256.2h.01M394.6 254.9h.01M394.8 254.4h.01M394.1 259.5h.01M395.5 255.9h.01M397.0 260.0h.01M396.0 254.3h.01M396.3 252.7h.01M396.8 258.1h.01M397.1 261.2h.01M397.0 252.1h.01M397.4 249.0h.01M396.1 251.7h.01M396.1 266.9h.01M397.2 265.4h.01M395.9 264.1h.01M413.2 259.1h.01M413.8 266.8h.01M414.5 250.7h.01M412.1 258.2h.01M413.4 259.8h.01M414.7 254.6h.01M412.5 252.4h.01M414.9 258.9h.01M413.0 250.2h.01M414.3 247.3h.01M414.1 248.6h.01M411.7 260.7h.01M413.8 256.4h.01M414.7 247.4h.01M413.3 257.9h.01M415.2 250.5h.01M413.2 254.3h.01M415.5 265.6h.01M411.3 252.0h.01M412.3 252.7h.01M413.7 246.1h.01M414.0 255.9h.01M412.2 261.3h.01M412.4 266.5h.01M411.7 266.0h.01M412.6 248.6h.01M415.5 256.8h.01M415.5 258.7h.01M412.4 242.8h.01M412.1 258.3h.01M412.6 248.1h.01M412.1 243.7h.01M411.2 258.9h.01M412.2 252.4h.01M412.6 260.5h.01M415.0 256.2h.01M413.9 256.7h.01M414.8 260.2h.01M413.3 256.4h.01M414.4 250.4h.01M415.1 261.4h.01M415.4 253.5h.01M412.3 266.0h.01M413.1 251.7h.01M413.4 248.2h.01M415.1 254.2h.01M414.8 253.6h.01M413.1 251.5h.01M412.3 249.8h.01M412.3 250.8h.01M413.8 257.3h.01M415.9 249.6h.01M412.1 248.6h.01M413.4 248.8h.01M414.7 253.6h.01M412.1 265.2h.01M412.0 258.4h.01M415.2 263.4h.01M415.5 261.2h.01M414.8 255.9h.01M412.0 269.1h.01M415.3 269.6h.01M412.9 266.2h.01M431.1 247.1h.01M432.5 245.8h.01M427.4 249.2h.01M430.7 263.0h.01M431.0 244.7h.01M428.0 252.5h.01M428.0 250.3h.01M432.1 251.7h.01M431.1 253.5h.01M428.5 248.6h.01M428.2 248.9h.01M432.2 258.5h.01M430.2 257.1h.01M428.7 249.3h.01M427.9 248.7h.01M431.3 258.4h.01M432.3 245.7h.01M431.9 249.3h.01M431.0 261.4h.01M431.8 251.5h.01M428.1 254.2h.01M427.4 248.1h.01M429.6 259.8h.01M428.5 249.3h.01M429.9 255.4h.01M432.3 254.2h.01M427.3 254.6h.01M429.0 249.6h.01M428.0 256.4h.01M432.3 254.0h.01M427.9 247.9h.01M428.4 250.7h.01M428.9 246.2h.01M431.2 257.4h.01M429.9 253.3h.01M431.9 247.8h.01M428.2 256.5h.01M430.2 253.2h.01M431.9 260.3h.01M429.3 249.7h.01M429.7 258.1h.01M430.5 252.2h.01M428.4 260.1h.01M428.0 250.5h.01M432.1 248.1h.01M432.3 258.0h.01M429.6 252.1h.01M428.6 251.5h.01M428.5 260.1h.01M428.1 258.5h.01M429.4 250.1h.01M428.6 244.0h.01M430.1 252.6h.01M428.7 256.9h.01M431.1 261.5h.01M431.0 260.1h.01M430.5 248.8h.01M430.3 260.9h.01M431.3 250.8h.01M430.1 249.5h.01M427.8 259.5h.01M431.5 255.5h.01M431.4 244.8h.01M427.1 254.3h.01M428.6 259.7h.01M430.0 249.1h.01M428.2 245.3h.01M428.9 257.3h.01M430.9 254.2h.01M431.8 259.1h.01M429.5 260.2h.01M430.9 257.8h.01M431.3 251.6h.01M428.1 254.6h.01M431.9 265.5h.01M431.8 251.9h.01M427.9 245.0h.01M428.3 248.5h.01M431.3 255.4h.01M428.7 246.9h.01M427.4 261.4h.01M427.8 249.9h.01M431.1 247.7h.01M430.9 253.1h.01M431.6 252.1h.01M428.0 255.4h.01M429.0 249.3h.01M431.7 257.1h.01M428.7 258.1h.01M432.0 253.6h.01M427.9 262.3h.01M427.8 250.2h.01M431.1 251.3h.01M431.8 248.5h.01M430.4 252.1h.01M429.0 255.3h.01M431.9 258.5h.01M428.2 255.2h.01M432.0 253.7h.01M431.0 251.3h.01M427.2 246.0h.01M428.1 246.8h.01M430.4 253.8h.01M429.6 253.1h.01M430.9 256.0h.01M427.9 254.3h.01M427.6 257.6h.01M428.5 259.3h.01M428.9 258.9h.01M429.0 252.9h.01M431.6 265.9h.01M432.7 263.7h.01M432.2 265.7h.01M430.4 263.9h.01M429.6 241.9h.01M427.7 263.4h.01M444.6 258.7h.01M445.2 253.6h.01M445.9 256.1h.01M446.9 254.0h.01M443.8 255.5h.01M447.0 256.5h.01M442.3 258.0h.01M445.5 260.4h.01M443.2 250.1h.01M445.4 248.6h.01M443.2 257.3h.01M445.6 259.4h.01M446.3 251.7h.01M446.5 245.2h.01M443.8 251.9h.01M442.9 252.1h.01M443.3 261.9h.01M443.0 256.1h.01M444.1 262.4h.01M444.8 260.2h.01M446.2 249.5h.01M445.8 250.2h.01M443.7 251.4h.01M443.7 263.7h.01M443.7 250.4h.01M447.0 258.9h.01M442.7 249.3h.01M445.4 255.9h.01M442.6 261.0h.01M442.0 259.3h.01M444.2 252.5h.01M443.5 257.6h.01M443.1 250.4h.01M443.5 259.8h.01M446.7 244.9h.01M445.8 256.1h.01M445.3 261.6h.01M445.5 253.2h.01M444.4 252.6h.01M445.9 247.9h.01M444.5 251.5h.01M443.7 258.5h.01M443.3 255.9h.01M445.2 253.4h.01M445.1 257.9h.01M444.6 253.6h.01M443.3 257.2h.01M445.4 250.3h.01M446.6 252.7h.01M445.8 249.8h.01M444.6 251.8h.01M444.2 261.4h.01M444.1 253.4h.01M442.5 253.5h.01M446.0 256.6h.01M443.1 257.4h.01M446.5 256.3h.01M444.7 255.5h.01M443.0 248.5h.01M444.0 251.1h.01M444.8 259.1h.01M444.4 256.5h.01M443.6 247.6h.01M445.9 257.2h.01M443.2 244.4h.01M444.2 251.6h.01M445.8 256.9h.01M446.5 255.6h.01M442.3 249.4h.01M445.8 257.9h.01M443.4 264.0h.01M445.5 247.9h.01M444.8 259.5h.01M446.5 259.1h.01M444.4 250.6h.01M444.4 259.6h.01M445.2 249.7h.01M443.5 257.6h.01M442.5 253.4h.01M443.8 256.8h.01M446.4 259.0h.01M443.3 254.4h.01M443.8 253.2h.01M444.3 258.9h.01M446.0 264.0h.01M444.8 262.7h.01M445.6 259.4h.01M444.3 249.7h.01M444.6 249.3h.01M446.2 261.0h.01M443.1 243.2h.01M444.3 264.6h.01M442.5 267.5h.01M444.1 265.5h.01M443.5 243.6h.01M446.8 264.3h.01M455.9 249.2h.01M458.7 259.4h.01M454.9 250.7h.01M459.0 249.6h.01M454.7 254.8h.01M455.7 250.4h.01M459.4 245.3h.01M458.0 257.9h.01M455.4 248.2h.01M458.7 245.5h.01M457.1 253.3h.01M454.5 263.4h.01M456.0 260.5h.01M457.1 259.5h.01M456.9 258.3h.01M457.6 250.3h.01M456.0 249.0h.01M455.4 247.3h.01M456.1 244.5h.01M458.7 258.4h.01M454.9 251.8h.01M455.4 248.2h.01M457.6 246.2h.01M455.7 258.8h.01M458.4 262.3h.01M455.4 258.9h.01M457.8 248.8h.01M456.4 248.3h.01M456.1 246.3h.01M456.4 258.4h.01M455.8 247.1h.01M458.3 260.3h.01M458.5 258.1h.01M458.5 249.3h.01M456.1 244.9h.01M457.1 244.2h.01M455.5 246.8h.01M458.8 253.7h.01M459.3 262.2h.01M456.1 254.4h.01M456.6 260.3h.01M459.6 251.7h.01M458.5 247.2h.01M455.2 254.4h.01M455.3 254.6h.01M456.8 247.4h.01M455.7 242.8h.01M456.7 250.6h.01M459.6 257.1h.01M458.1 240.9h.01M455.9 258.2h.01M457.8 250.0h.01M455.2 263.6h.01M454.5 251.9h.01M456.6 260.8h.01M457.3 256.1h.01M457.3 245.9h.01M456.1 250.4h.01M458.6 263.2h.01M456.7 249.5h.01M459.4 248.3h.01M458.5 254.2h.01M456.8 257.7h.01M458.9 258.1h.01M456.4 255.0h.01M454.7 245.0h.01M455.0 250.6h.01M459.3 246.1h.01M455.7 249.0h.01M459.8 245.3h.01M455.5 247.8h.01M454.8 259.8h.01M456.4 264.2h.01M455.0 252.7h.01M459.1 245.2h.01M455.0 242.0h.01M455.1 258.7h.01M457.4 255.5h.01M457.5 261.4h.01M458.0 263.3h.01M455.8 253.3h.01M457.5 246.3h.01M459.7 249.5h.01M458.2 253.5h.01M456.3 252.0h.01M456.6 252.1h.01M456.9 246.3h.01M459.3 247.3h.01M457.2 245.3h.01M456.8 250.7h.01M458.3 257.3h.01M457.3 256.6h.01M458.4 251.2h.01M455.6 256.1h.01M457.7 240.7h.01M456.5 250.3h.01M455.5 252.8h.01M456.1 252.5h.01M458.2 256.4h.01M455.2 254.8h.01M455.7 242.1h.01M458.1 261.2h.01M457.3 250.4h.01M454.7 261.4h.01M454.3 256.3h.01M457.7 246.1h.01M454.4 253.8h.01M458.2 262.1h.01M454.6 253.1h.01M457.9 250.4h.01M454.9 269.3h.01M458.5 272.9h.01M459.5 269.5h.01M456.8 239.2h.01M454.8 273.0h.01M455.9 264.3h.01M455.9 270.3h.01M458.4 265.6h.01M466.6 253.4h.01M468.6 250.1h.01M468.0 261.5h.01M468.6 261.8h.01M469.8 249.9h.01M467.0 248.8h.01M466.3 257.7h.01M469.7 248.4h.01M468.7 254.5h.01M467.7 260.4h.01M469.7 255.5h.01M470.0 248.3h.01M470.9 249.2h.01M469.2 249.6h.01M467.9 252.4h.01M467.2 262.5h.01M469.2 254.1h.01M469.5 253.7h.01M469.8 251.9h.01M469.2 252.5h.01M467.2 254.5h.01M470.1 249.6h.01M469.8 253.2h.01M468.9 257.8h.01M469.4 263.6h.01M470.2 261.3h.01M467.4 248.9h.01M470.2 260.6h.01M468.5 249.5h.01M466.9 260.0h.01M469.5 254.4h.01M467.7 260.4h.01M469.8 253.8h.01M467.3 262.2h.01M469.4 251.3h.01M469.1 252.0h.01M466.3 253.0h.01M468.6 248.7h.01M467.7 255.2h.01M468.8 260.2h.01M467.1 248.0h.01M468.9 255.8h.01M467.9 255.2h.01M468.1 254.4h.01M469.5 252.0h.01M467.1 247.4h.01M468.4 248.5h.01M469.1 261.6h.01M469.2 257.6h.01M467.0 252.0h.01M467.2 253.1h.01M468.8 263.7h.01M470.3 263.7h.01M468.5 260.9h.01M466.0 247.1h.01M466.7 259.6h.01M467.8 259.3h.01M467.5 252.1h.01M470.2 249.4h.01M466.9 263.6h.01M468.5 248.2h.01M468.0 258.5h.01M467.0 261.6h.01M466.8 248.1h.01M469.5 263.1h.01M466.7 246.2h.01M469.8 256.6h.01M469.8 262.4h.01M469.6 252.1h.01M468.0 260.4h.01M466.4 262.2h.01M469.0 243.1h.01M467.8 247.0h.01M467.4 261.4h.01M470.6 259.9h.01M469.2 254.2h.01M467.9 258.0h.01M466.9 248.4h.01M468.5 251.7h.01M468.3 255.9h.01M468.2 266.8h.01M468.7 271.0h.01M470.4 268.1h.01M466.5 267.2h.01M466.9 265.7h.01M480.0 255.4h.01M481.1 243.1h.01M480.0 260.2h.01M481.8 263.1h.01M481.0 258.5h.01M480.2 259.5h.01M478.6 260.5h.01M480.5 262.0h.01M479.4 255.3h.01M480.0 263.2h.01M478.7 260.7h.01M482.7 244.6h.01M480.9 258.9h.01M479.6 261.4h.01M481.1 252.2h.01M479.2 258.4h.01M480.8 243.0h.01M481.6 249.2h.01M480.7 244.7h.01M482.4 263.5h.01M481.8 243.3h.01M480.0 260.0h.01M479.5 247.5h.01M478.4 254.0h.01M480.9 261.6h.01M481.9 244.8h.01M481.9 259.9h.01M482.3 257.1h.01M480.7 251.1h.01M480.7 247.1h.01M481.9 249.5h.01M479.2 255.9h.01M481.2 252.6h.01M480.5 255.4h.01M481.5 244.5h.01M481.8 251.4h.01M481.8 252.4h.01M480.4 248.7h.01M481.2 259.9h.01M480.1 247.8h.01M482.3 249.0h.01M481.3 258.1h.01M482.4 256.0h.01M481.6 253.9h.01M482.2 256.5h.01M481.5 241.4h.01M479.1 249.2h.01M480.8 246.5h.01M479.0 257.5h.01M478.7 242.5h.01M482.4 251.5h.01M482.4 258.3h.01M478.4 251.2h.01M478.4 260.3h.01M478.3 244.0h.01M482.1 258.7h.01M479.0 264.1h.01M482.4 256.1h.01M480.8 264.4h.01M481.5 255.0h.01M480.1 246.9h.01M480.5 243.2h.01M482.1 257.2h.01M480.8 259.1h.01M479.8 254.0h.01M481.6 247.8h.01M478.7 259.6h.01M481.6 250.5h.01M481.5 248.5h.01M479.4 246.9h.01M479.8 247.1h.01M478.6 251.7h.01M481.8 263.6h.01M480.9 252.6h.01M481.2 258.7h.01M481.3 246.9h.01M482.2 258.5h.01M480.8 244.6h.01M481.6 247.2h.01M479.9 248.9h.01M482.2 258.6h.01M481.0 264.8h.01M479.8 242.6h.01M479.0 246.5h.01M480.0 252.5h.01M480.9 250.0h.01M478.6 251.9h.01M477.8 246.3h.01M482.4 257.7h.01M478.8 247.1h.01M479.7 245.8h.01M480.8 249.6h.01M479.4 254.9h.01M480.5 259.9h.01M479.6 250.1h.01M480.3 256.5h.01M482.3 249.2h.01M482.0 244.6h.01M480.6 250.2h.01M481.5 250.2h.01M481.8 241.8h.01M480.1 256.9h.01M479.8 252.5h.01M480.0 250.2h.01M481.5 254.1h.01M481.2 242.6h.01M479.0 251.1h.01M481.0 256.3h.01M478.8 262.8h.01M479.4 250.7h.01M481.6 248.9h.01M481.1 257.9h.01M482.0 256.4h.01M478.6 258.0h.01M480.9 257.5h.01M478.7 248.2h.01M482.8 259.5h.01M479.4 251.4h.01M481.3 249.6h.01M478.7 245.6h.01M478.5 240.6h.01M479.9 238.3h.01M481.2 239.4h.01M478.8 269.2h.01M479.4 271.5h.01M479.6 269.4h.01M481.9 238.0h.01M481.7 266.9h.01M491.0 253.2h.01M492.8 238.9h.01M491.4 262.9h.01M490.7 254.0h.01M490.0 254.8h.01M489.5 248.2h.01M489.0 250.9h.01M492.8 244.0h.01M492.1 244.4h.01M490.1 259.0h.01M491.8 247.9h.01M491.1 256.9h.01M489.3 248.1h.01M491.7 263.5h.01M489.2 261.0h.01M491.6 239.3h.01M491.6 242.3h.01M492.8 258.7h.01M490.9 245.5h.01M489.4 247.6h.01M492.8 242.5h.01M491.8 248.1h.01M490.0 244.1h.01M491.7 258.2h.01M490.3 264.4h.01M488.7 255.8h.01M492.7 256.5h.01M489.2 247.1h.01M489.3 252.3h.01M490.1 265.1h.01M488.5 238.9h.01M488.8 258.2h.01M491.4 244.2h.01M490.6 258.7h.01M490.9 244.5h.01M492.3 252.0h.01M492.3 254.1h.01M492.3 261.3h.01M492.1 244.7h.01M488.8 259.6h.01M491.3 244.4h.01M492.1 248.8h.01M489.6 256.8h.01M488.5 235.2h.01M491.3 255.2h.01M489.5 255.8h.01M489.9 255.8h.01M490.4 246.1h.01M490.1 245.3h.01M490.7 255.5h.01M488.6 249.3h.01M491.0 242.1h.01M491.9 252.5h.01M488.6 240.6h.01M489.4 247.2h.01M492.1 246.9h.01M490.0 247.7h.01M490.8 259.5h.01M488.3 258.6h.01M490.7 250.5h.01M491.1 242.9h.01M489.8 253.9h.01M491.0 245.5h.01M489.0 244.7h.01M492.8 249.8h.01M489.5 244.2h.01M490.4 260.3h.01M492.7 248.2h.01M491.0 244.7h.01M488.7 250.2h.01M489.6 254.4h.01M490.9 260.4h.01M490.3 254.1h.01M490.2 252.5h.01M489.7 251.9h.01M492.3 245.4h.01M490.4 242.5h.01M492.4 256.4h.01M490.1 241.4h.01M489.5 251.5h.01M490.9 245.4h.01M491.1 244.9h.01M491.3 256.4h.01M490.0 244.2h.01M491.8 247.9h.01M491.9 243.7h.01M490.2 244.4h.01M491.6 253.2h.01M490.4 253.7h.01M489.3 251.8h.01M488.2 248.9h.01M489.5 262.8h.01M490.8 251.1h.01M492.2 249.7h.01M489.5 259.0h.01M491.7 238.2h.01M488.6 245.8h.01M490.4 259.7h.01M491.1 257.3h.01M489.3 262.2h.01M490.9 255.1h.01M491.4 248.8h.01M490.6 247.9h.01M492.3 252.9h.01M488.9 237.5h.01M491.5 249.8h.01M491.6 249.1h.01M491.5 262.3h.01M491.5 253.6h.01M490.9 248.9h.01M490.9 247.2h.01M489.7 241.0h.01M489.2 242.0h.01M490.4 244.5h.01M490.9 238.4h.01M492.2 242.0h.01M492.9 239.0h.01M489.5 258.6h.01M490.9 248.2h.01M489.6 262.6h.01M490.2 269.3h.01M490.5 269.2h.01M491.6 231.4h.01M490.3 269.7h.01M489.8 273.0h.01M491.1 266.4h.01M490.6 274.8h.01M491.7 274.3h.01M491.3 274.2h.01M488.5 233.0h.01M499.8 261.8h.01M499.2 238.4h.01M500.3 235.4h.01M498.5 241.8h.01M499.6 262.5h.01M499.7 254.3h.01M499.6 242.9h.01M500.1 247.0h.01M500.8 263.9h.01M501.2 254.9h.01M498.9 260.1h.01M497.8 250.9h.01M499.2 235.8h.01M501.7 261.6h.01M500.5 254.7h.01M502.7 258.1h.01M499.2 263.5h.01M500.5 258.1h.01M499.9 245.8h.01M501.3 248.2h.01M501.8 262.0h.01M502.4 261.5h.01M500.0 260.4h.01M499.3 242.9h.01M499.4 242.2h.01M501.4 259.9h.01M498.8 248.5h.01M500.8 230.3h.01M498.8 255.8h.01M500.4 245.3h.01M501.8 245.4h.01M502.4 256.2h.01M502.7 264.3h.01M500.7 250.5h.01M499.1 237.6h.01M499.2 263.7h.01M502.5 254.0h.01M502.5 257.9h.01M498.5 254.4h.01M501.0 243.1h.01M501.3 236.3h.01M498.6 251.5h.01M497.7 257.7h.01M500.9 258.1h.01M498.5 240.3h.01M500.8 244.8h.01M501.4 242.3h.01M502.6 245.5h.01M499.0 256.5h.01M499.6 252.2h.01M500.9 249.7h.01M498.9 248.7h.01M500.3 254.7h.01M498.2 260.5h.01M502.0 240.1h.01M499.7 249.3h.01M500.9 232.4h.01M500.3 265.2h.01M502.1 248.1h.01M500.3 261.0h.01M499.1 257.5h.01M501.9 255.8h.01M500.0 259.0h.01M498.9 239.7h.01M498.3 258.6h.01M498.8 242.3h.01M497.8 246.7h.01M503.3 263.2h.01M502.8 252.6h.01M501.9 247.6h.01M499.0 254.6h.01M501.3 263.8h.01M503.1 271.1h.01M502.9 263.4h.01M500.3 256.8h.01M497.4 246.0h.01M498.4 247.5h.01M501.0 237.5h.01M500.9 258.1h.01M503.3 251.8h.01M503.0 251.7h.01M498.7 239.0h.01M501.6 243.6h.01M502.4 239.4h.01M500.3 252.4h.01M502.5 246.7h.01M502.3 254.9h.01M499.1 240.2h.01M503.4 260.5h.01M502.0 266.4h.01M502.8 251.9h.01M499.1 250.5h.01M503.0 242.8h.01M500.4 237.2h.01M501.0 241.2h.01M500.9 256.8h.01M501.2 260.6h.01M498.3 262.4h.01M498.0 257.0h.01M498.3 254.5h.01M498.7 241.4h.01M499.0 235.9h.01M498.3 252.4h.01M499.1 262.3h.01M502.2 250.9h.01M502.1 256.4h.01M502.3 258.3h.01M501.2 236.8h.01M502.1 252.8h.01M499.4 264.8h.01M497.8 238.3h.01M498.6 262.0h.01M501.0 258.8h.01M502.3 245.2h.01M498.3 259.9h.01M502.7 254.5h.01M500.6 248.0h.01M498.9 259.6h.01M501.9 262.2h.01M501.9 244.4h.01M498.5 239.3h.01M498.6 253.7h.01M499.2 245.6h.01M500.4 257.3h.01M498.0 239.3h.01M502.1 255.7h.01M501.1 255.7h.01M500.7 256.8h.01M501.0 252.5h.01M499.8 251.0h.01M502.7 243.8h.01M498.2 238.4h.01M499.4 241.3h.01M499.8 254.0h.01M502.0 245.2h.01M498.6 255.1h.01M501.6 230.4h.01M500.9 259.3h.01M500.0 256.3h.01M499.6 246.0h.01M498.6 287.9h.01M499.5 233.0h.01M500.3 272.7h.01M502.4 269.3h.01M500.8 284.3h.01M502.1 230.1h.01M501.6 275.6h.01M501.9 270.4h.01M501.2 232.3h.01M502.6 289.5h.01M501.2 276.0h.01M503.1 283.6h.01M502.4 230.8h.01M497.9 269.8h.01M511.4 242.7h.01M510.1 269.9h.01M510.3 247.1h.01M508.7 268.1h.01M508.3 261.2h.01M510.1 242.9h.01M510.6 274.6h.01M510.6 264.8h.01M511.1 253.3h.01M510.2 244.6h.01M509.3 255.7h.01M510.1 252.5h.01M508.4 258.7h.01M509.6 239.1h.01M508.1 249.8h.01M511.3 246.9h.01M511.1 242.8h.01M508.4 259.1h.01M508.8 271.5h.01M508.8 267.8h.01M510.6 244.4h.01M510.0 249.6h.01M510.7 262.1h.01M509.9 251.7h.01M508.5 260.6h.01M508.2 278.7h.01M510.6 247.8h.01M510.7 257.1h.01M511.2 239.8h.01M509.1 263.1h.01M508.2 272.8h.01M510.7 232.4h.01M507.6 255.3h.01M511.4 243.7h.01M510.7 269.2h.01M509.0 265.0h.01M508.0 240.1h.01M508.5 244.3h.01M511.2 260.7h.01M510.6 252.5h.01M509.1 266.8h.01M511.6 269.3h.01M510.9 254.4h.01M509.3 254.6h.01M509.4 256.6h.01M509.8 256.7h.01M511.3 259.4h.01M508.1 266.1h.01M508.5 260.5h.01M508.9 261.1h.01M509.8 250.0h.01M510.4 235.5h.01M508.3 270.9h.01M509.3 268.5h.01M508.5 252.3h.01M509.6 250.5h.01M510.2 259.7h.01M510.4 245.5h.01M510.8 238.8h.01M510.4 231.7h.01M508.2 217.9h.01M507.8 221.7h.01M511.2 281.9h.01M509.8 218.5h.01M507.8 231.8h.01M511.6 212.0h.01M518.2 249.8h.01M517.9 262.0h.01M517.2 267.6h.01M519.9 252.0h.01M518.3 265.1h.01M517.4 252.0h.01M517.0 253.7h.01M518.1 252.0h.01M518.0 261.5h.01M520.0 246.6h.01M518.2 248.0h.01M517.7 248.5h.01M516.5 253.2h.01M518.0 264.7h.01M519.6 262.1h.01M518.5 259.5h.01M516.4 257.7h.01M520.3 246.3h.01M517.2 245.0h.01M517.2 250.5h.01M516.8 260.7h.01M516.7 256.5h.01M520.0 247.9h.01M519.2 254.5h.01M518.9 256.0h.01M520.2 251.7h.01M520.6 261.8h.01M519.3 247.1h.01M517.7 250.4h.01M517.3 254.2h.01M518.8 259.7h.01M518.6 250.9h.01M518.7 245.5h.01M520.5 241.9h.01M517.3 266.6h.01M520.2 253.3h.01M519.2 268.1h.01M518.7 259.0h.01M518.6 248.3h.01M517.5 248.6h.01M517.3 258.3h.01M516.6 254.0h.01M520.5 256.1h.01M517.8 246.8h.01M520.5 254.5h.01M516.8 255.5h.01M517.9 247.9h.01M520.1 254.1h.01M519.6 262.5h.01M518.6 254.5h.01M516.9 247.5h.01M517.5 248.0h.01M519.7 248.2h.01M518.5 247.0h.01M520.8 249.2h.01M518.9 266.3h.01M517.1 260.5h.01M517.0 255.7h.01M516.9 252.4h.01M516.4 249.8h.01M520.1 250.1h.01M517.1 253.2h.01M517.0 255.9h.01M520.7 251.4h.01M519.5 252.8h.01M517.8 246.5h.01M517.0 254.8h.01M518.1 260.1h.01M518.5 257.5h.01M518.3 250.3h.01M518.1 261.5h.01M519.4 258.9h.01M519.6 258.9h.01M519.6 262.9h.01M519.0 256.8h.01M516.9 247.2h.01M517.3 247.7h.01M519.7 245.5h.01M517.6 247.3h.01M517.6 256.9h.01M520.5 250.3h.01M517.8 260.6h.01M519.0 248.0h.01M518.5 255.5h.01M517.1 254.1h.01M519.6 252.3h.01M520.0 258.0h.01M517.2 251.9h.01M519.3 253.6h.01M516.9 248.6h.01M519.8 252.3h.01M519.5 251.6h.01M520.1 252.5h.01M518.8 253.0h.01M517.8 260.9h.01M520.6 251.7h.01M520.3 261.0h.01M519.4 248.0h.01M519.2 253.2h.01M520.2 253.6h.01M519.6 263.8h.01M520.0 252.1h.01M519.6 248.1h.01M520.2 249.2h.01M517.5 257.9h.01M518.1 247.2h.01M519.4 266.3h.01M518.3 261.1h.01M521.1 250.5h.01M518.1 247.8h.01M517.8 236.3h.01M519.7 276.2h.01M517.7 208.3h.01M520.2 225.2h.01M519.5 268.9h.01M519.9 225.3h.01M518.2 213.4h.01M520.5 283.5h.01M520.2 216.7h.01M518.6 271.2h.01M519.4 273.4h.01M520.1 242.2h.01M518.6 215.4h.01M517.9 282.8h.01M529.5 239.4h.01M527.5 247.9h.01M530.1 241.1h.01M529.5 241.5h.01M529.1 251.7h.01M528.6 243.5h.01M529.4 240.2h.01M526.3 243.1h.01M526.2 258.0h.01M527.5 238.8h.01M527.9 238.1h.01M529.8 244.8h.01M526.6 251.3h.01M529.5 233.1h.01M529.8 255.4h.01M527.6 253.9h.01M529.8 241.1h.01M526.4 234.7h.01M528.7 241.8h.01M528.6 258.7h.01M527.9 249.5h.01M527.1 256.0h.01M530.1 230.8h.01M528.5 249.4h.01M529.7 249.4h.01M527.9 245.5h.01M529.4 234.3h.01M528.0 254.7h.01M527.2 236.4h.01M527.8 247.7h.01M527.7 258.0h.01M527.4 241.4h.01M529.3 239.5h.01M529.9 233.3h.01M528.2 264.2h.01M526.1 262.2h.01M528.0 235.9h.01M528.9 253.5h.01M526.3 253.7h.01M527.2 253.2h.01M527.4 248.6h.01M528.0 246.6h.01M529.4 232.4h.01M528.2 238.4h.01M530.0 249.4h.01M528.1 255.3h.01M526.5 250.0h.01M529.4 237.1h.01M529.4 250.1h.01M526.4 253.9h.01M529.9 230.7h.01M529.6 256.8h.01M525.9 252.7h.01M529.4 243.5h.01M529.1 250.6h.01M527.3 259.3h.01M528.8 254.8h.01M528.0 234.8h.01M527.1 259.8h.01M527.6 247.4h.01M529.7 256.0h.01M527.3 234.0h.01M529.9 249.0h.01M528.7 247.2h.01M529.4 253.3h.01M530.0 239.9h.01M530.6 256.6h.01M526.6 261.9h.01M529.2 254.4h.01M528.2 240.4h.01M528.5 260.1h.01M528.5 241.8h.01M526.8 248.1h.01M527.2 232.1h.01M528.1 241.0h.01M527.4 248.2h.01M527.0 252.8h.01M526.1 231.8h.01M528.8 230.1h.01M527.5 262.4h.01M528.9 237.6h.01M529.2 257.9h.01M526.7 253.5h.01M527.8 239.3h.01M529.0 262.1h.01M528.1 254.6h.01M528.9 230.7h.01M526.9 237.5h.01M528.7 266.0h.01M528.9 251.3h.01M526.3 243.3h.01M528.1 236.3h.01M528.6 255.4h.01M526.7 255.4h.01M528.2 231.7h.01M528.3 238.7h.01M528.0 252.7h.01M526.2 259.7h.01M526.6 244.9h.01M528.3 251.9h.01M527.5 259.3h.01M529.2 231.9h.01M528.0 259.7h.01M528.6 256.3h.01M527.5 236.6h.01M528.8 256.3h.01M529.7 260.7h.01M526.5 245.9h.01M526.7 259.3h.01M528.9 254.3h.01M529.9 260.2h.01M527.9 254.3h.01M527.4 235.8h.01M527.8 250.2h.01M526.2 231.1h.01M528.4 232.7h.01M529.6 264.9h.01M530.4 241.1h.01M526.3 253.0h.01M529.5 238.7h.01M526.2 265.8h.01M528.6 270.7h.01M527.4 225.9h.01M529.1 221.1h.01M530.2 222.6h.01M526.9 267.1h.01M528.1 223.4h.01M526.0 268.0h.01M529.7 269.3h.01M526.6 221.5h.01M536.9 250.1h.01M537.0 256.4h.01M536.2 252.2h.01M537.4 256.9h.01M534.9 257.7h.01M536.8 251.6h.01M534.9 248.6h.01M538.4 259.6h.01M536.2 263.4h.01M536.8 260.0h.01M535.1 261.0h.01M535.4 261.2h.01M535.0 258.1h.01M536.0 250.0h.01M537.5 259.9h.01M538.1 246.5h.01M534.8 258.5h.01M535.4 267.0h.01M534.7 259.4h.01M535.1 257.1h.01M537.1 260.2h.01M535.7 250.3h.01M537.6 264.4h.01M537.3 250.3h.01M536.2 263.2h.01M537.7 246.7h.01M535.7 263.5h.01M538.1 255.7h.01M535.3 262.7h.01M536.4 257.8h.01M536.0 264.2h.01M536.7 255.8h.01M537.1 249.3h.01M536.4 261.1h.01M537.0 247.8h.01M537.1 254.8h.01M536.6 266.8h.01M537.5 265.9h.01M535.2 256.5h.01M535.7 247.5h.01M537.1 270.6h.01M538.0 249.2h.01M535.0 249.8h.01M537.5 253.8h.01M534.8 255.1h.01M537.3 263.9h.01M536.8 263.4h.01M537.1 263.1h.01M535.9 263.1h.01M536.4 248.7h.01M536.2 257.4h.01M536.1 259.4h.01M536.4 249.7h.01M537.9 266.0h.01M536.0 252.2h.01M538.1 245.0h.01M536.2 265.5h.01M535.6 249.4h.01M537.5 257.1h.01M535.7 253.8h.01M535.6 254.6h.01M536.1 251.4h.01M537.1 253.7h.01M535.1 268.8h.01M537.1 248.3h.01M536.9 241.6h.01M537.4 259.2h.01M535.4 262.5h.01M536.6 248.3h.01M535.1 250.9h.01M535.3 263.2h.01M538.2 268.1h.01M537.7 251.1h.01M537.5 269.0h.01M535.7 259.5h.01M534.8 249.4h.01M536.6 260.0h.01M537.3 252.8h.01M535.1 258.6h.01M536.3 251.1h.01M536.2 266.7h.01M536.8 268.0h.01M536.3 261.9h.01M536.0 249.9h.01M537.1 257.9h.01M535.9 269.9h.01M537.7 258.8h.01M535.6 254.1h.01M537.2 261.2h.01M538.1 267.1h.01M534.5 301.0h.01M536.7 291.7h.01M536.6 220.3h.01M537.1 275.5h.01M536.6 284.3h.01M537.5 305.0h.01M536.8 296.2h.01M536.5 273.3h.01M534.8 242.4h.01M536.9 225.4h.01M534.8 234.3h.01M537.6 277.4h.01M534.9 236.3h.01M535.9 288.2h.01M534.8 239.0h.01M534.6 290.0h.01" fill="none" stroke="#1f77b4" stroke-width="2.0" stroke-linecap="round" clip-path="url(#cd)"/>
<path d="M338.7 405.1h.01M336.8 403.4h.01M336.6 404.9h.01M338.1 405.4h.01M338.4 402.9h.01M337.4 402.0h.01M336.5 403.7h.01M339.3 402.5h.01M336.2 404.9h.01M339.5 405.5h.01M337.3 404.1h.01M339.5 403.3h.01M336.5 404.7h.01M336.9 403.3h.01M339.1 404.4h.01M339.0 402.1h.01M339.4 401.9h.01M337.7 404.9h.01M338.7 402.8h.01M336.8 405.5h.01M375.7 404.7h.01M372.9 404.0h.01M373.3 404.4h.01M371.9 403.8h.01M372.0 404.4h.01M372.1 406.9h.01M374.2 404.3h.01M372.3 403.5h.01M373.2 400.8h.01M371.9 405.0h.01M371.1 402.2h.01M370.5 401.4h.01M372.8 403.6h.01M373.2 406.5h.01M371.8 405.9h.01M374.7 405.5h.01M373.3 406.4h.01M373.4 402.7h.01M374.0 404.1h.01M371.4 401.2h.01M371.3 404.8h.01M374.6 402.0h.01M374.7 403.0h.01M375.1 400.6h.01M373.4 403.1h.01M374.7 405.3h.01M373.4 403.8h.01M371.5 401.8h.01M375.7 404.5h.01M370.8 401.1h.01M394.1 404.8h.01M395.8 398.4h.01M394.5 401.3h.01M395.1 406.8h.01M395.7 401.6h.01M396.6 403.5h.01M395.3 399.7h.01M395.1 400.7h.01M396.0 407.5h.01M396.4 401.1h.01M396.4 398.6h.01M398.2 400.1h.01M396.4 405.2h.01M396.4 405.8h.01M394.7 405.7h.01M397.0 400.4h.01M395.5 402.3h.01M397.8 402.4h.01M395.9 406.1h.01M396.2 405.6h.01M394.6 400.0h.01M396.3 404.1h.01M393.4 403.0h.01M397.6 399.6h.01M394.3 400.4h.01M397.0 401.2h.01M395.5 399.9h.01M394.6 403.8h.01M395.3 401.2h.01M395.7 403.4h.01M395.3 407.5h.01M398.1 406.7h.01M395.8 398.1h.01M396.0 402.5h.01M396.4 404.4h.01M413.7 401.5h.01M414.0 404.0h.01M413.4 405.7h.01M414.4 399.1h.01M414.4 401.5h.01M414.2 402.9h.01M412.0 410.1h.01M412.2 408.9h.01M413.8 407.3h.01M414.7 399.9h.01M413.2 399.9h.01M414.6 410.0h.01M413.4 405.9h.01M416.4 406.9h.01M413.4 406.7h.01M412.0 407.0h.01M412.0 407.8h.01M416.3 404.3h.01M415.7 404.8h.01M415.4 400.8h.01M412.7 399.9h.01M413.3 401.3h.01M415.1 403.0h.01M415.3 404.3h.01M413.7 398.8h.01M414.2 403.1h.01M414.5 409.0h.01M415.6 404.2h.01M416.5 400.7h.01M413.4 401.5h.01M415.7 407.8h.01M415.2 405.7h.01M412.7 405.7h.01M415.2 399.3h.01M412.1 403.2h.01M416.0 403.4h.01M415.8 406.8h.01M413.3 400.6h.01M414.6 404.1h.01M414.0 405.6h.01M414.7 406.9h.01M413.8 402.5h.01M413.4 402.8h.01M414.6 399.8h.01M413.9 403.6h.01M432.6 409.5h.01M431.6 396.3h.01M429.4 396.9h.01M432.1 397.1h.01M431.7 394.7h.01M428.3 408.7h.01M432.1 404.6h.01M431.4 408.8h.01M430.8 396.8h.01M430.0 407.4h.01M432.3 401.7h.01M430.7 400.3h.01M432.3 407.1h.01M432.8 400.2h.01M429.6 398.2h.01M430.1 405.9h.01M432.5 404.0h.01M431.7 405.2h.01M429.1 406.0h.01M432.5 399.1h.01M431.4 404.9h.01M429.7 393.9h.01M431.5 405.5h.01M432.3 403.4h.01M431.6 397.4h.01M431.7 400.9h.01M430.0 402.2h.01M433.3 405.8h.01M432.8 399.7h.01M429.4 400.8h.01M429.2 399.0h.01M432.9 408.9h.01M432.6 402.8h.01M431.7 400.4h.01M433.1 410.6h.01M432.6 396.2h.01M432.7 408.7h.01M432.9 394.9h.01M429.5 398.2h.01M430.8 408.6h.01M430.4 401.3h.01M433.2 400.1h.01M431.0 398.9h.01M431.5 404.8h.01M432.6 402.7h.01M431.2 405.2h.01M429.6 398.6h.01M432.9 401.7h.01M430.1 401.7h.01M429.3 406.8h.01M431.0 408.5h.01M431.1 399.5h.01M428.2 405.3h.01M431.9 400.1h.01M433.1 407.0h.01M430.7 404.1h.01M430.9 402.3h.01M430.8 406.0h.01M428.9 393.9h.01M430.5 407.1h.01M431.9 393.8h.01M432.8 411.4h.01M431.6 411.0h.01M445.7 401.6h.01M444.8 400.2h.01M444.2 397.1h.01M444.9 405.2h.01M443.5 398.8h.01M444.3 401.3h.01M443.7 398.4h.01M443.9 400.7h.01M444.3 397.2h.01M444.4 401.8h.01M445.4 402.3h.01M443.9 404.0h.01M446.4 395.9h.01M446.8 400.0h.01M443.4 404.0h.01M444.9 399.8h.01M444.6 405.5h.01M444.5 406.9h.01M444.4 406.3h.01M446.9 404.3h.01M443.5 407.3h.01M443.5 393.2h.01M446.7 405.1h.01M444.1 405.6h.01M446.5 400.5h.01M444.7 402.5h.01M445.7 398.9h.01M444.8 397.4h.01M445.8 394.5h.01M444.5 403.9h.01M445.3 395.7h.01M446.8 401.6h.01M445.5 396.7h.01M444.2 401.1h.01M446.4 400.3h.01M445.9 405.6h.01M445.1 402.2h.01M446.2 398.4h.01M445.7 397.9h.01M446.8 402.2h.01M443.9 392.2h.01M443.8 409.9h.01M446.3 392.5h.01M458.2 397.6h.01M460.2 401.7h.01M459.7 403.0h.01M458.7 400.8h.01M456.1 409.6h.01M459.9 395.9h.01M458.3 396.1h.01M455.7 401.0h.01M456.4 406.8h.01M457.0 395.4h.01M458.0 404.8h.01M456.1 400.0h.01M458.8 400.2h.01M459.0 411.0h.01M456.3 391.2h.01M455.9 403.8h.01M458.9 407.3h.01M455.7 407.2h.01M459.4 396.9h.01M458.0 401.9h.01M458.5 411.3h.01M455.6 402.3h.01M456.1 402.0h.01M460.2 393.5h.01M458.9 395.9h.01M457.7 399.7h.01M460.5 403.0h.01M456.2 396.3h.01M458.1 397.5h.01M456.3 411.8h.01M456.0 404.8h.01M458.2 396.5h.01M457.1 398.8h.01M455.9 391.9h.01M458.2 404.9h.01M457.7 401.9h.01M458.1 398.2h.01M458.0 410.2h.01M457.4 395.1h.01M459.4 408.9h.01M458.5 409.5h.01M458.5 401.1h.01M458.3 395.5h.01M459.9 406.4h.01M458.9 405.2h.01M457.3 410.1h.01M458.0 402.1h.01M458.7 395.6h.01M459.6 406.6h.01M456.6 396.7h.01M459.9 395.5h.01M456.1 397.5h.01M458.6 407.1h.01M456.6 393.9h.01M456.1 400.3h.01M457.9 407.3h.01M455.6 397.1h.01M459.9 399.0h.01M457.9 394.3h.01M458.4 396.8h.01M456.1 396.7h.01M456.8 394.9h.01M455.7 400.2h.01M457.1 405.9h.01M459.4 397.4h.01M456.8 411.1h.01M460.2 407.5h.01M459.6 394.7h.01M457.0 397.0h.01M457.4 402.9h.01M458.4 403.4h.01M456.5 405.5h.01M456.8 405.6h.01M458.9 400.1h.01M460.2 402.4h.01M456.2 409.1h.01M457.5 396.8h.01M459.1 396.5h.01M456.7 396.4h.01M458.0 398.0h.01M456.0 403.3h.01M456.6 397.3h.01M456.0 404.8h.01M456.3 397.8h.01M457.5 402.9h.01M458.1 393.3h.01M457.7 402.8h.01M459.0 395.3h.01M460.2 400.3h.01M459.0 412.9h.01M457.5 414.5h.01M460.4 391.3h.01M456.8 413.2h.01M459.5 415.7h.01M458.9 390.9h.01M469.9 402.0h.01M472.2 406.6h.01M471.6 404.5h.01M470.3 410.0h.01M468.4 409.3h.01M469.0 394.7h.01M470.0 410.3h.01M467.9 405.3h.01M469.0 399.3h.01M472.5 406.3h.01M471.5 404.0h.01M468.3 404.2h.01M468.1 394.4h.01M472.2 396.9h.01M468.5 399.5h.01M471.9 407.4h.01M468.7 401.3h.01M471.3 407.5h.01M467.9 394.7h.01M469.8 408.1h.01M469.9 410.6h.01M470.4 405.3h.01M469.3 396.6h.01M467.9 392.1h.01M469.2 394.7h.01M472.3 399.9h.01M469.4 404.5h.01M470.0 392.9h.01M470.5 406.8h.01M469.1 398.2h.01M469.7 405.7h.01M469.6 396.6h.01M471.9 409.6h.01M471.5 396.1h.01M472.1 395.1h.01M469.2 405.2h.01M471.6 402.7h.01M470.2 396.1h.01M467.2 396.8h.01M469.2 408.8h.01M470.9 398.4h.01M470.4 406.8h.01M472.1 405.7h.01M472.0 391.4h.01M471.6 397.7h.01M468.0 408.1h.01M469.8 398.6h.01M470.2 401.5h.01M471.1 403.1h.01M470.1 410.3h.01M468.8 395.8h.01M469.4 401.8h.01M468.3 411.7h.01M471.8 411.5h.01M468.3 406.2h.01M469.5 405.9h.01M468.1 408.7h.01M468.9 394.6h.01M470.5 395.9h.01M471.7 398.0h.01M470.5 402.9h.01M470.7 396.6h.01M467.9 394.4h.01M469.4 406.5h.01M470.5 409.1h.01M471.2 393.4h.01M469.5 403.5h.01M471.1 403.1h.01M469.9 409.9h.01M472.2 399.7h.01M471.0 406.6h.01M472.3 397.3h.01M470.5 410.4h.01M470.4 402.6h.01M467.9 394.1h.01M468.7 388.7h.01M471.2 400.3h.01M469.2 395.8h.01M470.6 408.2h.01M469.4 398.6h.01M471.0 400.8h.01M471.6 409.0h.01M471.6 397.0h.01M469.0 408.0h.01M470.5 398.3h.01M470.0 404.0h.01M469.6 404.2h.01M468.6 406.5h.01M470.6 404.5h.01M469.8 397.0h.01M471.6 413.5h.01M471.1 415.5h.01M471.4 415.3h.01M469.4 389.0h.01M469.6 388.2h.01M479.6 398.2h.01M479.8 401.5h.01M482.3 403.5h.01M480.8 400.1h.01M480.3 407.9h.01M479.2 407.2h.01M479.5 407.3h.01M481.8 404.3h.01M482.2 392.1h.01M481.3 410.3h.01M481.0 406.1h.01M482.7 395.3h.01M479.6 397.7h.01M482.7 400.3h.01M482.2 401.9h.01M479.8 408.0h.01M481.9 394.1h.01M482.6 404.9h.01M482.6 390.2h.01M482.1 398.8h.01M482.4 401.9h.01M480.7 404.6h.01M482.0 408.2h.01M480.1 397.1h.01M479.0 407.0h.01M479.7 407.2h.01M481.6 403.3h.01M483.2 394.6h.01M481.1 392.6h.01M481.0 397.2h.01M480.7 405.9h.01M479.8 405.5h.01M481.8 398.9h.01M479.2 400.7h.01M479.1 405.1h.01M480.9 397.2h.01M482.5 400.2h.01M479.4 407.3h.01M482.6 396.7h.01M480.7 394.5h.01M480.9 408.3h.01M482.3 402.4h.01M482.2 399.1h.01M478.6 397.4h.01M479.4 409.2h.01M480.7 405.9h.01M479.9 398.9h.01M481.5 401.8h.01M481.0 410.3h.01M480.7 397.7h.01M482.3 393.8h.01M479.0 408.7h.01M482.1 403.3h.01M482.4 409.9h.01M480.6 402.3h.01M479.3 409.2h.01M482.0 396.1h.01M478.9 401.8h.01M481.6 397.5h.01M481.3 403.6h.01M479.7 394.0h.01M479.9 404.3h.01M482.0 403.9h.01M480.3 395.1h.01M481.4 400.3h.01M480.5 407.8h.01M479.2 397.8h.01M481.7 398.9h.01M482.2 404.8h.01M478.3 396.9h.01M481.1 391.1h.01M479.1 398.5h.01M479.5 402.1h.01M479.7 406.2h.01M478.9 405.7h.01M479.0 405.9h.01M481.6 403.8h.01M478.8 405.8h.01M482.4 409.8h.01M481.9 395.7h.01M481.8 399.2h.01M478.4 403.8h.01M478.7 407.3h.01M480.9 402.7h.01M479.0 398.3h.01M480.2 398.4h.01M483.0 395.6h.01M480.7 405.0h.01M481.6 401.9h.01M479.5 396.9h.01M481.5 419.5h.01M479.3 411.5h.01M480.7 412.9h.01M481.8 419.2h.01M483.0 414.0h.01M480.9 414.5h.01M480.2 415.5h.01M479.1 421.8h.01M490.8 398.6h.01M489.9 395.3h.01M492.3 376.1h.01M492.8 401.1h.01M490.4 388.9h.01M493.6 398.0h.01M490.3 393.3h.01M490.7 416.7h.01M490.7 379.7h.01M492.5 405.4h.01M492.7 386.3h.01M490.4 411.8h.01M492.2 389.8h.01M491.3 399.7h.01M489.5 412.9h.01M492.2 403.7h.01M491.9 404.7h.01M488.8 398.0h.01M492.6 385.0h.01M489.7 408.5h.01M490.1 392.7h.01M491.1 397.8h.01M489.5 393.0h.01M492.9 390.2h.01M491.7 400.2h.01M493.9 411.7h.01M492.6 402.0h.01M491.3 394.2h.01M491.3 379.4h.01M490.5 416.3h.01M492.9 391.0h.01M492.2 399.5h.01M491.3 398.4h.01M491.6 408.8h.01M493.2 402.7h.01M490.3 378.1h.01M490.0 410.2h.01M490.3 377.7h.01M491.2 404.8h.01M491.6 391.2h.01M491.0 403.4h.01M492.3 402.4h.01M489.5 394.4h.01M491.9 382.4h.01M490.2 408.9h.01M489.3 391.3h.01M492.1 406.5h.01M493.7 387.3h.01M491.0 382.8h.01M489.1 411.1h.01M490.7 399.1h.01M492.7 394.3h.01M492.5 391.1h.01M490.5 412.1h.01M492.4 400.2h.01M489.0 393.3h.01M492.1 406.8h.01M490.7 397.8h.01M492.8 377.8h.01M491.4 407.5h.01M493.9 400.3h.01M490.8 403.6h.01M490.8 403.2h.01M489.9 388.6h.01M490.6 398.3h.01M491.3 378.3h.01M490.2 400.5h.01M493.3 389.3h.01M493.4 395.4h.01M490.7 411.7h.01M488.7 395.1h.01M491.5 406.4h.01M488.8 404.6h.01M492.7 390.0h.01M489.6 382.7h.01M492.2 407.0h.01M493.1 388.1h.01M491.8 398.1h.01M491.5 412.8h.01M490.6 401.4h.01M493.7 404.9h.01M490.5 381.9h.01M491.5 400.1h.01M489.6 399.2h.01M491.2 383.0h.01M491.3 385.9h.01M489.1 396.3h.01M491.7 395.0h.01M492.0 391.5h.01M490.2 403.5h.01M491.4 396.3h.01M490.9 382.1h.01M491.1 415.7h.01M492.0 405.8h.01M492.3 410.6h.01M492.9 405.3h.01M490.1 401.0h.01M491.6 392.1h.01M492.1 405.1h.01M493.2 405.3h.01M491.2 383.1h.01M491.5 406.9h.01M490.2 380.9h.01M491.3 391.4h.01M489.3 398.2h.01M492.3 395.6h.01M492.5 403.4h.01M491.5 396.1h.01M489.4 382.0h.01M490.1 377.9h.01M491.1 404.0h.01M491.6 404.8h.01M493.7 404.3h.01M490.9 382.9h.01M493.7 396.3h.01M489.5 386.2h.01M493.7 414.3h.01M493.5 404.6h.01M490.4 386.0h.01M489.0 396.5h.01M491.3 406.9h.01M489.3 401.9h.01M491.0 390.2h.01M489.9 409.0h.01M491.4 387.0h.01M489.4 396.3h.01M492.4 398.1h.01M490.9 399.0h.01M491.0 400.5h.01M492.5 380.1h.01M491.0 422.3h.01M491.7 422.7h.01M493.5 424.4h.01M489.3 416.2h.01M489.8 423.3h.01M492.0 415.7h.01M491.0 427.4h.01M490.5 422.8h.01M492.1 416.0h.01M490.8 420.2h.01M500.2 406.2h.01M500.7 401.8h.01M501.6 398.7h.01M501.1 404.8h.01M501.2 386.8h.01M499.8 397.6h.01M502.5 401.5h.01M503.9 410.1h.01M503.1 407.9h.01M502.1 387.3h.01M503.1 394.4h.01M501.7 380.9h.01M500.1 398.0h.01M504.6 402.8h.01M499.8 398.6h.01M504.4 391.7h.01M502.4 386.6h.01M501.0 381.2h.01M502.1 406.3h.01M499.4 403.4h.01M502.3 394.9h.01M504.0 396.3h.01M499.3 412.9h.01M502.5 398.4h.01M500.1 389.4h.01M501.2 389.9h.01M504.7 396.1h.01M501.6 397.1h.01M502.3 393.1h.01M502.9 390.3h.01M502.6 394.7h.01M501.3 394.0h.01M501.0 393.4h.01M500.7 383.4h.01M500.3 397.9h.01M501.3 394.4h.01M499.4 406.7h.01M501.3 393.1h.01M503.1 390.2h.01M499.5 404.6h.01M498.9 402.7h.01M499.9 381.5h.01M500.7 380.6h.01M502.7 401.7h.01M499.5 401.5h.01M501.9 390.6h.01M501.6 403.2h.01M503.9 400.8h.01M502.2 401.8h.01M502.8 400.8h.01M498.6 412.9h.01M503.6 387.2h.01M501.1 397.4h.01M501.1 406.3h.01M500.0 399.7h.01M503.3 379.1h.01M500.7 387.7h.01M502.6 386.1h.01M502.1 395.7h.01M503.5 394.7h.01M499.9 389.4h.01M501.3 394.1h.01M499.2 401.0h.01M503.6 391.8h.01M499.6 379.4h.01M502.7 396.4h.01M504.0 393.7h.01M501.2 410.5h.01M500.7 388.0h.01M499.3 402.3h.01M502.1 384.4h.01M503.0 388.3h.01M502.1 386.9h.01M501.6 388.8h.01M502.2 404.1h.01M500.5 404.7h.01M501.6 389.4h.01M500.4 383.9h.01M501.3 388.5h.01M503.7 410.8h.01M500.3 393.7h.01M499.4 410.8h.01M500.6 410.7h.01M502.7 402.8h.01M502.0 377.1h.01M501.6 407.1h.01M501.2 379.6h.01M500.4 388.5h.01M503.4 394.1h.01M502.3 391.6h.01M501.8 385.5h.01M502.7 385.6h.01M500.9 395.8h.01M503.1 386.2h.01M499.9 393.3h.01M503.0 407.3h.01M501.2 395.7h.01M500.6 383.0h.01M499.7 385.2h.01M500.7 392.6h.01M502.5 396.7h.01M502.4 399.9h.01M501.3 412.5h.01M501.9 391.8h.01M502.9 392.2h.01M500.4 387.7h.01M500.9 397.9h.01M501.3 387.9h.01M504.6 385.1h.01M501.4 398.6h.01M502.2 396.9h.01M501.5 393.8h.01M501.8 390.2h.01M502.2 386.7h.01M502.3 396.8h.01M500.9 406.9h.01M503.0 391.6h.01M504.3 409.2h.01M499.2 382.5h.01M504.3 391.9h.01M504.4 418.1h.01M501.7 425.0h.01M499.5 420.9h.01M501.8 378.2h.01M499.7 415.3h.01M501.3 423.7h.01M502.9 420.0h.01M501.1 426.9h.01M504.1 414.5h.01M499.6 416.6h.01M511.9 380.0h.01M509.6 380.2h.01M510.4 384.1h.01M511.8 386.0h.01M509.7 385.3h.01M510.7 390.9h.01M509.7 385.3h.01M510.5 396.3h.01M509.5 394.1h.01M509.2 396.0h.01M512.6 398.2h.01M512.6 392.1h.01M510.9 375.8h.01M510.1 384.2h.01M512.9 384.2h.01M511.8 404.2h.01M509.1 398.8h.01M509.5 399.9h.01M509.7 398.7h.01M509.4 399.1h.01M512.0 382.2h.01M510.9 382.4h.01M510.5 382.1h.01M510.5 379.4h.01M510.5 386.3h.01M511.3 382.6h.01M511.3 377.3h.01M512.6 402.7h.01M512.7 391.8h.01M510.7 398.7h.01M511.0 389.0h.01M509.5 379.4h.01M512.6 372.3h.01M512.0 397.1h.01M511.8 405.9h.01M510.3 388.1h.01M510.0 399.9h.01M511.5 390.7h.01M513.0 405.7h.01M511.2 410.2h.01M509.2 398.9h.01M512.4 405.1h.01M512.7 389.8h.01M512.4 395.0h.01M510.3 402.6h.01M512.9 397.4h.01M510.3 383.9h.01M509.7 408.8h.01M511.4 388.0h.01M511.4 396.3h.01M511.6 395.1h.01M512.0 394.7h.01M511.4 382.3h.01M508.4 383.5h.01M512.0 399.8h.01M511.4 405.5h.01M509.8 397.5h.01M511.3 387.2h.01M509.2 380.9h.01M508.4 390.7h.01M510.8 394.3h.01M509.1 406.3h.01M511.6 396.5h.01M510.3 404.4h.01M512.6 395.9h.01M512.2 397.7h.01M512.8 386.1h.01M512.3 381.7h.01M511.5 382.4h.01M511.8 394.2h.01M510.2 380.7h.01M510.4 393.0h.01M511.0 388.4h.01M509.5 387.0h.01M511.2 390.8h.01M511.0 395.6h.01M511.8 394.0h.01M509.9 395.4h.01M512.1 384.5h.01M512.5 385.4h.01M513.1 388.0h.01M513.6 386.9h.01M510.0 400.7h.01M513.4 409.0h.01M510.8 388.0h.01M508.7 387.5h.01M512.7 384.2h.01M511.6 402.1h.01M509.5 391.7h.01M513.2 390.9h.01M509.5 381.5h.01M510.3 391.9h.01M509.3 397.5h.01M511.1 382.6h.01M512.2 380.1h.01M512.5 403.0h.01M511.6 398.4h.01M512.8 384.4h.01M511.3 406.9h.01M513.0 395.3h.01M512.1 412.6h.01M512.4 411.1h.01M512.0 411.0h.01M510.4 412.6h.01M512.3 414.6h.01M511.1 410.9h.01M519.8 387.5h.01M518.7 415.7h.01M519.4 398.2h.01M522.1 383.6h.01M519.8 387.8h.01M520.7 408.9h.01M521.1 394.3h.01M521.2 389.4h.01M519.3 393.6h.01M519.3 398.4h.01M519.0 384.7h.01M522.2 391.4h.01M518.4 399.9h.01M522.1 378.6h.01M518.4 407.6h.01M521.2 406.2h.01M520.8 381.7h.01M519.3 378.7h.01M522.0 387.5h.01M520.1 390.2h.01M522.2 376.1h.01M519.4 420.2h.01M521.0 367.5h.01M520.8 385.5h.01M519.5 404.1h.01M518.7 388.6h.01M518.0 380.9h.01M517.9 400.4h.01M521.8 407.8h.01M520.9 370.4h.01M519.6 374.1h.01M520.9 368.5h.01M519.4 394.6h.01M519.3 391.0h.01M520.9 376.7h.01M517.6 367.7h.01M521.9 376.5h.01M520.5 412.4h.01M518.4 393.2h.01M519.5 396.1h.01M518.0 398.3h.01M518.0 377.4h.01M518.9 397.2h.01M519.4 428.7h.01M522.5 388.0h.01M522.4 386.2h.01M519.1 399.5h.01M518.7 376.3h.01M520.1 373.5h.01M522.7 383.7h.01M521.4 370.7h.01M522.3 398.2h.01M521.0 382.7h.01M521.0 367.8h.01M519.6 391.9h.01M521.6 397.4h.01M522.1 390.6h.01M518.4 393.9h.01M521.2 399.3h.01M521.7 407.9h.01M521.7 385.7h.01M519.5 389.8h.01M520.6 392.3h.01M519.6 415.8h.01M520.7 375.5h.01M518.3 405.3h.01M521.3 375.9h.01M521.4 410.8h.01M519.4 417.8h.01M519.4 370.3h.01M521.3 360.6h.01M522.1 398.8h.01M520.7 407.6h.01M521.4 377.7h.01M518.7 387.6h.01M519.7 389.7h.01M520.0 386.9h.01M519.6 390.5h.01M519.9 374.1h.01M519.6 405.9h.01M520.2 404.5h.01M521.5 400.2h.01M519.4 375.4h.01M517.8 403.4h.01M520.1 382.2h.01M518.3 390.5h.01M518.5 397.7h.01M521.5 398.3h.01M519.3 406.5h.01M518.3 387.6h.01M519.4 360.8h.01M518.5 412.2h.01M521.9 389.0h.01M518.9 386.4h.01M519.2 400.2h.01M518.5 399.6h.01M522.5 415.9h.01M522.2 378.3h.01M518.7 407.7h.01M517.9 376.0h.01M520.3 406.4h.01M522.0 393.2h.01M520.2 401.3h.01M520.9 389.4h.01M521.3 394.1h.01M518.2 394.0h.01M522.1 394.1h.01M517.5 407.9h.01M522.9 370.9h.01M519.8 398.8h.01M521.0 344.1h.01M519.2 345.8h.01M519.8 445.0h.01M520.1 357.4h.01M518.4 423.2h.01M522.4 428.0h.01M521.5 434.4h.01M518.5 438.2h.01M518.4 425.7h.01M521.6 341.4h.01M519.0 432.8h.01M521.6 439.6h.01M518.6 351.1h.01M520.7 335.4h.01M520.8 340.9h.01M521.1 355.9h.01M520.1 357.3h.01M519.2 357.6h.01M518.1 430.0h.01M518.3 354.9h.01M522.3 347.2h.01M519.6 353.0h.01M518.2 441.4h.01M522.6 351.1h.01M521.1 437.3h.01M530.2 396.9h.01M528.9 370.9h.01M527.6 380.9h.01M532.8 372.2h.01M530.9 389.6h.01M528.6 401.6h.01M531.6 396.6h.01M530.7 379.2h.01M531.8 385.2h.01M529.9 404.2h.01M527.7 379.1h.01M532.6 396.3h.01M528.4 400.5h.01M530.4 376.3h.01M531.2 374.2h.01M528.2 378.9h.01M531.6 390.5h.01M531.6 386.0h.01M530.1 409.5h.01M531.4 375.1h.01M526.7 402.7h.01M527.5 383.6h.01M528.9 390.2h.01M532.8 412.5h.01M530.6 406.8h.01M528.4 397.6h.01M530.1 383.8h.01M528.2 379.7h.01M529.2 380.2h.01M529.0 408.9h.01M528.6 404.1h.01M527.8 400.5h.01M533.1 402.7h.01M528.0 394.8h.01M528.7 393.1h.01M527.8 396.0h.01M529.0 377.8h.01M530.7 406.6h.01M530.2 408.0h.01M529.5 380.5h.01M528.3 398.9h.01M529.0 380.7h.01M527.4 378.8h.01M532.6 392.3h.01M527.5 402.6h.01M532.6 380.3h.01M532.4 383.9h.01M530.9 394.6h.01M527.5 401.6h.01M526.5 401.6h.01M531.0 390.2h.01M529.9 392.4h.01M528.3 399.7h.01M527.9 401.6h.01M532.7 384.3h.01M532.1 400.6h.01M527.5 406.9h.01M528.4 390.9h.01M532.4 396.5h.01M532.0 388.4h.01M529.2 373.3h.01M531.3 376.7h.01M531.1 392.6h.01M527.6 402.5h.01M533.2 387.4h.01M528.3 393.5h.01M528.0 392.6h.01M530.8 387.4h.01M527.1 402.1h.01M532.1 377.7h.01M528.8 386.7h.01M531.4 381.5h.01M529.0 387.2h.01M528.5 389.9h.01M530.4 388.5h.01M528.3 397.5h.01M530.0 397.5h.01M532.0 386.5h.01M530.7 390.5h.01M530.5 372.0h.01M528.0 384.3h.01M530.2 411.5h.01M533.0 383.3h.01M530.3 396.9h.01M532.3 393.7h.01M532.1 402.1h.01M527.6 387.1h.01M532.2 402.6h.01M532.6 392.0h.01M531.1 404.9h.01M531.1 363.4h.01M526.5 413.3h.01M527.4 341.8h.01M532.9 357.0h.01M526.5 347.2h.01M527.8 412.8h.01M527.5 359.4h.01M528.9 356.4h.01M532.1 351.8h.01M533.1 412.3h.01M527.2 348.2h.01M531.0 414.3h.01M532.3 341.2h.01M531.2 364.0h.01M533.4 363.5h.01M530.2 342.7h.01M531.1 416.5h.01M527.4 349.4h.01M530.7 371.8h.01M529.3 349.2h.01M531.2 354.5h.01M531.7 368.4h.01M529.4 340.9h.01M532.7 370.5h.01M527.1 357.9h.01M527.0 357.1h.01M533.1 415.8h.01M532.3 367.7h.01M530.8 340.1h.01M531.0 367.1h.01M537.8 407.6h.01M536.8 415.8h.01M538.7 390.3h.01M540.0 423.5h.01M540.0 397.7h.01M540.1 382.5h.01M536.3 394.5h.01M537.7 426.5h.01M539.8 411.4h.01M540.0 404.6h.01M538.9 400.1h.01M538.3 373.1h.01M537.6 401.5h.01M536.8 400.9h.01M539.4 400.0h.01M540.1 390.3h.01M536.5 385.3h.01M536.9 394.2h.01M537.8 387.1h.01M540.1 400.6h.01M540.2 405.0h.01M539.8 393.3h.01M537.2 381.7h.01M536.6 382.5h.01M538.1 418.3h.01M537.9 419.0h.01M539.3 393.3h.01M538.9 413.0h.01M540.6 407.2h.01M540.1 387.5h.01M539.3 418.3h.01M539.9 385.5h.01M537.9 374.6h.01M538.0 407.0h.01M540.3 414.6h.01M536.0 420.7h.01M539.7 390.1h.01M538.7 409.7h.01M539.2 399.3h.01M540.4 409.0h.01M536.6 395.2h.01M538.5 408.3h.01M536.5 383.2h.01M537.6 408.6h.01M538.0 399.3h.01M538.2 388.9h.01M538.9 382.2h.01M540.3 417.1h.01M538.4 407.2h.01M539.8 410.7h.01M537.5 417.1h.01M539.5 420.6h.01M536.4 397.0h.01M539.6 388.0h.01M540.8 403.1h.01M539.5 408.4h.01M538.8 410.7h.01M540.2 408.6h.01M539.8 411.8h.01M537.9 396.2h.01M540.5 398.7h.01M537.1 408.2h.01M538.7 401.6h.01M539.2 415.2h.01M537.8 396.3h.01M540.6 399.2h.01M537.2 403.9h.01M537.8 383.4h.01M540.6 418.9h.01M540.4 410.8h.01M540.4 350.0h.01M539.9 355.0h.01M539.0 345.5h.01M536.9 338.6h.01M540.7 339.7h.01M539.8 354.9h.01M537.3 350.6h.01M539.3 337.8h.01M536.7 338.7h.01M540.7 372.4h.01M537.5 342.1h.01M539.5 346.2h.01M538.1 339.6h.01M539.0 341.9h.01M539.8 364.1h.01M539.3 348.9h.01M540.7 366.5h.01M538.0 349.6h.01M538.6 365.8h.01M539.8 340.0h.01M538.6 357.2h.01M538.4 338.6h.01M539.0 362.3h.01M539.2 341.8h.01M539.2 356.8h.01M494.8 348.6h.01M492.0 366.2h.01" fill="none" stroke="#1f77b4" stroke-width="2.0" stroke-linecap="round" clip-path="url(#cf)"/>
<line x1="315.4" y1="138.6" x2="537.9" y2="138.6" stroke="#222" stroke-width="1.3" stroke-dasharray="3.2,2.2"/>
<line x1="314.6" y1="265.7" x2="540.4" y2="265.7" stroke="#222" stroke-width="1.3" stroke-dasharray="3.2,2.2"/>
<line x1="315.5" y1="418.3" x2="542.7" y2="418.3" stroke="#222" stroke-width="1.3" stroke-dasharray="3.2,2.2"/>
</svg>
</body></html>
